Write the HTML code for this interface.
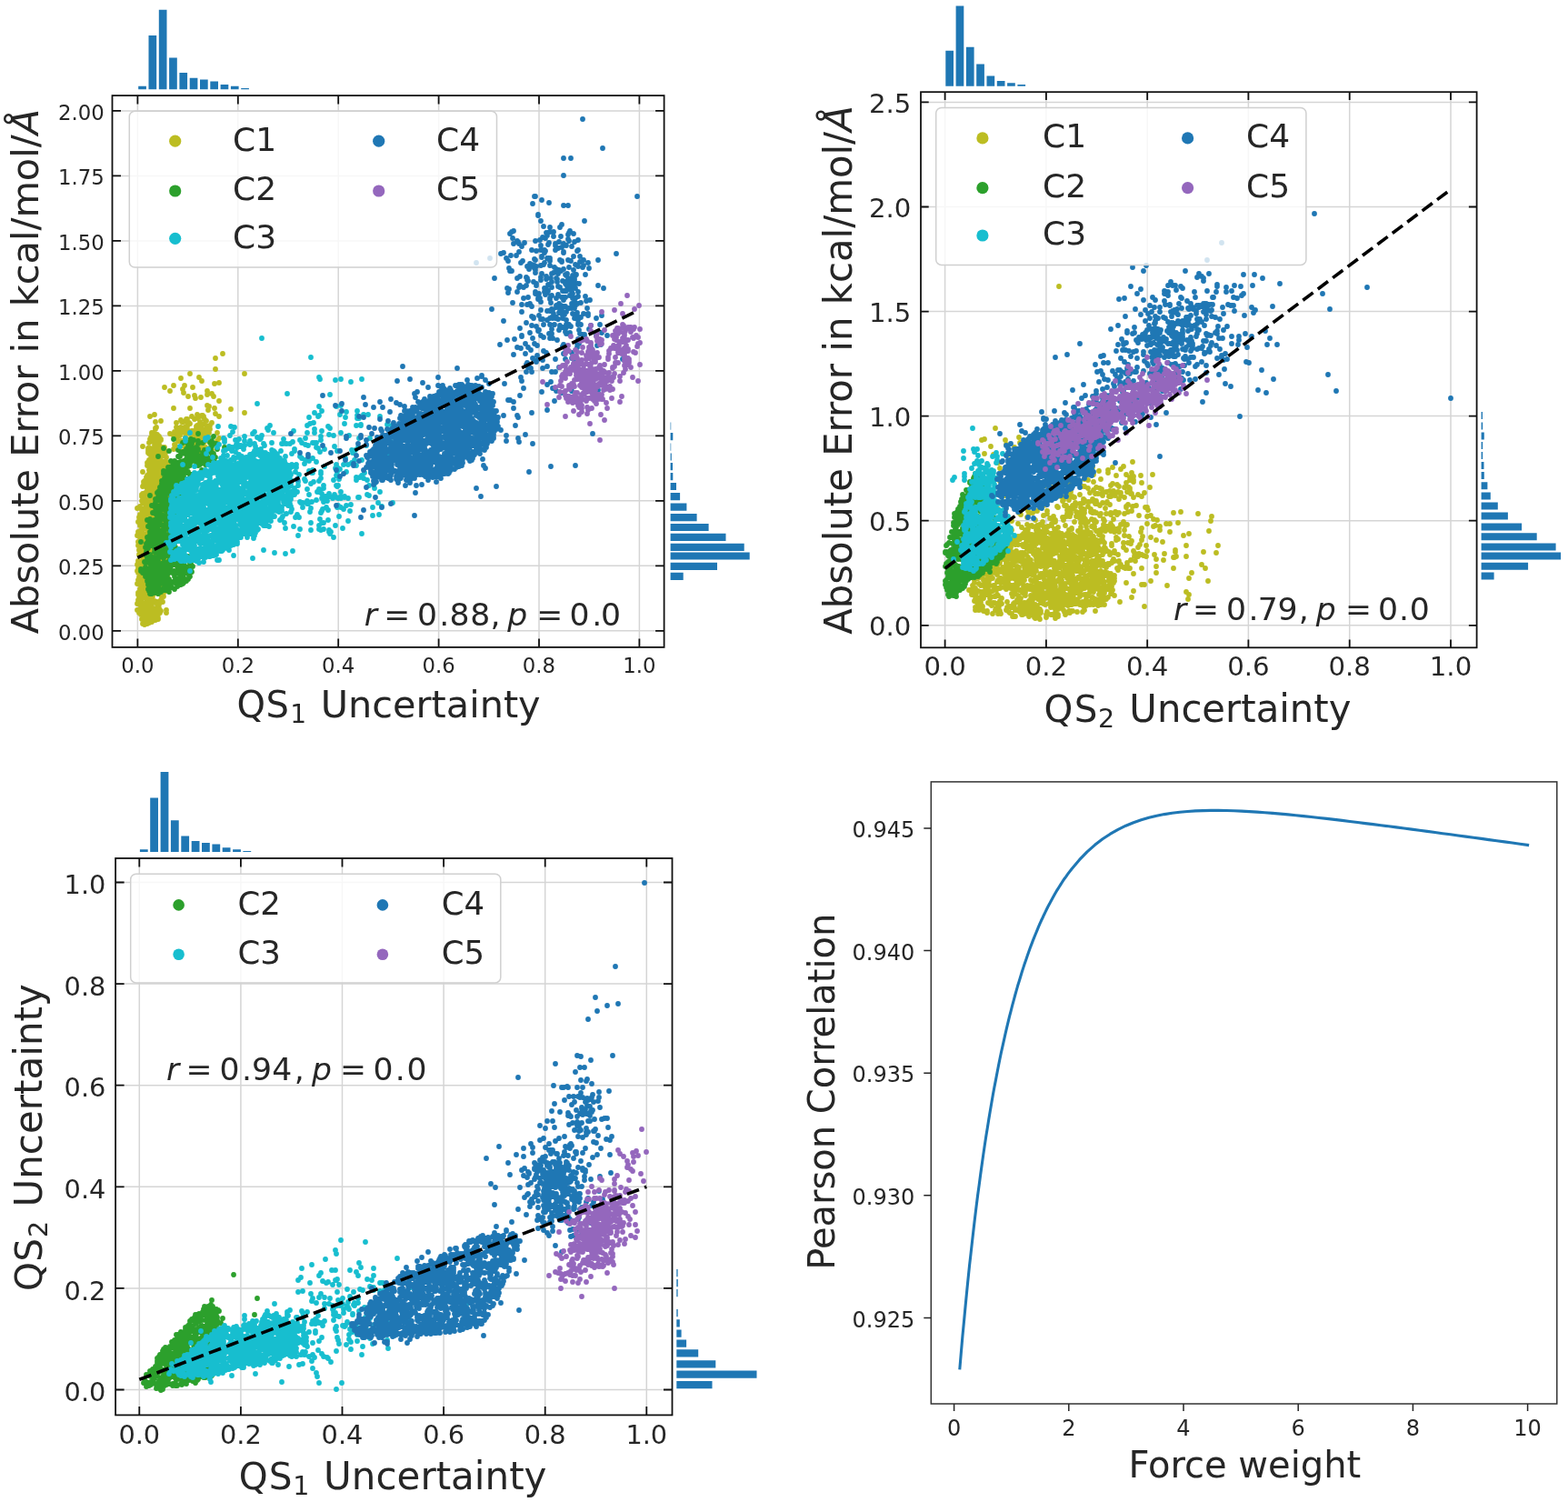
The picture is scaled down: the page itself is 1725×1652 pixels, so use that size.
<!DOCTYPE html>
<html><head><meta charset="utf-8"><title>figure</title><style>html,body{margin:0;padding:0;background:#fff;}svg{display:block;}</style></head><body>
<svg width="1725" height="1652" viewBox="0 0 1725 1652" font-family="'DejaVu Sans', 'Liberation Sans', sans-serif">
<rect width="1725" height="1652" fill="#fff"/>
<path d="M151.4 105.1V711.9M261.8 105.1V711.9M372.2 105.1V711.9M482.6 105.1V711.9M593 105.1V711.9M703.4 105.1V711.9M123.5 693.8H730.6M123.5 622.3H730.6M123.5 550.8H730.6M123.5 479.3H730.6M123.5 407.8H730.6M123.5 336.4H730.6M123.5 264.9H730.6M123.5 193.4H730.6M123.5 121.9H730.6" stroke="#d5d5d5" stroke-width="1.5" fill="none"/>
<path d="M156 545h0M171 630h0M176 542h0M152 618h0M189 552h0M154 557h0M156 580h0M176 622h0M166 663h0M172 647h0M162 575h0M157 543h0M183 594h0M172 629h0M184 559h0M174 676h0M159 559h0M174 575h0M171 651h0M165 635h0M175 507h0M161 535h0M184 630h0M187 560h0M170 674h0M162 654h0M188 589h0M169 673h0M159 663h0M160 619h0M152 619h0M159 587h0M165 596h0M170 510h0M188 591h0M180 616h0M165 574h0M152 617h0M158 568h0M170 627h0M153 638h0M175 493h0M164 538h0M164 583h0M152 638h0M185 549h0M170 661h0M181 620h0M159 546h0M154 655h0M176 610h0M184 634h0M159 545h0M155 631h0M152 654h0M163 493h0M171 635h0M160 667h0M164 563h0M162 652h0M169 584h0M164 650h0M182 518h0M153 569h0M168 534h0M161 556h0M186 601h0M173 507h0M178 620h0M179 558h0M183 555h0M189 523h0M157 570h0M177 594h0M157 553h0M169 579h0M183 608h0M182 591h0M166 680h0M157 669h0M161 525h0M166 500h0M187 542h0M177 545h0M158 656h0M171 531h0M176 514h0M160 678h0M156 546h0M174 639h0M164 580h0M177 648h0M165 525h0M156 544h0M164 595h0M167 519h0M188 527h0M174 653h0M180 544h0M154 627h0M179 591h0M157 628h0M170 519h0M153 640h0M180 557h0M184 519h0M162 606h0M183 607h0M157 582h0M167 675h0M171 472h0M163 497h0M176 563h0M161 552h0M177 660h0M166 481h0M181 511h0M163 675h0M168 524h0M174 554h0M172 530h0M162 600h0M155 602h0M164 611h0M174 603h0M157 612h0M184 596h0M183 515h0M177 560h0M188 519h0M163 528h0M177 502h0M165 644h0M182 636h0M167 656h0M157 617h0M187 559h0M179 572h0M182 590h0M174 599h0M169 525h0M174 637h0M174 508h0M180 522h0M184 580h0M171 670h0M187 612h0M155 575h0M166 684h0M155 676h0M176 506h0M170 497h0M169 530h0M157 636h0M176 652h0M168 497h0M173 482h0M171 538h0M156 619h0M172 638h0M186 569h0M158 609h0M151 671h0M154 662h0M170 492h0M153 639h0M173 559h0M168 572h0M160 549h0M180 554h0M173 645h0M163 611h0M161 618h0M182 498h0M169 479h0M168 554h0M154 642h0M158 605h0M166 641h0M154 625h0M153 658h0M160 683h0M167 631h0M181 647h0M176 484h0M153 672h0M187 534h0M166 608h0M168 533h0M182 632h0M166 669h0M157 620h0M175 561h0M155 605h0M178 657h0M184 625h0M189 522h0M156 662h0M188 605h0M175 597h0M179 531h0M166 664h0M163 498h0M181 535h0M164 541h0M172 613h0M169 493h0M191 554h0M171 623h0M158 657h0M171 577h0M165 521h0M158 530h0M175 633h0M167 684h0M152 587h0M167 535h0M175 480h0M172 600h0M171 599h0M172 512h0M167 636h0M167 530h0M153 620h0M184 610h0M161 594h0M170 652h0M180 545h0M169 638h0M166 572h0M178 566h0M158 625h0M175 636h0M173 565h0M168 622h0M160 581h0M154 559h0M156 622h0M166 522h0M165 680h0M174 634h0M187 611h0M166 531h0M159 646h0M175 671h0M151 642h0M167 669h0M164 487h0M153 659h0M174 572h0M177 484h0M182 587h0M169 652h0M160 607h0M182 616h0M190 569h0M189 530h0M156 579h0M152 596h0M159 533h0M168 494h0M179 542h0M169 507h0M172 674h0M182 515h0M179 587h0M161 576h0M181 589h0M168 677h0M163 586h0M162 685h0M161 628h0M152 574h0M184 523h0M156 551h0M164 521h0M175 559h0M167 619h0M167 476h0M152 652h0M163 588h0M162 683h0M179 508h0M163 495h0M166 504h0M180 612h0M183 503h0M176 597h0M158 617h0M182 642h0M180 560h0M168 484h0M156 604h0M188 523h0M180 556h0M175 669h0M179 543h0M167 477h0M165 498h0M175 590h0M171 639h0M180 635h0M189 571h0M186 519h0M167 495h0M166 516h0M167 668h0M184 557h0M169 608h0M172 568h0M157 677h0M176 525h0M177 652h0M157 567h0M185 616h0M174 612h0M159 564h0M173 499h0M164 645h0M177 564h0M176 565h0M172 635h0M164 619h0M166 553h0M188 608h0M170 485h0M170 491h0M162 523h0M161 528h0M190 566h0M164 517h0M191 551h0M158 667h0M183 638h0M174 670h0M180 630h0M181 534h0M169 680h0M160 666h0M179 541h0M170 572h0M188 555h0M162 658h0M188 518h0M191 564h0M158 632h0M166 554h0M157 656h0M152 671h0M189 531h0M166 661h0M177 506h0M170 625h0M181 522h0M184 565h0M167 602h0M173 544h0M163 597h0M160 643h0M175 523h0M165 483h0M164 512h0M151 628h0M186 610h0M177 532h0M181 517h0M190 574h0M160 563h0M189 566h0M172 592h0M171 597h0M163 522h0M188 535h0M183 604h0M169 586h0M158 669h0M173 478h0M179 527h0M172 649h0M184 624h0M169 531h0M187 570h0M164 649h0M177 515h0M180 656h0M176 569h0M174 666h0M190 571h0M164 571h0M155 675h0M169 670h0M171 593h0M170 641h0M176 530h0M187 601h0M155 570h0M165 604h0M158 666h0M162 512h0M165 577h0M186 605h0M161 533h0M181 651h0M174 633h0M157 613h0M186 599h0M167 612h0M164 499h0M172 567h0M152 630h0M162 581h0M175 627h0M182 621h0M177 615h0M181 549h0M175 488h0M154 573h0M154 654h0M182 644h0M183 511h0M170 621h0M174 483h0M169 486h0M154 621h0M162 603h0M164 647h0M165 510h0M180 576h0M158 645h0M169 551h0M176 555h0M156 644h0M154 566h0M159 550h0M160 612h0M154 659h0M160 542h0M160 602h0M171 552h0M178 653h0M166 643h0M158 614h0M155 650h0M162 580h0M158 593h0M171 502h0M180 530h0M159 591h0M169 603h0M166 607h0M179 592h0M161 612h0M179 613h0M174 598h0M172 550h0M156 590h0M174 545h0M191 567h0M175 489h0M156 650h0M176 594h0M164 676h0M166 540h0M186 561h0M182 614h0M168 586h0M158 608h0M176 602h0M185 567h0M183 580h0M162 565h0M173 528h0M156 645h0M173 496h0M173 510h0M165 649h0M165 493h0M180 533h0M171 669h0M168 558h0M156 648h0M163 636h0M187 538h0M187 556h0M160 674h0M164 610h0M181 607h0M180 649h0M160 554h0M164 495h0M170 648h0M162 556h0M186 555h0M162 555h0M186 583h0M152 585h0M158 643h0M169 581h0M165 545h0M167 681h0M186 623h0M175 502h0M167 595h0M184 542h0M172 519h0M188 520h0M169 543h0M162 686h0M188 598h0M182 509h0M184 549h0M160 562h0M169 485h0M161 579h0M173 563h0M160 620h0M166 618h0M181 566h0M173 664h0M184 548h0M174 484h0M156 681h0M182 556h0M165 624h0M167 626h0M156 631h0M153 626h0M158 670h0M161 619h0M177 644h0M175 644h0M185 571h0M155 591h0M167 637h0M154 607h0M168 482h0M155 648h0M167 515h0M182 537h0M163 650h0M181 495h0M163 523h0M170 477h0M154 632h0M169 537h0M175 557h0M185 540h0M174 496h0M175 530h0M153 627h0M187 544h0M162 579h0M173 540h0M173 591h0M188 537h0M176 568h0M178 579h0M175 648h0M177 645h0M174 583h0M165 610h0M177 616h0M154 629h0M170 543h0M160 566h0M174 640h0M178 514h0M163 666h0M175 665h0M154 670h0M169 634h0M170 530h0M160 664h0M176 636h0M165 593h0M164 685h0M176 644h0M179 653h0M162 662h0M164 659h0M176 560h0M168 510h0M172 671h0M177 627h0M166 581h0M155 667h0M179 501h0M169 570h0M167 567h0M174 531h0M173 619h0M163 558h0M183 563h0M181 584h0M168 588h0M151 664h0M168 656h0M156 582h0M177 629h0M169 558h0M164 532h0M162 541h0M172 527h0M161 567h0M167 599h0M171 505h0M161 566h0M172 585h0M179 605h0M182 566h0M179 646h0M169 653h0M157 592h0M177 561h0M164 509h0M187 532h0M160 649h0M190 544h0M192 562h0M164 507h0M191 559h0M157 604h0M161 658h0M190 575h0M169 513h0M187 610h0M162 538h0M164 573h0M153 635h0M158 533h0M174 504h0M173 676h0M158 589h0M182 530h0M162 540h0M175 603h0M184 568h0M182 647h0M179 593h0M173 543h0M165 643h0M168 663h0M178 639h0M166 596h0M155 645h0M168 616h0M158 672h0M174 521h0M183 564h0M162 616h0M180 567h0M156 561h0M166 501h0M170 481h0M168 599h0M174 543h0M179 662h0M179 492h0M191 555h0M170 482h0M174 643h0M152 663h0M159 529h0M161 648h0M172 517h0M159 681h0M174 541h0M185 624h0M154 586h0M161 544h0M171 600h0M157 578h0M175 577h0M167 607h0M174 662h0M182 645h0M165 660h0M166 550h0M176 611h0M161 679h0M156 574h0M179 523h0M167 652h0M179 496h0M166 638h0M163 585h0M173 609h0M176 497h0M157 643h0M175 641h0M158 654h0M191 556h0M173 524h0M159 589h0M153 622h0M160 636h0M164 566h0M175 602h0M178 610h0M180 598h0M169 626h0M177 535h0M174 518h0M163 530h0M167 682h0M179 537h0M177 596h0M152 662h0M178 605h0M179 559h0M161 573h0M176 674h0M177 483h0M174 530h0M160 682h0M170 489h0M162 509h0M151 621h0M179 600h0M177 565h0M184 561h0M167 632h0M189 576h0M152 626h0M155 596h0M161 664h0M164 663h0M171 471h0M155 623h0M166 568h0M183 613h0M170 647h0M165 535h0M171 682h0M169 587h0M177 576h0M179 589h0M182 588h0M173 628h0M152 660h0M183 605h0M181 595h0M169 519h0M181 523h0M175 542h0M180 583h0M154 648h0M191 545h0M152 600h0M158 563h0M172 566h0M158 610h0M164 578h0M169 681h0M174 680h0M181 605h0M161 577h0M166 682h0M183 550h0M160 553h0M164 506h0M173 518h0M162 614h0M162 668h0M176 535h0M182 507h0M159 606h0M165 533h0M162 537h0M179 638h0M153 674h0M176 496h0M177 575h0M173 641h0M153 660h0M172 479h0M171 637h0M152 624h0M164 626h0M180 593h0M159 598h0M159 687h0M168 503h0M180 595h0M164 554h0M178 598h0M179 544h0M159 618h0M154 584h0M170 552h0M183 547h0M159 651h0M164 575h0M154 591h0M170 600h0M173 579h0M174 491h0M163 644h0M158 634h0M159 593h0M163 655h0M168 611h0M178 523h0M166 564h0M172 503h0M181 576h0M174 615h0M151 589h0M175 495h0M168 646h0M169 675h0M161 670h0M167 605h0M156 599h0M174 553h0M169 502h0M153 600h0M160 663h0M173 590h0M155 608h0M176 671h0M165 548h0M157 535h0M173 506h0M157 546h0M158 649h0M180 494h0M177 516h0M174 681h0M168 590h0M180 497h0M170 576h0M157 638h0M185 587h0M154 663h0M188 529h0M172 470h0M158 550h0M157 686h0M166 530h0M191 553h0M165 671h0M187 586h0M173 557h0M182 603h0M175 520h0M179 614h0M174 502h0M157 681h0M167 481h0M185 527h0M167 664h0M159 569h0M166 561h0M164 640h0M187 551h0M175 591h0M169 632h0M183 639h0M169 540h0M176 642h0M171 663h0M164 670h0M166 483h0M171 587h0M168 636h0M162 553h0M159 666h0M170 527h0M153 605h0M171 649h0M153 610h0M170 511h0M177 549h0M167 606h0M154 628h0M175 620h0M182 596h0M160 611h0M175 581h0M180 629h0M156 618h0M177 511h0M163 570h0M166 623h0M191 546h0M178 550h0M169 669h0M157 491h0M160 591h0M179 557h0M179 604h0M151 559h0M181 582h0M160 555h0M164 529h0M170 535h0M169 629h0M167 547h0M182 638h0M178 650h0M184 534h0M172 555h0M172 518h0M165 670h0M173 620h0M175 486h0M182 615h0M160 651h0M168 681h0M188 528h0M165 632h0M172 663h0M192 582h0M173 663h0M163 590h0M175 549h0M185 509h0M161 527h0M172 534h0M180 615h0M173 612h0M154 578h0M177 672h0M177 608h0M180 622h0M156 641h0M163 603h0M180 538h0M167 638h0M179 561h0M168 545h0M165 526h0M187 524h0M157 552h0M179 516h0M180 531h0M170 555h0M175 630h0M166 666h0M167 524h0M183 674h0M178 559h0M171 566h0M166 520h0M167 661h0M170 534h0M183 671h0M165 651h0M165 634h0M157 519h0M167 627h0M160 606h0M164 536h0M191 479h0M215 474h0M216 471h0M209 477h0M206 461h0M193 477h0M211 477h0M203 473h0M217 456h0M223 457h0M205 485h0M217 468h0M214 492h0M220 471h0M230 482h0M220 464h0M221 472h0M222 476h0M207 484h0M212 495h0M216 488h0M227 463h0M227 478h0M239 476h0M199 472h0M212 484h0M191 494h0M206 473h0M192 489h0M226 492h0M221 467h0M199 496h0M216 495h0M221 481h0M233 495h0M222 481h0M214 490h0M211 485h0M220 469h0M216 481h0M206 476h0M197 473h0M225 466h0M203 470h0M209 466h0M222 489h0M211 458h0M226 479h0M221 466h0M196 485h0M194 470h0M200 490h0M213 476h0M204 481h0M196 477h0M226 485h0M201 487h0M211 474h0M215 478h0M206 496h0M216 472h0M219 496h0M224 472h0M205 461h0M199 470h0M214 461h0M200 472h0M217 485h0M206 472h0M219 468h0M218 471h0M177 463h0M208 465h0M214 497h0M218 480h0M206 469h0M198 485h0M214 493h0M220 472h0M187 477h0M194 465h0M205 462h0M181 492h0M205 512h0M222 471h0M199 462h0M201 489h0M217 483h0M220 493h0M228 475h0M213 481h0M225 486h0M217 475h0M206 483h0M230 476h0M205 483h0M214 480h0M241 458h0M222 479h0M202 464h0M216 469h0M210 486h0M194 475h0M193 490h0M216 485h0M216 476h0M222 457h0M239 485h0M192 475h0M198 474h0M200 485h0M205 472h0M223 477h0M208 487h0M205 484h0M198 472h0M204 493h0M207 489h0M211 497h0M195 477h0M211 480h0M219 489h0M216 482h0M197 479h0M222 477h0M222 475h0M197 472h0M194 482h0M212 475h0M200 464h0M196 479h0M223 495h0M223 492h0M220 458h0M228 470h0M223 486h0M198 479h0M213 477h0M217 479h0M231 468h0M217 490h0M209 449h0M246 517h0M236 449h0M212 426h0M212 474h0M199 416h0M201 497h0M207 475h0M241 482h0M203 476h0M225 461h0M222 419h0M221 437h0M206 464h0M228 446h0M216 460h0M214 435h0M202 432h0M165 458h0M228 469h0M229 451h0M201 428h0M209 411h0M219 499h0M191 424h0M228 430h0M228 434h0M231 472h0M233 433h0M171 464h0M224 458h0M203 424h0M237 455h0M236 422h0M230 447h0M245 389h0M237 394h0M237 406h0M219 415h0M241 421h0M269 411h0M181 426h0M187 430h0M207 436h0M215 438h0M235 436h0M241 441h0M191 449h0M170 456h0M254 450h0M269 454h0M233 465h0" stroke="#bcbd22" stroke-width="5.8" stroke-linecap="round" fill="none"/>
<path d="M197 614h0M197 568h0M173 626h0M188 570h0M186 647h0M174 577h0M181 557h0M187 596h0M199 538h0M188 562h0M202 510h0M196 554h0M165 610h0M187 600h0M191 545h0M197 605h0M194 642h0M170 638h0M162 633h0M182 620h0M180 580h0M201 642h0M202 518h0M184 560h0M175 607h0M214 532h0M196 526h0M166 597h0M163 642h0M194 606h0M186 599h0M200 516h0M173 595h0M191 587h0M184 610h0M210 538h0M194 514h0M185 526h0M172 630h0M176 591h0M204 518h0M190 555h0M195 616h0M192 634h0M168 591h0M183 646h0M166 633h0M191 631h0M177 587h0M168 638h0M181 579h0M170 582h0M160 619h0M193 527h0M200 537h0M170 576h0M184 620h0M167 578h0M205 639h0M166 618h0M190 589h0M170 557h0M186 601h0M207 519h0M207 544h0M186 651h0M185 551h0M202 641h0M199 513h0M177 542h0M172 613h0M181 540h0M181 592h0M186 519h0M178 590h0M184 579h0M173 557h0M176 612h0M180 625h0M171 549h0M186 596h0M182 532h0M188 596h0M185 610h0M195 576h0M188 581h0M164 645h0M195 511h0M211 532h0M200 633h0M178 585h0M171 580h0M180 521h0M175 550h0M201 609h0M167 577h0M187 533h0M186 559h0M196 565h0M175 595h0M173 603h0M164 650h0M186 561h0M194 518h0M181 634h0M212 531h0M201 553h0M189 526h0M181 611h0M195 637h0M197 536h0M181 607h0M176 587h0M173 574h0M174 620h0M180 536h0M200 535h0M173 563h0M199 632h0M186 648h0M204 533h0M173 548h0M163 593h0M186 629h0M180 581h0M171 607h0M200 550h0M178 592h0M192 556h0M201 526h0M174 582h0M208 634h0M170 593h0M203 516h0M183 560h0M191 516h0M189 543h0M171 555h0M193 609h0M199 638h0M184 557h0M173 624h0M188 533h0M209 522h0M179 584h0M190 614h0M178 561h0M195 536h0M177 648h0M186 607h0M179 551h0M193 628h0M167 594h0M208 537h0M174 543h0M186 641h0M198 533h0M185 631h0M203 507h0M185 603h0M180 519h0M169 600h0M197 538h0M200 627h0M197 623h0M191 524h0M180 605h0M175 557h0M169 618h0M178 594h0M184 647h0M174 550h0M183 637h0M202 509h0M164 600h0M191 559h0M191 616h0M190 596h0M187 539h0M193 596h0M173 564h0M173 605h0M202 542h0M205 530h0M209 525h0M190 565h0M174 596h0M183 592h0M198 563h0M182 537h0M170 597h0M176 556h0M170 607h0M193 620h0M185 524h0M195 593h0M195 545h0M197 522h0M184 565h0M175 540h0M181 526h0M170 642h0M188 590h0M180 567h0M170 631h0M201 619h0M176 572h0M178 543h0M171 646h0M162 627h0M201 637h0M184 518h0M190 564h0M191 538h0M189 530h0M185 639h0M173 598h0M186 590h0M167 653h0M180 579h0M171 619h0M183 534h0M191 518h0M196 558h0M184 523h0M201 624h0M197 621h0M169 595h0M193 612h0M186 594h0M196 541h0M161 598h0M198 609h0M170 652h0M206 545h0M171 623h0M207 542h0M165 575h0M175 633h0M170 650h0M188 569h0M163 633h0M184 577h0M190 549h0M175 599h0M195 622h0M163 595h0M163 643h0M173 616h0M207 637h0M190 518h0M198 545h0M172 607h0M190 628h0M165 630h0M199 545h0M209 620h0M188 536h0M200 511h0M163 630h0M183 569h0M205 630h0M212 534h0M190 620h0M172 551h0M182 639h0M198 571h0M180 614h0M174 629h0M171 586h0M206 533h0M160 634h0M195 645h0M175 566h0M175 572h0M190 529h0M171 633h0M211 629h0M178 549h0M186 637h0M175 624h0M194 557h0M177 561h0M190 580h0M163 579h0M196 569h0M180 553h0M199 536h0M184 576h0M194 534h0M186 518h0M165 599h0M190 604h0M173 635h0M201 544h0M177 631h0M195 579h0M180 590h0M195 532h0M188 595h0M168 587h0M180 560h0M201 545h0M180 534h0M178 605h0M182 530h0M197 571h0M171 630h0M180 537h0M164 646h0M201 539h0M197 620h0M192 648h0M192 507h0M179 585h0M202 549h0M208 635h0M176 595h0M197 582h0M181 640h0M165 652h0M159 618h0M191 593h0M169 616h0M173 568h0M163 626h0M198 613h0M196 613h0M165 571h0M173 590h0M186 520h0M194 616h0M200 617h0M187 543h0M167 622h0M195 581h0M176 609h0M177 640h0M196 564h0M189 594h0M167 599h0M197 584h0M191 514h0M195 528h0M176 610h0M205 528h0M169 599h0M201 536h0M184 601h0M170 602h0M177 638h0M167 644h0M195 539h0M188 586h0M210 626h0M199 508h0M189 539h0M180 518h0M179 549h0M206 542h0M212 522h0M183 619h0M190 553h0M178 550h0M185 565h0M162 591h0M168 580h0M186 557h0M187 556h0M199 611h0M200 552h0M180 609h0M184 580h0M174 541h0M167 617h0M181 585h0M191 600h0M210 525h0M168 579h0M176 621h0M173 592h0M204 551h0M186 534h0M191 552h0M172 566h0M181 558h0M166 584h0M190 629h0M172 605h0M198 633h0M187 616h0M166 627h0M169 638h0M169 613h0M175 643h0M182 545h0M172 576h0M191 599h0M187 566h0M185 528h0M190 579h0M180 619h0M190 608h0M170 647h0M180 649h0M163 591h0M194 613h0M166 573h0M193 550h0M167 633h0M165 629h0M189 595h0M165 625h0M179 534h0M182 603h0M202 627h0M191 565h0M179 569h0M174 635h0M176 648h0M185 628h0M165 585h0M180 638h0M185 622h0M177 629h0M162 603h0M160 633h0M179 552h0M182 649h0M168 617h0M176 543h0M170 572h0M183 648h0M180 626h0M202 530h0M179 641h0M171 559h0M195 513h0M168 581h0M172 640h0M205 510h0M182 631h0M191 520h0M201 533h0M185 596h0M173 567h0M180 542h0M174 575h0M173 580h0M194 513h0M200 632h0M210 620h0M208 530h0M180 611h0M197 558h0M187 582h0M190 516h0M193 522h0M179 642h0M193 611h0M189 513h0M189 524h0M184 555h0M203 617h0M187 555h0M165 572h0M171 584h0M202 514h0M174 606h0M183 644h0M196 512h0M200 623h0M193 521h0M167 573h0M201 523h0M199 642h0M195 623h0M197 521h0M178 636h0M208 533h0M166 587h0M193 531h0M161 611h0M177 584h0M165 588h0M193 590h0M185 518h0M206 520h0M191 509h0M193 636h0M174 613h0M197 532h0M183 611h0M176 573h0M172 563h0M168 633h0M181 598h0M188 623h0M164 596h0M191 617h0M184 644h0M172 603h0M192 633h0M206 544h0M196 580h0M202 556h0M168 627h0M207 509h0M183 539h0M186 540h0M190 630h0M167 638h0M178 532h0M192 532h0M206 508h0M194 521h0M199 543h0M198 544h0M206 510h0M190 640h0M176 536h0M186 538h0M162 615h0M187 586h0M192 513h0M187 644h0M186 535h0M168 618h0M206 527h0M193 584h0M183 567h0M195 571h0M180 547h0M166 590h0M192 584h0M172 595h0M176 546h0M177 651h0M199 510h0M174 653h0M183 631h0M187 573h0M209 629h0M202 623h0M175 585h0M196 557h0M204 629h0M168 597h0M203 622h0M202 525h0M181 605h0M173 613h0M185 517h0M175 642h0M179 535h0M179 587h0M207 533h0M199 617h0M193 575h0M209 634h0M196 630h0M205 540h0M184 543h0M174 616h0M176 629h0M206 624h0M198 559h0M183 557h0M161 602h0M182 526h0M189 587h0M186 609h0M184 627h0M177 577h0M191 586h0M168 564h0M169 648h0M176 599h0M181 645h0M197 622h0M168 616h0M186 525h0M187 540h0M167 647h0M196 570h0M184 636h0M192 596h0M184 619h0M191 539h0M182 561h0M175 628h0M188 643h0M166 621h0M189 546h0M184 643h0M193 577h0M182 577h0M184 602h0M202 533h0M202 524h0M164 643h0M171 582h0M173 550h0M183 604h0M196 644h0M195 644h0M187 560h0M201 632h0M181 561h0M205 615h0M202 552h0M205 531h0M191 621h0M171 620h0M198 534h0M198 626h0M173 600h0M207 520h0M165 620h0M207 513h0M193 528h0M192 597h0M192 509h0M193 602h0M173 586h0M166 600h0M201 534h0M202 507h0M179 567h0M161 607h0M162 631h0M188 583h0M176 607h0M197 619h0M183 596h0M177 536h0M200 615h0M170 603h0M202 635h0M186 617h0M169 642h0M174 628h0M185 569h0M207 541h0M186 558h0M188 602h0M184 525h0M189 617h0M165 653h0M189 604h0M187 585h0M193 508h0M174 643h0M191 556h0M203 615h0M190 509h0M204 531h0M182 602h0M163 648h0M172 598h0M188 591h0M200 549h0M173 625h0M183 628h0M181 529h0M182 632h0M196 643h0M199 515h0M205 548h0M181 519h0M172 585h0M164 637h0M171 595h0M160 602h0M200 513h0M189 516h0M191 553h0M181 570h0M192 580h0M200 614h0M186 593h0M183 577h0M183 622h0M172 559h0M204 535h0M181 610h0M200 538h0M187 524h0M175 603h0M160 624h0M176 641h0M208 539h0M194 540h0M162 639h0M166 595h0M165 614h0M210 529h0M182 573h0M172 601h0M186 582h0M162 617h0M187 528h0M176 575h0M183 540h0M192 520h0M175 549h0M177 546h0M200 541h0M198 640h0M163 638h0M161 632h0M171 553h0M185 514h0M180 540h0M189 646h0M196 577h0M177 595h0M188 645h0M198 612h0M163 603h0M167 556h0M201 531h0M192 640h0M180 612h0M173 561h0M184 632h0M186 522h0M187 615h0M197 518h0M212 623h0M187 606h0M170 598h0M215 534h0M208 528h0M187 643h0M210 537h0M185 540h0M188 578h0M162 572h0M166 650h0M181 559h0M166 625h0M176 568h0M178 623h0M176 565h0M199 539h0M157 630h0M174 557h0M170 592h0M184 592h0M155 628h0M188 564h0M199 546h0M160 627h0M176 590h0M173 542h0M155 626h0M176 620h0M155 596h0M199 643h0M209 545h0M182 608h0M185 589h0M203 629h0M183 633h0M182 589h0M186 555h0M206 535h0M174 649h0M184 598h0M178 529h0M203 570h0M184 549h0M165 545h0M192 639h0M207 612h0M190 641h0M164 591h0M181 609h0M203 530h0M198 516h0M184 567h0M178 610h0M187 607h0M199 551h0M197 527h0M166 632h0M187 590h0M203 548h0M202 550h0M181 571h0M223 501h0M224 518h0M209 504h0M216 509h0M205 505h0M210 506h0M226 511h0M209 499h0M226 507h0M213 496h0M217 497h0M212 506h0M232 495h0M218 477h0M205 498h0M218 512h0M233 491h0M220 506h0M201 497h0M206 487h0M202 497h0M235 480h0M219 511h0M228 497h0M227 504h0M211 500h0M231 487h0M214 497h0M220 511h0M188 507h0M210 494h0M205 499h0M218 488h0M198 502h0M212 485h0M180 493h0M212 507h0M205 500h0M239 494h0M218 501h0M223 498h0M174 502h0M209 510h0M199 499h0M233 485h0M228 504h0M217 493h0M217 510h0M214 500h0M224 504h0M223 487h0M213 484h0M205 497h0M237 503h0M209 512h0M205 494h0M247 492h0M216 492h0M213 493h0M196 502h0M201 487h0M234 507h0M211 488h0M231 520h0M200 499h0M227 501h0M218 485h0M210 503h0M191 483h0M235 507h0M218 494h0M216 502h0M202 508h0M236 512h0M228 510h0M224 507h0M225 495h0M207 490h0M214 507h0M223 503h0M209 495h0M235 499h0M228 508h0M236 508h0M196 495h0M238 488h0M210 483h0M206 496h0M212 497h0M236 488h0M223 509h0M222 517h0M231 493h0M232 507h0M233 499h0M230 505h0M221 502h0M224 499h0M198 508h0M214 506h0M186 496h0M215 504h0M218 495h0M206 500h0M209 505h0M231 504h0M211 486h0" stroke="#2ca02c" stroke-width="5.8" stroke-linecap="round" fill="none"/>
<path d="M283 548h0M245 566h0M278 527h0M282 498h0M229 568h0M258 547h0M270 559h0M230 529h0M307 532h0M309 525h0M221 547h0M224 548h0M203 584h0M280 582h0M273 532h0M293 528h0M195 555h0M194 606h0M276 526h0M230 540h0M305 531h0M211 594h0M230 603h0M302 568h0M272 590h0M319 527h0M281 507h0M216 617h0M235 584h0M302 524h0M229 596h0M283 541h0M300 517h0M277 565h0M203 589h0M213 609h0M296 539h0M289 548h0M200 579h0M240 553h0M287 528h0M278 572h0M291 563h0M288 567h0M272 509h0M226 586h0M276 540h0M243 573h0M234 547h0M195 579h0M312 527h0M284 511h0M223 566h0M267 543h0M242 547h0M285 521h0M261 559h0M205 593h0M262 527h0M239 588h0M188 616h0M222 565h0M261 592h0M207 531h0M317 541h0M302 525h0M313 535h0M197 583h0M278 548h0M222 592h0M235 607h0M205 534h0M240 524h0M248 596h0M206 597h0M284 541h0M310 532h0M319 535h0M213 541h0M249 578h0M316 539h0M207 541h0M197 555h0M247 602h0M232 534h0M287 517h0M254 538h0M309 536h0M307 513h0M235 611h0M192 563h0M289 501h0M275 549h0M193 559h0M265 559h0M274 556h0M232 530h0M246 590h0M268 537h0M308 561h0M278 538h0M279 586h0M300 526h0M238 515h0M304 540h0M290 562h0M268 563h0M265 591h0M300 557h0M246 565h0M210 602h0M201 589h0M289 520h0M276 514h0M209 583h0M274 525h0M232 546h0M247 532h0M248 547h0M244 587h0M215 593h0M234 572h0M290 563h0M289 511h0M308 504h0M281 499h0M308 536h0M310 562h0M312 530h0M254 587h0M298 539h0M275 573h0M242 595h0M230 570h0M248 515h0M290 535h0M226 613h0M213 573h0M237 586h0M238 551h0M304 529h0M192 544h0M235 535h0M224 573h0M263 570h0M203 594h0M195 538h0M252 582h0M267 539h0M275 569h0M191 541h0M294 559h0M289 525h0M218 585h0M216 562h0M255 596h0M245 521h0M284 497h0M304 514h0M242 603h0M207 615h0M216 530h0M219 554h0M253 555h0M216 535h0M296 535h0M221 583h0M228 564h0M246 584h0M231 597h0M222 559h0M269 562h0M247 595h0M235 602h0M308 539h0M210 605h0M205 583h0M314 510h0M230 573h0M239 531h0M286 575h0M286 498h0M306 555h0M214 576h0M296 510h0M192 595h0M237 532h0M251 548h0M306 539h0M229 609h0M188 591h0M299 501h0M265 562h0M236 590h0M287 540h0M255 586h0M279 501h0M299 526h0M214 587h0M245 507h0M290 507h0M320 549h0M203 606h0M223 539h0M270 506h0M195 595h0M197 595h0M284 535h0M286 543h0M227 589h0M280 587h0M306 544h0M203 587h0M201 596h0M285 543h0M292 516h0M191 608h0M243 578h0M240 516h0M231 612h0M226 540h0M258 528h0M233 520h0M229 538h0M207 566h0M189 545h0M187 596h0M231 546h0M251 558h0M318 531h0M208 537h0M279 551h0M188 596h0M268 566h0M279 512h0M272 507h0M188 601h0M246 574h0M257 528h0M260 521h0M277 525h0M225 541h0M280 583h0M194 610h0M196 607h0M238 538h0M226 531h0M227 584h0M297 506h0M270 535h0M220 597h0M219 582h0M243 575h0M252 524h0M202 545h0M236 562h0M255 520h0M248 590h0M271 559h0M235 603h0M247 519h0M297 570h0M261 520h0M289 550h0M252 580h0M282 511h0M249 508h0M255 552h0M282 549h0M317 525h0M267 557h0M191 592h0M245 557h0M218 529h0M283 558h0M297 543h0M261 569h0M197 611h0M233 514h0M321 541h0M192 614h0M248 538h0M254 597h0M201 613h0M201 538h0M221 595h0M297 508h0M208 602h0M280 528h0M293 531h0M215 528h0M270 550h0M294 537h0M317 520h0M230 612h0M258 524h0M320 543h0M281 543h0M217 572h0M214 608h0M252 561h0M239 600h0M303 530h0M267 563h0M260 566h0M223 521h0M256 506h0M247 551h0M236 559h0M251 592h0M210 527h0M196 561h0M246 556h0M312 511h0M242 606h0M217 534h0M239 514h0M307 522h0M255 535h0M221 604h0M270 579h0M211 563h0M263 547h0M235 516h0M222 520h0M261 555h0M286 558h0M288 515h0M231 526h0M218 564h0M281 585h0M276 538h0M283 542h0M212 593h0M245 560h0M241 581h0M288 519h0M264 530h0M253 522h0M283 536h0M206 599h0M243 509h0M294 506h0M239 603h0M187 607h0M214 573h0M260 518h0M201 572h0M296 523h0M224 568h0M192 589h0M260 514h0M217 573h0M248 585h0M315 536h0M203 564h0M247 579h0M189 568h0M202 600h0M235 536h0M214 522h0M237 529h0M192 597h0M294 561h0M192 580h0M229 591h0M222 577h0M278 532h0M195 614h0M200 534h0M204 541h0M290 559h0M199 534h0M257 592h0M302 547h0M270 585h0M312 547h0M188 584h0M296 528h0M311 539h0M317 543h0M191 584h0M210 613h0M245 554h0M214 559h0M221 576h0M282 566h0M292 566h0M197 566h0M227 518h0M248 519h0M307 556h0M281 555h0M196 586h0M232 520h0M226 594h0M254 537h0M258 597h0M223 590h0M265 503h0M204 611h0M284 543h0M224 546h0M208 600h0M278 517h0M251 595h0M241 530h0M190 571h0M199 566h0M279 525h0M235 571h0M218 554h0M291 511h0M232 600h0M231 575h0M211 564h0M232 543h0M252 553h0M250 513h0M207 604h0M207 593h0M267 529h0M207 580h0M305 503h0M300 550h0M259 585h0M212 601h0M256 544h0M245 602h0M223 545h0M266 502h0M304 517h0M223 560h0M189 562h0M220 590h0M227 552h0M249 563h0M308 562h0M236 510h0M220 520h0M286 538h0M218 528h0M233 597h0M271 503h0M242 521h0M297 547h0M271 565h0M216 589h0M281 542h0M276 561h0M217 612h0M236 563h0M281 582h0M259 515h0M188 564h0M297 549h0M316 515h0M280 561h0M226 612h0M246 522h0M233 566h0M212 582h0M258 555h0M264 577h0M252 530h0M199 595h0M205 537h0M197 605h0M287 497h0M242 583h0M231 599h0M262 540h0M254 600h0M197 585h0M202 610h0M275 571h0M232 568h0M241 599h0M296 503h0M260 515h0M222 550h0M285 532h0M262 583h0M195 573h0M313 548h0M209 576h0M241 554h0M286 569h0M271 506h0M232 541h0M250 590h0M279 576h0M276 518h0M245 579h0M191 614h0M218 547h0M211 608h0M268 515h0M316 516h0M270 504h0M269 522h0M231 529h0M201 599h0M209 554h0M241 590h0M291 559h0M301 525h0M294 531h0M276 541h0M288 503h0M192 543h0M215 534h0M258 553h0M247 600h0M257 503h0M201 605h0M242 591h0M228 608h0M274 509h0M222 595h0M293 538h0M206 536h0M295 570h0M249 560h0M243 602h0M208 593h0M240 594h0M288 541h0M200 612h0M276 549h0M265 558h0M293 574h0M221 541h0M190 615h0M279 533h0M212 614h0M231 554h0M310 561h0M259 563h0M214 600h0M190 612h0M234 573h0M297 509h0M202 541h0M222 582h0M298 549h0M245 534h0M294 548h0M284 562h0M304 519h0M272 589h0M250 597h0M275 586h0M314 546h0M200 617h0M260 557h0M226 601h0M267 544h0M236 513h0M292 578h0M298 569h0M286 564h0M276 579h0M199 568h0M250 570h0M280 576h0M240 529h0M302 536h0M251 515h0M206 535h0M194 543h0M274 573h0M208 552h0M247 581h0M244 530h0M238 529h0M244 512h0M267 537h0M304 535h0M255 584h0M313 553h0M192 590h0M190 547h0M256 572h0M317 512h0M227 553h0M213 585h0M199 591h0M212 604h0M217 594h0M248 589h0M280 537h0M288 528h0M222 589h0M302 543h0M228 542h0M260 510h0M208 599h0M309 560h0M268 587h0M202 590h0M203 600h0M190 582h0M194 538h0M293 509h0M222 551h0M243 524h0M256 531h0M232 532h0M255 538h0M272 591h0M225 549h0M258 582h0M203 586h0M276 501h0M236 556h0M216 555h0M215 545h0M228 520h0M223 533h0M275 582h0M236 553h0M271 521h0M221 544h0M248 537h0M197 604h0M232 606h0M281 526h0M212 596h0M316 522h0M214 523h0M264 538h0M278 500h0M189 599h0M243 574h0M294 527h0M301 559h0M199 537h0M226 570h0M212 574h0M266 528h0M209 563h0M298 550h0M272 560h0M290 525h0M204 590h0M216 534h0M254 527h0M228 584h0M220 592h0M282 541h0M299 510h0M289 536h0M198 563h0M203 557h0M286 553h0M212 540h0M190 553h0M286 520h0M304 543h0M202 535h0M282 561h0M254 567h0M245 571h0M281 544h0M289 530h0M258 572h0M228 606h0M308 505h0M205 577h0M299 531h0M288 543h0M238 575h0M237 582h0M235 519h0M306 523h0M244 581h0M255 524h0M271 542h0M206 544h0M189 596h0M285 559h0M240 560h0M294 534h0M300 568h0M199 580h0M221 550h0M233 559h0M307 548h0M222 522h0M271 587h0M234 568h0M317 531h0M292 498h0M285 524h0M194 569h0M273 518h0M237 549h0M216 556h0M307 563h0M240 509h0M256 598h0M273 580h0M207 556h0M265 525h0M281 559h0M261 571h0M194 583h0M258 512h0M222 524h0M214 560h0M214 586h0M216 568h0M316 523h0M207 581h0M317 517h0M218 521h0M216 609h0M231 603h0M304 521h0M298 518h0M272 571h0M318 535h0M276 569h0M250 589h0M251 541h0M299 529h0M227 531h0M248 545h0M232 610h0M279 499h0M211 582h0M212 581h0M212 578h0M298 558h0M204 536h0M247 603h0M207 559h0M231 523h0M201 552h0M216 552h0M296 511h0M235 583h0M230 579h0M239 585h0M223 576h0M217 559h0M188 578h0M286 523h0M207 601h0M276 550h0M268 538h0M312 534h0M233 518h0M257 575h0M311 540h0M269 505h0M284 534h0M207 586h0M309 530h0M245 589h0M276 531h0M291 561h0M232 555h0M249 601h0M249 565h0M257 513h0M262 548h0M242 563h0M302 537h0M191 559h0M277 580h0M255 569h0M267 571h0M267 505h0M267 564h0M253 581h0M248 567h0M277 510h0M204 599h0M238 554h0M206 551h0M263 523h0M258 538h0M243 551h0M205 543h0M201 541h0M217 533h0M235 572h0M232 512h0M251 508h0M203 571h0M270 520h0M232 542h0M219 547h0M250 548h0M189 590h0M212 524h0M232 567h0M247 597h0M250 536h0M305 556h0M261 511h0M235 550h0M203 617h0M215 608h0M260 595h0M199 572h0M247 537h0M222 526h0M191 577h0M261 550h0M244 541h0M302 522h0M240 599h0M241 563h0M249 521h0M198 537h0M217 589h0M212 602h0M216 522h0M294 519h0M228 577h0M302 502h0M245 513h0M197 614h0M277 547h0M227 534h0M187 569h0M228 562h0M269 573h0M256 524h0M293 548h0M274 514h0M291 510h0M289 506h0M242 588h0M277 518h0M314 532h0M205 576h0M225 608h0M202 605h0M200 563h0M245 510h0M313 551h0M274 506h0M208 616h0M226 603h0M206 596h0M225 566h0M213 545h0M318 519h0M194 573h0M219 553h0M192 593h0M308 516h0M302 550h0M247 530h0M288 513h0M273 507h0M211 543h0M283 523h0M246 521h0M253 509h0M231 556h0M248 521h0M220 598h0M241 542h0M277 585h0M286 533h0M281 512h0M206 527h0M316 513h0M227 536h0M320 530h0M306 526h0M281 553h0M198 559h0M203 615h0M229 574h0M282 544h0M249 582h0M197 548h0M240 567h0M259 578h0M301 547h0M281 515h0M211 554h0M215 533h0M260 548h0M249 507h0M258 580h0M204 572h0M252 589h0M219 559h0M308 514h0M307 533h0M296 506h0M200 538h0M221 575h0M226 588h0M224 613h0M213 616h0M251 539h0M275 538h0M281 579h0M211 551h0M282 562h0M232 570h0M240 601h0M257 559h0M240 545h0M301 520h0M198 581h0M204 545h0M304 534h0M314 524h0M227 539h0M266 578h0M209 534h0M305 562h0M266 555h0M212 546h0M268 549h0M246 552h0M188 602h0M266 519h0M206 603h0M270 515h0M299 534h0M292 549h0M273 533h0M232 605h0M219 575h0M306 552h0M276 556h0M206 604h0M273 570h0M256 558h0M249 586h0M309 535h0M237 530h0M252 519h0M200 561h0M277 538h0M196 614h0M246 592h0M216 606h0M316 528h0M262 542h0M245 580h0M261 558h0M191 560h0M221 590h0M280 529h0M215 604h0M242 528h0M255 561h0M194 612h0M251 577h0M274 510h0M250 511h0M209 597h0M317 527h0M227 598h0M290 546h0M223 564h0M202 561h0M260 534h0M198 616h0M221 591h0M200 615h0M278 522h0M224 538h0M265 570h0M318 547h0M273 516h0M275 547h0M305 520h0M194 613h0M276 587h0M200 613h0M308 521h0M288 523h0M189 556h0M296 527h0M264 583h0M272 504h0M262 526h0M250 596h0M262 589h0M187 564h0M320 533h0M274 544h0M277 556h0M209 605h0M318 551h0M188 559h0M278 525h0M223 535h0M258 515h0M218 566h0M298 565h0M254 510h0M211 532h0M200 548h0M223 551h0M209 617h0M202 599h0M299 506h0M251 549h0M290 578h0M213 522h0M289 555h0M298 531h0M201 560h0M200 532h0M295 531h0M269 550h0M276 583h0M304 506h0M225 579h0M232 563h0M220 570h0M253 508h0M292 553h0M257 590h0M235 594h0M207 564h0M210 526h0M244 606h0M266 506h0M198 571h0M234 576h0M218 527h0M197 551h0M246 506h0M219 526h0M227 542h0M297 525h0M238 520h0M245 522h0M226 567h0M295 537h0M255 536h0M231 579h0M288 524h0M278 509h0M295 539h0M270 531h0M216 539h0M314 547h0M255 522h0M305 529h0M293 517h0M265 516h0M273 511h0M266 504h0M195 607h0M213 607h0M300 515h0M217 556h0M234 520h0M312 516h0M275 548h0M220 545h0M225 586h0M280 548h0M216 616h0M219 583h0M229 595h0M297 560h0M216 585h0M213 582h0M209 592h0M253 536h0M247 578h0M318 521h0M188 575h0M244 557h0M237 535h0M284 516h0M254 506h0M199 617h0M247 542h0M252 575h0M286 570h0M255 531h0M277 540h0M242 572h0M286 501h0M251 531h0M293 578h0M255 546h0M231 558h0M245 605h0M251 516h0M265 586h0M292 500h0M270 543h0M247 511h0M289 540h0M213 580h0M309 545h0M211 541h0M219 556h0M197 594h0M230 537h0M214 565h0M236 583h0M294 565h0M191 544h0M284 574h0M197 589h0M252 565h0M256 523h0M188 567h0M275 500h0M267 574h0M270 554h0M267 520h0M298 527h0M301 501h0M227 577h0M246 562h0M268 569h0M226 579h0M239 562h0M206 602h0M217 607h0M232 571h0M313 507h0M321 529h0M191 561h0M286 508h0M293 499h0M281 518h0M242 539h0M241 560h0M224 557h0M193 595h0M254 554h0M238 542h0M224 591h0M252 600h0M317 521h0M296 571h0M236 511h0M287 526h0M273 562h0M258 576h0M189 567h0M272 572h0M298 513h0M290 573h0M291 566h0M256 551h0M211 615h0M265 514h0M231 566h0M236 533h0M231 512h0M249 552h0M214 553h0M191 578h0M223 604h0M215 537h0M216 604h0M211 589h0M278 581h0M241 522h0M237 561h0M191 591h0M318 530h0M250 533h0M299 521h0M274 576h0M263 591h0M223 594h0M267 578h0M209 536h0M273 575h0M276 504h0M273 572h0M257 553h0M283 567h0M273 534h0M313 515h0M250 543h0M248 522h0M231 595h0M303 504h0M271 574h0M223 597h0M283 575h0M258 525h0M208 554h0M252 514h0M213 564h0M219 565h0M267 584h0M286 562h0M260 587h0M229 545h0M228 553h0M222 538h0M269 552h0M304 554h0M293 545h0M281 577h0M188 549h0M240 569h0M219 596h0M307 516h0M312 552h0M284 582h0M310 542h0M242 523h0M211 605h0M263 510h0M194 578h0M211 592h0M196 558h0M309 507h0M201 542h0M251 570h0M237 591h0M207 614h0M187 600h0M274 543h0M302 514h0M211 574h0M201 584h0M257 581h0M202 591h0M217 595h0M293 547h0M254 551h0M255 512h0M320 546h0M273 524h0M292 509h0M281 584h0M194 585h0M283 569h0M191 552h0M266 568h0M262 562h0M192 557h0M189 549h0M270 565h0M261 590h0M307 510h0M224 551h0M226 546h0M298 519h0M263 539h0M231 578h0M235 588h0M255 511h0M230 543h0M238 605h0M273 560h0M255 516h0M190 597h0M262 515h0M240 591h0M280 559h0M310 507h0M198 575h0M210 557h0M214 582h0M229 606h0M279 527h0M208 544h0M274 587h0M310 509h0M263 550h0M261 534h0M239 564h0M281 581h0M253 516h0M311 531h0M271 517h0M295 529h0M285 534h0M233 541h0M238 569h0M239 545h0M290 543h0M203 569h0M238 595h0M292 563h0M234 577h0M212 570h0M308 542h0M274 539h0M194 594h0M189 563h0M220 571h0M279 516h0M291 569h0M236 592h0M305 547h0M202 539h0M291 529h0M282 557h0M233 537h0M234 541h0M221 603h0M260 544h0M234 600h0M232 589h0M265 543h0M290 498h0M304 557h0M202 551h0M265 573h0M316 521h0M205 584h0M202 584h0M214 570h0M191 586h0M279 564h0M257 519h0M222 612h0M282 568h0M255 560h0M215 568h0M269 527h0M288 522h0M247 575h0M208 560h0M193 562h0M244 509h0M245 547h0M212 549h0M288 576h0M275 531h0M280 565h0M291 556h0M250 510h0M206 577h0M230 551h0M259 536h0M302 553h0M259 589h0M197 565h0M218 569h0M238 586h0M279 511h0M191 599h0M216 595h0M257 599h0M276 528h0M217 586h0M200 565h0M292 505h0M230 555h0M205 575h0M303 526h0M250 576h0M212 560h0M293 514h0M252 536h0M224 542h0M265 565h0M237 574h0M304 536h0M239 515h0M255 550h0M218 532h0M267 555h0M295 534h0M299 548h0M267 506h0M294 549h0M240 551h0M280 547h0M231 551h0M285 563h0M304 555h0M252 510h0M233 545h0M235 574h0M301 506h0M281 538h0M275 572h0M251 578h0M295 553h0M313 554h0M280 570h0M269 534h0M203 570h0M215 610h0M228 575h0M254 519h0M238 610h0M213 595h0M294 528h0M219 608h0M249 509h0M240 584h0M267 554h0M274 568h0M223 523h0M318 544h0M279 546h0M210 571h0M203 531h0M239 510h0M211 538h0M251 509h0M268 560h0M255 559h0M265 546h0M259 579h0M258 598h0M270 511h0M265 576h0M266 559h0M242 586h0M235 564h0M257 555h0M274 566h0M192 550h0M302 521h0M231 611h0M301 513h0M281 521h0M236 549h0M267 582h0M214 550h0M282 578h0M296 542h0M246 603h0M263 546h0M250 583h0M290 551h0M255 526h0M293 511h0M314 553h0M200 587h0M264 529h0M226 517h0M277 546h0M198 557h0M225 570h0M227 601h0M239 543h0M191 610h0M211 558h0M285 556h0M296 544h0M246 524h0M274 549h0M206 595h0M249 579h0M304 533h0M210 531h0M285 508h0M319 550h0M231 572h0M272 554h0M286 514h0M198 561h0M273 547h0M258 539h0M265 587h0M193 558h0M243 598h0M223 556h0M250 574h0M253 597h0M243 587h0M313 539h0M310 558h0M245 529h0M234 552h0M281 586h0M299 544h0M207 547h0M233 600h0M299 524h0M247 582h0M232 582h0M276 523h0M281 539h0M215 557h0M210 536h0M202 608h0M200 569h0M254 545h0M198 551h0M226 548h0M230 577h0M250 515h0M268 534h0M303 517h0M294 552h0M192 581h0M204 563h0M243 518h0M277 557h0M314 545h0M312 514h0M293 568h0M261 562h0M202 598h0M195 587h0M273 564h0M288 546h0M258 579h0M291 516h0M218 615h0M275 555h0M315 513h0M285 523h0M297 568h0M233 517h0M215 607h0M254 530h0M311 520h0M316 544h0M252 563h0M199 541h0M200 578h0M236 580h0M231 549h0M205 580h0M257 567h0M196 542h0M280 541h0M317 556h0M290 533h0M244 583h0M297 545h0M217 545h0M279 522h0M209 574h0M306 524h0M279 592h0M214 569h0M264 573h0M197 584h0M240 576h0M238 533h0M244 532h0M222 580h0M198 539h0M275 539h0M276 533h0M254 592h0M257 518h0M306 528h0M278 574h0M250 529h0M278 586h0M223 549h0M284 542h0M311 533h0M278 513h0M271 584h0M303 550h0M194 575h0M261 513h0M269 551h0M212 530h0M229 611h0M229 519h0M256 527h0M263 503h0M227 608h0M224 562h0M189 552h0M225 547h0M299 505h0M257 611h0M206 541h0M226 604h0M215 532h0M295 550h0M230 563h0M240 558h0M204 540h0M261 598h0M238 563h0M260 561h0M247 543h0M237 518h0M193 582h0M237 602h0M193 577h0M257 583h0M290 577h0M191 568h0M229 573h0M262 524h0M202 581h0M272 564h0M267 518h0M199 586h0M252 591h0M211 560h0M291 523h0M214 513h0M272 581h0M285 572h0M246 578h0M205 612h0M238 591h0M241 595h0M217 548h0M270 555h0M200 570h0M259 547h0M205 573h0M300 508h0M305 515h0M261 518h0M246 561h0M219 561h0M245 511h0M265 508h0M234 561h0M319 554h0M225 594h0M234 503h0M238 543h0M259 533h0M224 604h0M277 548h0M183 597h0M204 591h0M204 617h0M299 513h0M277 569h0M297 529h0M212 616h0M281 575h0M239 616h0M252 605h0M233 544h0M191 576h0M246 596h0M219 619h0M205 585h0M266 539h0M299 536h0M286 556h0M245 592h0M280 589h0M280 509h0M194 576h0M283 544h0M252 569h0M217 566h0M224 618h0M213 588h0M270 542h0M256 569h0M199 594h0M263 552h0M294 518h0M232 517h0M222 546h0M209 593h0M228 523h0M315 539h0M224 609h0M261 596h0M217 562h0M247 568h0M282 563h0M216 574h0M208 530h0M244 590h0M220 575h0M282 524h0M241 616h0M218 604h0M216 537h0M233 574h0M272 516h0M271 585h0M283 496h0M239 573h0M272 510h0M209 628h0M189 581h0M249 573h0M298 552h0M235 509h0M231 536h0M233 611h0M243 581h0M224 523h0M280 496h0M269 579h0M203 545h0M239 595h0M214 578h0M279 553h0M306 543h0M219 546h0M247 553h0M204 550h0M290 509h0M203 592h0M288 555h0M265 505h0M267 517h0M327 541h0M232 577h0M296 579h0M240 595h0M259 548h0M275 557h0M192 615h0M254 516h0M269 576h0M231 598h0M266 516h0M202 532h0M202 553h0M229 511h0M216 586h0M263 500h0M239 538h0M319 520h0M251 536h0M198 610h0M222 608h0M284 556h0M188 551h0M196 550h0M257 574h0M298 554h0M245 553h0M320 522h0M245 545h0M214 605h0M226 589h0M292 518h0M351 538h0M278 515h0M237 538h0M254 532h0M264 511h0M275 485h0M256 573h0M318 533h0M311 509h0M268 552h0M340 518h0M258 536h0M281 556h0M253 479h0M351 578h0M279 563h0M340 507h0M304 499h0M280 475h0M314 517h0M285 519h0M280 531h0M247 540h0M335 527h0M380 459h0M246 496h0M306 558h0M369 515h0M383 548h0M353 484h0M294 525h0M344 487h0M322 606h0M248 495h0M305 501h0M320 541h0M366 548h0M263 483h0M260 517h0M297 468h0M330 552h0M370 534h0M313 525h0M273 509h0M301 533h0M411 499h0M228 561h0M291 506h0M375 548h0M299 504h0M262 529h0M276 534h0M338 551h0M263 543h0M323 579h0M311 568h0M322 513h0M339 554h0M324 496h0M301 496h0M342 575h0M302 552h0M279 591h0M296 533h0M319 515h0M332 504h0M385 562h0M292 557h0M250 501h0M255 519h0M303 510h0M214 520h0M254 579h0M308 528h0M316 550h0M242 556h0M312 483h0M299 518h0M321 499h0M348 550h0M298 547h0M297 518h0M329 569h0M278 614h0M314 502h0M227 499h0M345 530h0M325 542h0M261 492h0M291 500h0M319 548h0M351 529h0M281 500h0M304 505h0M339 490h0M297 536h0M353 583h0M283 583h0M298 561h0M324 494h0M356 552h0M249 527h0M292 514h0M360 551h0M314 525h0M276 564h0M320 547h0M277 523h0M353 526h0M275 559h0M297 500h0M310 570h0M296 519h0M261 522h0M325 512h0M301 562h0M260 552h0M432 553h0M311 488h0M278 528h0M336 529h0M263 537h0M336 482h0M348 492h0M326 511h0M335 510h0M344 517h0M380 504h0M431 468h0M201 511h0M341 563h0M313 575h0M374 516h0M321 560h0M333 553h0M297 562h0M344 504h0M307 519h0M363 471h0M375 476h0M328 534h0M301 534h0M284 553h0M392 512h0M324 537h0M268 512h0M269 521h0M290 605h0M367 528h0M298 573h0M234 538h0M264 547h0M259 587h0M287 555h0M368 544h0M249 512h0M367 479h0M278 499h0M259 484h0M348 487h0M232 533h0M314 581h0M280 516h0M328 530h0M319 524h0M295 532h0M279 505h0M308 548h0M289 571h0M306 541h0M299 495h0M375 541h0M309 496h0M255 496h0M328 589h0M379 546h0M314 521h0M276 530h0M258 519h0M325 513h0M265 527h0M243 504h0M308 572h0M261 516h0M308 559h0M305 500h0M371 519h0M350 493h0M348 508h0M401 520h0M386 555h0M353 521h0M340 459h0M406 534h0M381 519h0M408 519h0M383 511h0M445 479h0M361 469h0M338 538h0M360 546h0M393 452h0M417 488h0M370 447h0M381 453h0M418 541h0M413 503h0M352 571h0M345 465h0M446 508h0M395 547h0M379 547h0M363 587h0M392 528h0M302 544h0M356 534h0M362 543h0M342 532h0M353 519h0M426 501h0M438 529h0M336 506h0M395 482h0M406 545h0M326 514h0M425 496h0M373 527h0M391 495h0M346 487h0M404 544h0M371 558h0M336 489h0M297 522h0M303 546h0M416 553h0M357 546h0M412 537h0M321 511h0M444 513h0M320 563h0M353 480h0M457 511h0M330 502h0M412 532h0M404 528h0M430 486h0M370 511h0M407 482h0M390 506h0M330 484h0M418 458h0M370 547h0M393 457h0M346 472h0M384 479h0M398 587h0M393 460h0M388 498h0M357 494h0M354 548h0M368 491h0M353 564h0M407 510h0M410 558h0M392 525h0M344 520h0M397 468h0M394 492h0M398 506h0M417 498h0M350 541h0M343 520h0M358 548h0M325 519h0M434 496h0M372 548h0M398 523h0M375 546h0M369 578h0M327 566h0M361 572h0M370 523h0M356 575h0M417 566h0M258 505h0M362 583h0M356 582h0M394 547h0M328 529h0M362 585h0M320 557h0M283 528h0M305 539h0M410 567h0M287 545h0M367 591h0M285 539h0M383 573h0M377 581h0M355 560h0M325 569h0M349 541h0M364 585h0M333 558h0M256 542h0M381 556h0M351 582h0M343 552h0M329 522h0M194 534h0M342 583h0M331 553h0M371 535h0M361 561h0M315 565h0M373 568h0M340 544h0M359 558h0M342 559h0M375 558h0M378 560h0M371 556h0M420 557h0M400 526h0M372 534h0M330 582h0M338 554h0M354 543h0M354 575h0M314 609h0M302 608h0M372 556h0M354 562h0M356 537h0M273 576h0M274 580h0M363 546h0M396 525h0M342 393h0M379 466h0M319 488h0M405 456h0M369 418h0M350 458h0M371 496h0M341 466h0M398 417h0M363 434h0M392 468h0M426 467h0M362 478h0M375 446h0M288 372h0M395 460h0M387 509h0M387 495h0M351 415h0M351 447h0M283 444h0M372 515h0M346 476h0M375 417h0M378 511h0M332 487h0M397 467h0M386 420h0M352 417h0M324 544h0M351 457h0M316 433h0M374 456h0M352 539h0M428 516h0M403 490h0M346 454h0M352 497h0M357 513h0M338 468h0M400 456h0M354 474h0M286 483h0M354 452h0M204 482h0M322 486h0M290 488h0M246 482h0M278 477h0M295 473h0M302 497h0M256 492h0M262 502h0M284 495h0M198 491h0M323 474h0M261 488h0M269 490h0M247 486h0M247 484h0M275 489h0M269 485h0M247 483h0M299 487h0M252 491h0M281 491h0M239 492h0M289 499h0M287 494h0M288 500h0M246 501h0M269 480h0M280 488h0M310 488h0M265 490h0M283 481h0M269 510h0M240 469h0M226 482h0M229 494h0M294 471h0M204 485h0M260 489h0M229 481h0M268 494h0M258 470h0M301 476h0M276 505h0M241 489h0M291 490h0M254 469h0M287 482h0M252 493h0M209 476h0M288 479h0M259 497h0M338 476h0M274 488h0M226 484h0M256 475h0M315 488h0M264 491h0" stroke="#17becf" stroke-width="5.8" stroke-linecap="round" fill="none"/>
<path d="M507 456h0M434 477h0M499 495h0M454 460h0M433 488h0M464 449h0M521 484h0M422 497h0M506 445h0M415 521h0M540 451h0M546 452h0M483 502h0M422 486h0M441 524h0M431 472h0M541 436h0M494 518h0M483 511h0M481 482h0M526 427h0M509 505h0M436 470h0M428 486h0M486 473h0M517 507h0M493 451h0M514 432h0M458 494h0M495 436h0M441 499h0M422 506h0M500 466h0M421 479h0M524 452h0M488 502h0M453 517h0M499 498h0M418 525h0M524 457h0M414 497h0M537 438h0M456 477h0M423 482h0M464 516h0M493 471h0M534 439h0M449 500h0M499 438h0M513 452h0M482 470h0M492 490h0M468 448h0M438 470h0M501 484h0M514 500h0M475 524h0M462 517h0M415 495h0M500 491h0M427 524h0M454 524h0M403 501h0M537 445h0M541 459h0M508 478h0M494 437h0M518 454h0M490 516h0M468 468h0M477 487h0M464 462h0M477 472h0M439 498h0M501 485h0M534 443h0M518 434h0M429 503h0M480 507h0M414 513h0M415 510h0M524 465h0M479 498h0M495 434h0M521 501h0M488 488h0M453 511h0M525 430h0M527 437h0M438 527h0M472 476h0M493 453h0M536 435h0M501 492h0M485 457h0M489 521h0M451 453h0M437 521h0M533 446h0M481 511h0M501 459h0M461 463h0M408 501h0M475 476h0M430 512h0M472 481h0M491 505h0M533 442h0M487 433h0M500 440h0M507 503h0M411 494h0M453 522h0M480 492h0M453 459h0M490 493h0M504 487h0M449 503h0M446 471h0M538 448h0M480 516h0M496 514h0M408 517h0M536 488h0M536 442h0M444 511h0M501 466h0M445 497h0M410 499h0M503 446h0M467 443h0M432 472h0M418 517h0M479 502h0M442 508h0M470 519h0M514 469h0M470 444h0M529 434h0M496 445h0M526 450h0M521 463h0M452 505h0M505 461h0M492 449h0M494 451h0M533 483h0M540 443h0M534 432h0M506 464h0M467 439h0M438 492h0M526 466h0M510 458h0M458 519h0M469 474h0M501 468h0M448 505h0M479 519h0M477 517h0M501 491h0M439 466h0M459 465h0M479 452h0M492 481h0M428 514h0M474 440h0M473 439h0M533 468h0M518 445h0M482 492h0M505 423h0M482 480h0M481 485h0M499 458h0M483 450h0M443 498h0M452 511h0M466 499h0M476 505h0M487 507h0M463 455h0M460 465h0M456 502h0M527 459h0M535 492h0M463 501h0M449 464h0M519 442h0M526 468h0M528 441h0M515 498h0M474 499h0M452 462h0M493 470h0M442 476h0M483 466h0M493 480h0M468 498h0M434 475h0M475 450h0M519 506h0M446 523h0M479 524h0M506 484h0M469 462h0M509 488h0M428 510h0M515 423h0M445 512h0M477 479h0M509 424h0M517 444h0M416 509h0M457 460h0M514 491h0M459 464h0M498 450h0M446 457h0M503 512h0M465 504h0M488 437h0M519 470h0M505 442h0M518 488h0M447 485h0M455 520h0M475 461h0M441 513h0M497 467h0M446 505h0M493 479h0M521 441h0M483 435h0M454 448h0M498 481h0M496 438h0M496 429h0M511 433h0M469 457h0M447 468h0M441 511h0M485 455h0M530 426h0M477 483h0M490 481h0M477 469h0M491 470h0M492 472h0M513 500h0M469 505h0M443 521h0M511 488h0M507 446h0M527 471h0M423 500h0M465 522h0M480 454h0M476 441h0M502 489h0M515 504h0M527 425h0M510 443h0M504 482h0M455 475h0M461 466h0M520 490h0M424 480h0M528 449h0M513 457h0M451 452h0M409 519h0M438 485h0M445 465h0M476 451h0M460 477h0M458 483h0M484 515h0M427 526h0M500 432h0M490 466h0M519 460h0M504 470h0M496 465h0M460 480h0M516 488h0M437 478h0M463 514h0M487 488h0M465 517h0M479 495h0M481 497h0M434 502h0M441 492h0M469 465h0M468 495h0M434 495h0M541 462h0M510 496h0M521 446h0M437 510h0M502 486h0M505 435h0M437 507h0M540 438h0M442 469h0M475 460h0M454 472h0M516 434h0M441 476h0M520 482h0M517 473h0M524 485h0M517 425h0M524 489h0M536 482h0M478 450h0M521 487h0M494 445h0M499 439h0M457 451h0M437 472h0M506 512h0M453 473h0M436 486h0M466 516h0M532 457h0M458 516h0M465 476h0M523 424h0M501 477h0M421 525h0M505 479h0M498 444h0M527 476h0M514 497h0M418 499h0M436 469h0M535 446h0M440 506h0M515 453h0M436 474h0M416 523h0M470 445h0M543 473h0M418 514h0M427 481h0M480 475h0M491 440h0M494 499h0M504 486h0M447 514h0M534 473h0M422 505h0M441 508h0M471 476h0M495 478h0M452 493h0M505 449h0M415 487h0M478 494h0M486 481h0M482 469h0M409 498h0M508 468h0M523 447h0M472 497h0M442 494h0M480 515h0M501 433h0M440 483h0M481 477h0M465 468h0M478 449h0M515 459h0M475 500h0M414 506h0M412 502h0M470 503h0M544 474h0M440 489h0M476 452h0M538 482h0M448 482h0M516 462h0M518 475h0M450 506h0M489 461h0M504 473h0M441 497h0M431 487h0M445 522h0M478 478h0M499 467h0M420 507h0M473 470h0M442 518h0M546 461h0M534 451h0M505 508h0M507 478h0M481 480h0M452 482h0M469 518h0M430 528h0M444 516h0M510 429h0M519 469h0M424 506h0M535 481h0M442 504h0M505 495h0M485 485h0M416 502h0M463 502h0M547 461h0M439 487h0M447 521h0M460 511h0M528 499h0M468 465h0M460 494h0M436 527h0M520 483h0M450 501h0M496 501h0M473 450h0M499 442h0M462 494h0M504 441h0M477 440h0M540 442h0M473 508h0M418 500h0M541 466h0M474 495h0M544 452h0M492 513h0M514 468h0M514 484h0M482 520h0M491 460h0M492 442h0M441 485h0M502 514h0M482 483h0M530 446h0M536 484h0M428 485h0M501 439h0M502 481h0M447 464h0M537 485h0M474 520h0M420 497h0M426 487h0M461 519h0M446 502h0M438 480h0M462 445h0M524 435h0M495 472h0M406 502h0M524 447h0M458 464h0M498 453h0M473 460h0M428 482h0M433 487h0M517 471h0M471 480h0M415 492h0M488 453h0M462 515h0M496 471h0M512 470h0M489 488h0M458 513h0M482 507h0M524 438h0M535 461h0M520 499h0M534 433h0M491 484h0M469 501h0M499 465h0M529 473h0M454 496h0M504 456h0M505 467h0M421 492h0M407 497h0M543 442h0M410 510h0M441 519h0M428 524h0M465 485h0M476 525h0M487 465h0M530 450h0M445 483h0M520 427h0M450 470h0M481 447h0M483 519h0M513 479h0M529 475h0M446 460h0M453 478h0M421 514h0M407 501h0M477 486h0M532 446h0M522 443h0M478 486h0M540 464h0M506 492h0M532 456h0M426 479h0M459 449h0M521 476h0M446 516h0M528 476h0M504 505h0M451 518h0M460 476h0M497 462h0M492 463h0M512 446h0M525 484h0M418 482h0M527 474h0M526 488h0M454 493h0M512 473h0M487 506h0M409 521h0M447 495h0M426 513h0M488 489h0M494 505h0M465 520h0M465 518h0M505 462h0M503 460h0M500 498h0M490 429h0M434 518h0M475 497h0M528 448h0M480 460h0M422 511h0M414 498h0M453 523h0M426 482h0M475 456h0M471 515h0M423 490h0M485 493h0M466 515h0M507 498h0M436 502h0M488 442h0M468 441h0M430 494h0M533 462h0M527 490h0M478 501h0M455 483h0M501 456h0M433 471h0M431 517h0M481 502h0M424 519h0M411 522h0M448 503h0M437 483h0M497 441h0M510 489h0M491 436h0M508 483h0M492 498h0M472 443h0M408 512h0M501 474h0M497 456h0M527 427h0M504 445h0M419 518h0M479 497h0M505 513h0M493 450h0M494 457h0M454 506h0M510 439h0M431 518h0M536 485h0M438 474h0M498 498h0M496 466h0M492 476h0M533 439h0M430 523h0M469 484h0M472 522h0M523 445h0M443 507h0M430 509h0M507 465h0M460 498h0M527 493h0M445 459h0M473 449h0M428 518h0M453 513h0M484 444h0M505 440h0M456 489h0M479 491h0M487 520h0M488 438h0M522 500h0M460 471h0M417 499h0M433 491h0M538 455h0M495 440h0M462 476h0M413 490h0M548 469h0M482 503h0M410 522h0M511 501h0M484 471h0M497 459h0M451 512h0M484 432h0M494 476h0M448 520h0M487 432h0M477 508h0M460 512h0M535 484h0M499 435h0M490 491h0M536 433h0M493 478h0M470 521h0M421 528h0M427 486h0M464 458h0M490 507h0M460 461h0M494 459h0M452 507h0M474 486h0M495 488h0M539 466h0M452 523h0M456 505h0M484 479h0M474 480h0M486 464h0M412 510h0M535 470h0M456 524h0M420 499h0M487 441h0M478 437h0M500 485h0M446 466h0M493 432h0M514 437h0M477 491h0M491 431h0M454 452h0M465 442h0M431 511h0M509 504h0M532 454h0M423 481h0M452 515h0M523 472h0M442 474h0M470 506h0M423 479h0M466 459h0M526 467h0M425 525h0M543 467h0M424 511h0M512 461h0M426 495h0M461 509h0M458 522h0M518 447h0M477 475h0M509 509h0M424 489h0M464 512h0M476 473h0M516 451h0M508 509h0M541 468h0M442 479h0M409 509h0M531 439h0M486 472h0M454 456h0M535 455h0M463 482h0M535 471h0M474 469h0M481 481h0M458 512h0M462 491h0M523 452h0M498 499h0M535 435h0M438 520h0M436 524h0M436 507h0M421 527h0M499 432h0M442 514h0M445 484h0M495 518h0M489 446h0M460 492h0M482 475h0M445 518h0M476 465h0M453 474h0M451 524h0M428 478h0M508 431h0M476 439h0M448 492h0M474 465h0M518 439h0M471 461h0M503 490h0M420 480h0M530 494h0M486 458h0M496 446h0M465 447h0M480 442h0M498 506h0M516 481h0M524 472h0M484 443h0M534 478h0M437 511h0M483 472h0M420 523h0M524 426h0M516 480h0M470 502h0M415 500h0M464 520h0M439 512h0M514 447h0M536 439h0M447 494h0M455 470h0M425 503h0M485 503h0M431 520h0M462 519h0M479 501h0M530 454h0M540 437h0M478 443h0M446 494h0M504 466h0M526 475h0M405 510h0M468 512h0M468 524h0M487 445h0M544 457h0M532 465h0M519 499h0M508 456h0M497 484h0M435 472h0M490 440h0M446 520h0M429 478h0M509 469h0M522 470h0M503 453h0M463 484h0M526 426h0M452 516h0M441 526h0M485 441h0M499 505h0M414 487h0M451 496h0M534 431h0M515 441h0M513 478h0M447 482h0M548 459h0M480 439h0M419 520h0M467 442h0M407 514h0M484 492h0M434 494h0M455 505h0M474 450h0M512 442h0M423 514h0M501 509h0M515 486h0M483 524h0M476 464h0M445 464h0M518 485h0M511 456h0M478 485h0M531 471h0M515 485h0M448 468h0M534 450h0M511 463h0M518 435h0M515 461h0M472 441h0M508 459h0M523 470h0M469 451h0M509 446h0M527 482h0M532 480h0M449 477h0M505 426h0M412 509h0M469 509h0M428 508h0M460 488h0M465 471h0M461 520h0M517 443h0M515 477h0M451 513h0M493 477h0M452 484h0M474 476h0M503 430h0M406 508h0M415 496h0M501 424h0M499 493h0M461 472h0M414 501h0M450 454h0M539 468h0M416 501h0M531 441h0M433 498h0M411 506h0M425 497h0M522 471h0M495 452h0M515 435h0M480 508h0M453 508h0M486 514h0M449 501h0M433 503h0M485 520h0M500 452h0M493 441h0M507 468h0M415 489h0M521 467h0M477 520h0M519 436h0M427 506h0M502 494h0M449 515h0M526 483h0M513 489h0M476 500h0M539 474h0M505 492h0M476 508h0M442 500h0M496 448h0M514 498h0M540 446h0M413 514h0M424 494h0M470 524h0M483 447h0M511 429h0M410 524h0M454 466h0M461 457h0M498 510h0M514 477h0M467 522h0M455 498h0M455 485h0M506 446h0M424 525h0M440 519h0M473 500h0M505 490h0M426 512h0M440 515h0M508 429h0M467 441h0M519 424h0M516 429h0M539 458h0M434 480h0M491 483h0M452 504h0M509 453h0M495 503h0M507 467h0M486 471h0M491 430h0M527 428h0M545 469h0M531 488h0M544 465h0M461 505h0M509 477h0M467 486h0M508 423h0M500 516h0M539 463h0M421 511h0M538 432h0M475 447h0M476 466h0M477 436h0M529 466h0M520 448h0M466 490h0M462 522h0M522 486h0M414 496h0M526 431h0M546 472h0M515 450h0M488 445h0M524 480h0M437 477h0M437 526h0M448 465h0M467 491h0M500 450h0M461 456h0M436 483h0M481 521h0M541 453h0M417 509h0M448 466h0M426 497h0M478 483h0M466 469h0M444 466h0M459 479h0M500 492h0M450 522h0M478 448h0M509 484h0M473 453h0M508 476h0M512 500h0M467 495h0M468 467h0M501 499h0M461 491h0M459 522h0M445 491h0M477 442h0M476 474h0M453 516h0M512 467h0M514 425h0M419 489h0M476 517h0M478 465h0M520 487h0M474 443h0M494 472h0M415 498h0M530 487h0M538 478h0M417 484h0M417 504h0M533 495h0M513 428h0M457 522h0M457 448h0M531 480h0M494 475h0M438 526h0M465 521h0M430 497h0M459 477h0M538 436h0M484 472h0M442 502h0M492 451h0M499 448h0M500 476h0M440 505h0M490 432h0M495 459h0M451 461h0M435 501h0M422 518h0M452 519h0M539 459h0M440 477h0M408 509h0M493 506h0M412 523h0M477 506h0M442 490h0M440 485h0M460 460h0M513 467h0M474 515h0M420 513h0M461 482h0M477 473h0M435 469h0M518 503h0M531 477h0M460 458h0M438 488h0M460 509h0M409 496h0M485 449h0M504 513h0M420 481h0M420 517h0M544 453h0M545 459h0M461 470h0M420 486h0M496 494h0M448 459h0M484 519h0M533 435h0M471 473h0M427 516h0M525 479h0M412 511h0M515 443h0M439 493h0M427 478h0M456 482h0M534 492h0M462 508h0M466 466h0M455 480h0M481 459h0M431 478h0M485 448h0M527 498h0M476 489h0M413 503h0M503 504h0M494 506h0M540 484h0M483 523h0M418 523h0M508 443h0M482 512h0M506 456h0M502 479h0M482 439h0M468 472h0M467 446h0M428 481h0M432 471h0M510 493h0M451 490h0M471 514h0M451 504h0M495 460h0M526 486h0M523 497h0M475 481h0M491 472h0M431 515h0M483 470h0M441 486h0M527 487h0M534 467h0M461 508h0M466 497h0M428 517h0M519 501h0M464 464h0M467 514h0M487 512h0M440 467h0M503 485h0M543 478h0M475 446h0M427 495h0M456 518h0M452 472h0M475 482h0M498 457h0M468 447h0M459 482h0M448 469h0M511 443h0M495 427h0M430 476h0M456 484h0M514 451h0M467 490h0M489 458h0M469 523h0M436 519h0M516 457h0M491 457h0M488 436h0M476 453h0M515 431h0M542 468h0M476 457h0M459 515h0M518 487h0M466 465h0M473 436h0M500 506h0M418 484h0M414 491h0M490 489h0M542 446h0M521 486h0M533 451h0M452 478h0M466 478h0M468 477h0M483 455h0M496 459h0M496 477h0M533 448h0M472 516h0M504 502h0M519 450h0M445 466h0M505 482h0M449 483h0M542 472h0M505 474h0M503 463h0M415 481h0M462 458h0M411 529h0M453 477h0M486 515h0M466 522h0M469 498h0M418 494h0M498 452h0M466 494h0M438 521h0M514 418h0M414 522h0M460 502h0M486 490h0M472 446h0M496 487h0M493 464h0M464 517h0M529 435h0M518 502h0M448 491h0M496 510h0M485 462h0M487 446h0M416 493h0M496 440h0M493 474h0M482 434h0M488 459h0M522 437h0M464 533h0M459 453h0M518 443h0M416 513h0M459 505h0M487 474h0M458 493h0M487 424h0M478 484h0M498 473h0M476 450h0M485 454h0M427 509h0M426 494h0M534 460h0M447 510h0M481 462h0M414 530h0M431 499h0M441 483h0M471 479h0M471 528h0M516 448h0M490 455h0M414 509h0M441 457h0M499 478h0M514 487h0M498 477h0M458 534h0M486 427h0M464 493h0M463 490h0M435 496h0M496 441h0M406 510h0M446 534h0M541 442h0M464 465h0M529 481h0M448 493h0M523 469h0M481 524h0M517 467h0M439 510h0M490 503h0M505 493h0M519 444h0M482 424h0M464 508h0M432 507h0M503 509h0M445 501h0M535 437h0M494 520h0M484 462h0M430 490h0M494 477h0M450 512h0M431 519h0M504 480h0M503 492h0M466 449h0M521 432h0M537 482h0M483 506h0M502 488h0M424 496h0M466 470h0M527 456h0M458 465h0M512 437h0M466 520h0M508 425h0M530 461h0M454 516h0M500 507h0M418 507h0M504 465h0M437 479h0M448 509h0M419 472h0M452 475h0M502 506h0M519 454h0M413 519h0M542 482h0M459 521h0M472 445h0M487 521h0M489 453h0M477 458h0M447 465h0M440 526h0M515 463h0M481 456h0M544 470h0M525 468h0M455 513h0M411 498h0M512 477h0M543 482h0M503 431h0M551 473h0M504 446h0M430 478h0M480 503h0M493 521h0M534 453h0M483 431h0M449 485h0M507 431h0M485 494h0M404 503h0M459 493h0M492 493h0M433 481h0M452 471h0M420 503h0M493 494h0M502 431h0M452 455h0M514 438h0M517 472h0M444 499h0M480 443h0M455 494h0M488 471h0M516 445h0M510 426h0M520 451h0M520 447h0M411 533h0M475 442h0M443 509h0M495 511h0M482 415h0M442 501h0M395 507h0M472 468h0M541 485h0M454 490h0M428 494h0M411 499h0M439 526h0M471 467h0M508 504h0M485 526h0M480 530h0M437 488h0M411 510h0M468 501h0M539 470h0M453 519h0M534 444h0M502 477h0M456 526h0M425 518h0M497 475h0M508 436h0M507 464h0M504 430h0M453 462h0M480 476h0M479 487h0M542 433h0M547 464h0M461 516h0M445 508h0M473 484h0M508 512h0M505 468h0M485 444h0M456 509h0M414 520h0M502 483h0M438 503h0M472 505h0M459 494h0M491 465h0M424 524h0M512 454h0M491 434h0M517 490h0M435 474h0M488 427h0M519 427h0M533 470h0M494 512h0M452 527h0M414 514h0M457 485h0M462 446h0M409 477h0M465 464h0M529 461h0M364 498h0M456 567h0M413 547h0M428 483h0M497 485h0M497 498h0M469 488h0M339 502h0M546 535h0M425 512h0M515 497h0M565 449h0M534 515h0M530 442h0M531 505h0M389 512h0M444 476h0M400 459h0M445 498h0M467 492h0M426 472h0M493 509h0M433 466h0M535 467h0M530 413h0M610 441h0M409 497h0M411 448h0M493 481h0M421 448h0M515 427h0M473 487h0M433 465h0M456 496h0M561 440h0M327 527h0M460 483h0M503 496h0M578 478h0M476 447h0M479 469h0M489 428h0M445 507h0M532 512h0M455 504h0M506 509h0M565 442h0M411 500h0M418 442h0M435 518h0M602 423h0M517 492h0M501 475h0M557 485h0M471 426h0M381 480h0M448 473h0M458 480h0M490 512h0M440 445h0M454 485h0M339 500h0M448 497h0M411 501h0M495 489h0M474 512h0M495 479h0M505 476h0M527 473h0M438 531h0M444 459h0M498 484h0M529 546h0M403 484h0M430 439h0M585 454h0M397 569h0M320 477h0M408 520h0M496 493h0M511 435h0M453 461h0M418 461h0M355 490h0M480 489h0M539 453h0M524 493h0M497 477h0M451 531h0M532 450h0M420 528h0M411 508h0M512 493h0M389 510h0M520 504h0M456 433h0M431 476h0M535 453h0M413 528h0M455 482h0M473 524h0M420 474h0M515 448h0M403 536h0M403 489h0M459 431h0M394 488h0M524 537h0M525 416h0M381 482h0M496 491h0M412 471h0M457 542h0M447 452h0M492 487h0M460 468h0M473 455h0M500 442h0M447 528h0M449 490h0M436 443h0M492 497h0M534 418h0M543 459h0M628 359h0M586 488h0M446 464h0M397 481h0M400 561h0M420 558h0M475 501h0M484 490h0M397 479h0M457 489h0M567 468h0M355 435h0M481 472h0M369 446h0M400 437h0M519 439h0M557 479h0M538 457h0M374 524h0M506 449h0M330 498h0M477 478h0M510 482h0M460 442h0M520 433h0M453 494h0M499 470h0M489 469h0M378 521h0M538 434h0M440 460h0M571 486h0M439 518h0M464 472h0M491 467h0M498 493h0M374 496h0M512 489h0M444 470h0M555 422h0M506 447h0M395 458h0M535 452h0M559 440h0M546 469h0M453 484h0M370 517h0M498 468h0M508 454h0M465 475h0M417 496h0M481 461h0M430 554h0M569 457h0M447 479h0M403 514h0M512 502h0M451 456h0M482 448h0M450 492h0M515 447h0M460 508h0M429 453h0M512 496h0M570 482h0M380 506h0M572 435h0M453 493h0M582 519h0M467 455h0M376 444h0M508 438h0M478 471h0M475 462h0M486 432h0M531 451h0M520 469h0M402 445h0M489 499h0M370 556h0M465 421h0M606 513h0M514 475h0M510 478h0M461 488h0M406 470h0M437 419h0M532 435h0M520 497h0M570 459h0M498 463h0M503 405h0M490 478h0M480 435h0M508 451h0M438 523h0M530 480h0M427 463h0M451 417h0M392 501h0M443 464h0M494 485h0M554 457h0M468 518h0M491 452h0M482 436h0M400 517h0M457 437h0M445 447h0M477 484h0M543 481h0M457 474h0M445 452h0M376 452h0M443 403h0M618 432h0M538 422h0M565 268h0M596 283h0M583 334h0M629 388h0M569 321h0M633 317h0M595 270h0M607 342h0M605 255h0M580 335h0M613 337h0M599 317h0M590 293h0M616 286h0M605 372h0M647 347h0M605 328h0M623 352h0M609 300h0M624 315h0M618 288h0M580 293h0M623 303h0M616 360h0M628 287h0M596 301h0M637 312h0M638 367h0M596 282h0M612 430h0M629 308h0M622 302h0M607 325h0M642 292h0M624 301h0M620 277h0M622 395h0M590 276h0M597 351h0M554 353h0M607 310h0M619 347h0M572 361h0M621 346h0M601 256h0M593 363h0M579 355h0M592 329h0M647 289h0M633 303h0M586 224h0M636 356h0M643 243h0M566 373h0M644 326h0M588 378h0M618 272h0M618 287h0M603 313h0M625 226h0M603 269h0M615 337h0M615 404h0M554 278h0M619 350h0M605 292h0M581 327h0M621 345h0M590 312h0M627 314h0M644 302h0M634 312h0M633 328h0M615 344h0M648 295h0M615 298h0M544 306h0M588 285h0M620 327h0M636 357h0M622 365h0M623 270h0M633 291h0M560 318h0M605 329h0M607 367h0M579 314h0M568 281h0M637 363h0M619 360h0M623 320h0M595 308h0M620 268h0M580 308h0M597 261h0M558 317h0M623 313h0M615 334h0M616 358h0M605 284h0M614 315h0M627 325h0M627 368h0M625 286h0M611 350h0M598 357h0M590 314h0M635 378h0M559 287h0M633 336h0M612 306h0M576 328h0M617 336h0M634 399h0M627 254h0M657 380h0M597 275h0M561 257h0M632 331h0M630 313h0M636 352h0M579 305h0M639 333h0M609 255h0M588 295h0M611 270h0M626 256h0M571 316h0M685 395h0M641 294h0M662 347h0M634 302h0M604 367h0M629 271h0M598 371h0M664 317h0M611 268h0M614 273h0M585 358h0M630 328h0M626 265h0M589 265h0M595 292h0M571 277h0M599 321h0M607 409h0M612 336h0M605 286h0M635 334h0M636 293h0M605 287h0M585 337h0M620 226h0M642 286h0M629 430h0M620 278h0M594 328h0M646 339h0M631 282h0M589 297h0M620 389h0M589 323h0M610 294h0M643 369h0M622 362h0M616 316h0M626 357h0M601 317h0M606 306h0M633 349h0M614 299h0M576 316h0M612 349h0M627 366h0M605 250h0M592 328h0M593 347h0M602 342h0M592 237h0M621 337h0M598 291h0M590 359h0M620 379h0M627 309h0M607 349h0M638 288h0M647 345h0M595 351h0M622 312h0M606 326h0M585 275h0M607 301h0M589 216h0M574 343h0M629 315h0M604 223h0M602 284h0M612 296h0M636 373h0M613 310h0M606 333h0M622 327h0M569 265h0M636 321h0M613 374h0M630 345h0M594 264h0M600 276h0M626 339h0M632 399h0M636 264h0M619 320h0M592 395h0M649 330h0M614 351h0M635 276h0M636 275h0M592 236h0M610 357h0M587 349h0M631 401h0M571 268h0M656 369h0M629 321h0M629 339h0M604 267h0M618 341h0M608 341h0M565 390h0M609 345h0M607 340h0M630 303h0M598 386h0M629 394h0M632 350h0M617 260h0M589 286h0M599 289h0M602 403h0M601 307h0M624 358h0M605 342h0M614 324h0M632 339h0M635 382h0M629 334h0M625 263h0M607 316h0M639 349h0M623 360h0M631 257h0M623 343h0M648 362h0M620 330h0M582 296h0M603 320h0M617 298h0M618 327h0M620 296h0M633 512h0M599 278h0M573 289h0M632 307h0M636 326h0M625 258h0M563 255h0M600 324h0M595 275h0M616 342h0M587 310h0M660 357h0M631 310h0M612 328h0M608 350h0M583 366h0M631 297h0M622 337h0M619 309h0M639 357h0M589 300h0M557 284h0M668 369h0M588 216h0M637 378h0M581 309h0M625 306h0M656 350h0M615 266h0M587 350h0M605 357h0M565 254h0M598 249h0M632 308h0M627 318h0M601 304h0M615 297h0M614 325h0M622 310h0M623 367h0M621 320h0M630 323h0M592 363h0M651 384h0M586 372h0M569 306h0M616 250h0M611 395h0M588 292h0M609 260h0M551 279h0M577 267h0M613 307h0M632 266h0M635 347h0M601 388h0M605 350h0M658 286h0M539 284h0M560 295h0M595 332h0M564 262h0M623 357h0M614 301h0M572 314h0M658 314h0M606 420h0M607 362h0M652 477h0M580 306h0M574 369h0M701 216h0M541 340h0M615 363h0M602 259h0M574 271h0M572 304h0M585 291h0M658 429h0M564 333h0M600 262h0M592 364h0M662 366h0M608 372h0M583 293h0M642 345h0M641 368h0M643 368h0M595 305h0M581 382h0M574 335h0M602 322h0M563 298h0M638 282h0M678 279h0M596 220h0M559 322h0M618 247h0M589 321h0M602 352h0M608 427h0M645 331h0M626 294h0M562 281h0M575 287h0M674 415h0M570 266h0M585 348h0M573 383h0M573 415h0M611 409h0M561 298h0M661 379h0M612 338h0M650 358h0M583 290h0M576 427h0M611 275h0M595 341h0M599 275h0M619 381h0M524 289h0M593 323h0M635 344h0M595 243h0M530 414h0M585 409h0M574 370h0M578 389h0M581 404h0M578 378h0M579 401h0M569 382h0M597 405h0M590 398h0M591 391h0M591 380h0M579 409h0M558 374h0M580 399h0M595 369h0M586 394h0M596 431h0M589 397h0M602 451h0M574 419h0M584 405h0M597 396h0M584 385h0M550 379h0M641 131h0M663 163h0M620 174h0M628 174h0M620 193h0" stroke="#1f77b4" stroke-width="5.8" stroke-linecap="round" fill="none"/>
<path d="M655 411h0M650 358h0M628 404h0M626 410h0M662 374h0M663 439h0M641 382h0M682 419h0M625 380h0M657 367h0M658 425h0M634 410h0M655 393h0M649 411h0M652 385h0M635 432h0M637 456h0M665 401h0M631 452h0M651 412h0M656 444h0M629 423h0M644 429h0M633 402h0M671 425h0M676 411h0M651 411h0M642 406h0M622 409h0M674 404h0M640 434h0M630 394h0M650 380h0M639 413h0M661 406h0M660 373h0M651 449h0M675 380h0M632 425h0M637 448h0M646 415h0M649 418h0M669 395h0M638 407h0M628 370h0M660 484h0M622 435h0M668 419h0M621 431h0M682 414h0M659 393h0M646 408h0M670 410h0M651 432h0M655 406h0M657 375h0M658 439h0M657 416h0M686 410h0M663 424h0M660 379h0M640 424h0M634 413h0M626 386h0M658 374h0M615 437h0M657 412h0M632 393h0M680 399h0M622 416h0M635 387h0M627 428h0M657 388h0M645 441h0M662 343h0M629 406h0M647 429h0M635 401h0M663 421h0M635 405h0M641 426h0M634 391h0M626 425h0M646 410h0M639 441h0M665 363h0M654 436h0M647 422h0M665 420h0M636 404h0M662 439h0M639 375h0M646 438h0M626 436h0M659 413h0M642 432h0M660 423h0M623 406h0M648 385h0M650 400h0M636 446h0M668 449h0M618 425h0M649 425h0M622 430h0M634 437h0M651 389h0M648 382h0M611 426h0M643 433h0M690 401h0M675 415h0M656 437h0M649 466h0M647 451h0M643 401h0M633 439h0M628 439h0M619 412h0M639 424h0M654 397h0M629 422h0M672 383h0M645 400h0M640 453h0M617 419h0M633 385h0M673 383h0M622 458h0M655 426h0M666 416h0M636 442h0M651 399h0M647 387h0M645 412h0M680 387h0M642 402h0M673 438h0M688 406h0M647 426h0M638 410h0M638 424h0M652 388h0M659 422h0M637 374h0M618 414h0M674 405h0M669 412h0M655 417h0M656 394h0M645 373h0M646 419h0M645 440h0M645 417h0M645 391h0M642 426h0M631 423h0M640 436h0M635 403h0M662 421h0M670 389h0M650 412h0M682 442h0M650 414h0M648 438h0M635 394h0M652 423h0M631 425h0M651 437h0M640 396h0M683 388h0M640 426h0M622 402h0M652 439h0M669 393h0M662 418h0M659 434h0M663 413h0M636 413h0M645 409h0M623 438h0M648 394h0M645 422h0M670 415h0M654 410h0M650 390h0M677 393h0M649 424h0M684 436h0M650 364h0M616 424h0M636 407h0M646 418h0M661 456h0M659 405h0M632 418h0M648 392h0M640 417h0M674 428h0M650 424h0M654 427h0M650 404h0M632 407h0M694 404h0M650 377h0M640 388h0M662 378h0M666 424h0M656 370h0M673 428h0M654 389h0M644 411h0M642 434h0M630 443h0M702 419h0M640 449h0M651 431h0M627 411h0M616 404h0M624 398h0M641 423h0M638 416h0M654 409h0M655 429h0M636 417h0M626 427h0M628 407h0M641 439h0M640 446h0M646 431h0M654 423h0M673 419h0M647 420h0M646 375h0M671 429h0M651 384h0M640 421h0M646 448h0M650 430h0M670 386h0M641 374h0M649 407h0M640 414h0M676 403h0M653 419h0M622 411h0M638 400h0M665 462h0M674 415h0M660 405h0M653 432h0M640 412h0M664 429h0M649 408h0M622 389h0M619 402h0M632 401h0M650 379h0M655 398h0M649 403h0M662 434h0M636 438h0M669 416h0M677 381h0M634 407h0M633 432h0M673 416h0M696 415h0M641 419h0M645 428h0M630 392h0M657 372h0M660 402h0M676 383h0M685 376h0M643 407h0M655 409h0M634 404h0M642 412h0M665 425h0M645 395h0M637 412h0M659 404h0M616 431h0M654 441h0M635 443h0M667 417h0M635 399h0M622 413h0M631 436h0M647 409h0M666 428h0M602 445h0M664 408h0M685 389h0M631 400h0M626 424h0M647 392h0M669 417h0M646 455h0M656 415h0M654 417h0M657 414h0M653 394h0M625 442h0M656 434h0M667 443h0M646 413h0M648 427h0M624 383h0M622 384h0M597 420h0M634 417h0M660 411h0M632 406h0M677 364h0M676 373h0M687 394h0M677 399h0M680 388h0M687 367h0M697 387h0M688 376h0M697 362h0M685 372h0M693 360h0M694 360h0M691 360h0M691 386h0M692 397h0M685 357h0M692 399h0M680 361h0M681 380h0M691 374h0M691 394h0M680 367h0M681 376h0M686 384h0M686 358h0M685 345h0M687 369h0M702 371h0M678 370h0M687 366h0M702 378h0M694 365h0M699 388h0M689 383h0M679 384h0M677 383h0M687 402h0M692 395h0M676 341h0M691 384h0M689 380h0M682 364h0M687 383h0M678 374h0M683 385h0M665 409h0M689 362h0M674 369h0M698 360h0M701 381h0M682 388h0M679 361h0M687 390h0M696 371h0M683 334h0M704 401h0M684 389h0M682 365h0M685 360h0M690 386h0M697 372h0M700 369h0M688 364h0M704 362h0M687 372h0M686 366h0M678 371h0M704 377h0M687 397h0M690 399h0M703 336h0M698 340h0M690 325h0" stroke="#9467bd" stroke-width="5.8" stroke-linecap="round" fill="none"/>
<path d="M151.4 613.4L701.7 341.5" stroke="#000" stroke-width="3.6" stroke-dasharray="14 6.5" fill="none"/>
<rect x="142.3" y="122.3" width="404.2" height="171.7" rx="6" ry="6" fill="#fff" fill-opacity="0.8" stroke="#d0d0d0" stroke-width="1.5"/>
<circle cx="192.7" cy="155.2" r="6.6" fill="#bcbd22"/>
<text x="256" y="165.6" font-size="36" text-anchor="start" fill="#262626">C1</text>
<circle cx="192.7" cy="210" r="6.6" fill="#2ca02c"/>
<text x="256" y="220.4" font-size="36" text-anchor="start" fill="#262626">C2</text>
<circle cx="192.7" cy="262.3" r="6.6" fill="#17becf"/>
<text x="256" y="272.7" font-size="36" text-anchor="start" fill="#262626">C3</text>
<circle cx="416.7" cy="155.2" r="6.6" fill="#1f77b4"/>
<text x="480" y="165.6" font-size="36" text-anchor="start" fill="#262626">C4</text>
<circle cx="416.7" cy="210" r="6.6" fill="#9467bd"/>
<text x="480" y="220.4" font-size="36" text-anchor="start" fill="#262626">C5</text>
<path d="M151.4 711.9v-9.5M151.4 105.1v9.5M261.8 711.9v-9.5M261.8 105.1v9.5M372.2 711.9v-9.5M372.2 105.1v9.5M482.6 711.9v-9.5M482.6 105.1v9.5M593 711.9v-9.5M593 105.1v9.5M703.4 711.9v-9.5M703.4 105.1v9.5M123.5 693.8h9.5M730.6 693.8h-9.5M123.5 622.3h9.5M730.6 622.3h-9.5M123.5 550.8h9.5M730.6 550.8h-9.5M123.5 479.3h9.5M730.6 479.3h-9.5M123.5 407.8h9.5M730.6 407.8h-9.5M123.5 336.4h9.5M730.6 336.4h-9.5M123.5 264.9h9.5M730.6 264.9h-9.5M123.5 193.4h9.5M730.6 193.4h-9.5M123.5 121.9h9.5M730.6 121.9h-9.5" stroke="#111" stroke-width="1.8" fill="none"/>
<rect x="123.5" y="105.1" width="607.1" height="606.8" fill="none" stroke="#111" stroke-width="1.8"/>
<g font-size="22.8" fill="#262626"><text x="151.4" y="739.6" text-anchor="middle">0.0</text><text x="261.8" y="739.6" text-anchor="middle">0.2</text><text x="372.2" y="739.6" text-anchor="middle">0.4</text><text x="482.6" y="739.6" text-anchor="middle">0.6</text><text x="593.0" y="739.6" text-anchor="middle">0.8</text><text x="703.4" y="739.6" text-anchor="middle">1.0</text><text x="114.8" y="703.8" text-anchor="end">0.00</text><text x="114.8" y="632.3" text-anchor="end">0.25</text><text x="114.8" y="560.8" text-anchor="end">0.50</text><text x="114.8" y="489.3" text-anchor="end">0.75</text><text x="114.8" y="417.8" text-anchor="end">1.00</text><text x="114.8" y="346.4" text-anchor="end">1.25</text><text x="114.8" y="274.9" text-anchor="end">1.50</text><text x="114.8" y="203.4" text-anchor="end">1.75</text><text x="114.8" y="131.9" text-anchor="end">2.00</text></g>
<g fill="#262626"><text x="260.4" y="789.4" font-size="40">Q</text><text x="292.5" y="789.4" font-size="40">S</text><text x="319.2" y="794.6" font-size="28">1</text><text x="352.8" y="789.4" font-size="41.4">Uncertainty</text></g>
<text transform="translate(41.8 697.3) rotate(-90)" font-size="41.5" fill="#262626">Absolute Error in kcal/mol/<tspan font-style="italic">Å</tspan></text>
<g font-size="34.6" fill="#262626"><text x="400.7" y="688.1" font-style="italic">r</text><text x="422.2" y="688.1">=</text><text x="459.1" y="688.1">0</text><text x="483.3" y="688.1">.</text><text x="494.6" y="688.1">8</text><text x="517.3" y="688.1">8</text><text x="539.6" y="688.1">,</text><text x="558.2" y="688.1" font-style="italic">p</text><text x="590.2" y="688.1">=</text><text x="626.5" y="688.1">0</text><text x="651.3" y="688.1">.</text><text x="661.1" y="688.1">0</text></g>
<path d="M152.2 94.8h8.7v3.5h-8.7zM163.5 39.1h8.7v59.2h-8.7zM174.8 10.8h8.7v87.5h-8.7zM186.1 63.5h8.7v34.8h-8.7zM197.4 80h8.7v18.3h-8.7zM208.7 85.7h8.7v12.6h-8.7zM220 87.5h8.7v10.8h-8.7zM231.3 89.6h8.7v8.7h-8.7zM242.6 93h8.7v5.3h-8.7zM253.9 94.8h8.7v3.5h-8.7zM265.2 96.9h8.7v1.4h-8.7z" fill="#1f77b4"/>
<path d="M737.6 629.8h14.1v8.2h-14.1zM737.6 618.7h51.4v8.2h-51.4zM737.6 607.4h87.1v8.2h-87.1zM737.6 597.7h81.1v8.2h-81.1zM737.6 586.8h60.9v8.2h-60.9zM737.6 575.9h42v8.2h-42zM737.6 565h29v8.2h-29zM737.6 553.5h17.8v8.2h-17.8zM737.6 542h10.5v8.2h-10.5zM737.6 530.9h6.4v8.2h-6.4zM737.6 520h2.7v8.2h-2.7zM737.6 509.1h2.4v8.2h-2.4zM737.6 498.4h1.2v8.2h-1.2zM737.6 487.5h0.6v8.2h-0.6zM737.6 476h2.7v8.2h-2.7zM737.6 464.5h0.6v8.2h-0.6z" fill="#1f77b4"/>
<path d="M1039.6 101.2V712.3M1150.9 101.2V712.3M1262.2 101.2V712.3M1373.4 101.2V712.3M1484.7 101.2V712.3M1596 101.2V712.3M1013 687.8H1624.6M1013 572.7H1624.6M1013 457.6H1624.6M1013 342.6H1624.6M1013 227.5H1624.6M1013 112.4H1624.6" stroke="#d5d5d5" stroke-width="1.5" fill="none"/>
<path d="M1181 611h0M1222 643h0M1145 597h0M1221 610h0M1220 621h0M1097 631h0M1094 623h0M1188 603h0M1133 604h0M1186 628h0M1197 598h0M1092 630h0M1133 648h0M1181 593h0M1207 632h0M1201 629h0M1201 610h0M1170 621h0M1128 663h0M1139 589h0M1081 667h0M1121 660h0M1160 666h0M1196 654h0M1225 615h0M1205 624h0M1157 641h0M1129 596h0M1137 665h0M1226 636h0M1159 659h0M1115 593h0M1182 602h0M1085 627h0M1201 631h0M1122 667h0M1160 632h0M1111 625h0M1141 611h0M1162 608h0M1123 608h0M1197 639h0M1157 663h0M1208 630h0M1160 653h0M1195 598h0M1090 626h0M1077 669h0M1107 626h0M1100 627h0M1140 595h0M1180 628h0M1194 634h0M1198 604h0M1124 618h0M1172 654h0M1158 664h0M1143 610h0M1149 638h0M1135 588h0M1196 599h0M1097 670h0M1130 630h0M1084 624h0M1205 633h0M1155 629h0M1148 595h0M1122 629h0M1173 610h0M1171 624h0M1147 633h0M1073 656h0M1193 671h0M1145 620h0M1154 593h0M1139 588h0M1074 635h0M1079 662h0M1085 650h0M1147 602h0M1155 649h0M1138 668h0M1084 622h0M1139 649h0M1114 644h0M1173 660h0M1118 671h0M1196 624h0M1167 646h0M1136 597h0M1141 609h0M1153 598h0M1118 642h0M1128 589h0M1135 632h0M1165 587h0M1156 618h0M1127 670h0M1212 656h0M1166 618h0M1138 673h0M1158 653h0M1157 676h0M1197 626h0M1149 602h0M1117 671h0M1107 671h0M1207 611h0M1148 619h0M1108 611h0M1118 627h0M1105 631h0M1172 606h0M1134 655h0M1161 657h0M1159 637h0M1133 606h0M1203 617h0M1184 628h0M1092 675h0M1171 602h0M1121 662h0M1089 621h0M1171 600h0M1100 628h0M1181 654h0M1098 620h0M1141 674h0M1115 678h0M1166 601h0M1212 663h0M1114 656h0M1177 672h0M1221 641h0M1101 646h0M1095 671h0M1086 673h0M1168 607h0M1170 652h0M1119 660h0M1083 639h0M1191 627h0M1167 654h0M1221 647h0M1199 665h0M1092 650h0M1206 623h0M1110 673h0M1154 608h0M1208 640h0M1200 611h0M1187 591h0M1111 633h0M1144 586h0M1184 648h0M1213 641h0M1201 663h0M1138 608h0M1148 622h0M1184 644h0M1136 649h0M1225 641h0M1153 600h0M1146 614h0M1122 640h0M1159 609h0M1168 638h0M1157 593h0M1167 641h0M1223 645h0M1192 667h0M1151 600h0M1209 614h0M1110 614h0M1118 611h0M1188 624h0M1189 663h0M1167 666h0M1139 671h0M1178 663h0M1177 611h0M1108 668h0M1133 674h0M1186 635h0M1106 633h0M1134 616h0M1112 624h0M1180 648h0M1078 668h0M1183 664h0M1150 644h0M1172 615h0M1131 622h0M1177 595h0M1177 606h0M1187 624h0M1205 664h0M1131 624h0M1163 666h0M1180 640h0M1089 617h0M1087 642h0M1137 622h0M1160 608h0M1139 665h0M1172 642h0M1085 624h0M1134 664h0M1175 598h0M1215 651h0M1176 640h0M1139 656h0M1110 601h0M1076 636h0M1166 662h0M1173 607h0M1127 675h0M1198 598h0M1184 613h0M1155 645h0M1098 666h0M1166 616h0M1189 649h0M1080 654h0M1174 597h0M1095 648h0M1164 670h0M1216 603h0M1190 663h0M1147 598h0M1081 670h0M1133 668h0M1218 606h0M1087 627h0M1221 634h0M1102 658h0M1168 663h0M1184 595h0M1121 657h0M1155 614h0M1150 606h0M1183 637h0M1205 659h0M1193 628h0M1136 660h0M1138 633h0M1219 657h0M1154 598h0M1206 606h0M1148 643h0M1165 586h0M1205 597h0M1179 653h0M1146 648h0M1124 676h0M1168 669h0M1173 611h0M1158 650h0M1083 643h0M1150 618h0M1224 639h0M1187 604h0M1180 672h0M1073 668h0M1158 663h0M1079 644h0M1134 638h0M1195 659h0M1086 672h0M1136 599h0M1200 651h0M1146 657h0M1109 640h0M1130 669h0M1100 661h0M1164 619h0M1136 655h0M1128 655h0M1130 601h0M1101 636h0M1109 628h0M1152 592h0M1092 623h0M1202 610h0M1097 647h0M1144 633h0M1125 676h0M1122 590h0M1170 611h0M1098 675h0M1141 622h0M1204 637h0M1110 620h0M1221 644h0M1186 625h0M1130 604h0M1093 617h0M1130 628h0M1203 651h0M1157 645h0M1140 609h0M1126 621h0M1110 630h0M1086 637h0M1138 651h0M1142 605h0M1195 664h0M1142 652h0M1074 652h0M1164 605h0M1170 671h0M1139 621h0M1164 656h0M1103 624h0M1169 629h0M1153 639h0M1109 601h0M1194 620h0M1207 636h0M1141 675h0M1152 656h0M1140 638h0M1178 647h0M1204 628h0M1078 628h0M1105 630h0M1146 586h0M1171 611h0M1084 646h0M1139 680h0M1197 638h0M1178 659h0M1120 599h0M1126 652h0M1169 610h0M1213 637h0M1168 601h0M1132 630h0M1207 603h0M1161 620h0M1157 657h0M1076 650h0M1116 614h0M1177 674h0M1178 614h0M1120 624h0M1158 605h0M1161 647h0M1166 612h0M1154 604h0M1161 670h0M1139 611h0M1158 602h0M1092 617h0M1123 658h0M1217 659h0M1179 659h0M1222 653h0M1127 645h0M1107 648h0M1119 662h0M1118 616h0M1189 590h0M1073 636h0M1213 617h0M1201 599h0M1185 673h0M1097 640h0M1130 625h0M1122 639h0M1116 664h0M1172 676h0M1167 649h0M1167 643h0M1087 649h0M1086 674h0M1212 632h0M1139 678h0M1115 636h0M1093 644h0M1086 645h0M1121 611h0M1177 639h0M1186 636h0M1191 593h0M1146 651h0M1146 655h0M1150 616h0M1208 616h0M1118 606h0M1222 631h0M1163 602h0M1226 633h0M1125 614h0M1124 590h0M1192 639h0M1157 610h0M1152 673h0M1160 625h0M1140 636h0M1169 608h0M1206 608h0M1202 595h0M1175 590h0M1139 657h0M1224 617h0M1081 630h0M1154 664h0M1217 646h0M1186 593h0M1116 594h0M1159 604h0M1085 641h0M1170 658h0M1220 648h0M1195 601h0M1132 670h0M1131 613h0M1133 630h0M1170 660h0M1197 625h0M1165 588h0M1115 664h0M1175 666h0M1179 606h0M1190 597h0M1094 663h0M1073 659h0M1102 664h0M1195 662h0M1210 605h0M1103 640h0M1159 648h0M1175 659h0M1137 598h0M1199 611h0M1171 665h0M1115 596h0M1195 666h0M1175 623h0M1220 637h0M1186 623h0M1201 644h0M1185 652h0M1108 633h0M1072 638h0M1121 637h0M1216 633h0M1140 650h0M1119 623h0M1171 599h0M1201 602h0M1159 598h0M1082 672h0M1214 655h0M1205 606h0M1217 622h0M1119 647h0M1163 654h0M1186 643h0M1171 610h0M1179 645h0M1127 617h0M1175 630h0M1128 652h0M1205 620h0M1156 621h0M1094 644h0M1101 641h0M1135 663h0M1103 629h0M1159 633h0M1130 633h0M1191 644h0M1077 658h0M1122 617h0M1162 674h0M1135 596h0M1172 632h0M1074 653h0M1126 601h0M1138 625h0M1189 603h0M1218 630h0M1124 634h0M1193 621h0M1130 600h0M1151 676h0M1079 670h0M1111 626h0M1115 644h0M1188 656h0M1091 663h0M1212 617h0M1152 595h0M1177 658h0M1099 629h0M1088 653h0M1220 644h0M1176 620h0M1198 632h0M1074 657h0M1108 637h0M1177 649h0M1104 615h0M1117 607h0M1134 660h0M1213 631h0M1161 645h0M1198 601h0M1115 649h0M1110 607h0M1189 624h0M1210 659h0M1082 643h0M1185 648h0M1111 613h0M1087 654h0M1195 616h0M1188 665h0M1149 633h0M1128 617h0M1165 662h0M1134 670h0M1166 624h0M1107 636h0M1155 659h0M1193 594h0M1133 621h0M1117 628h0M1123 617h0M1124 611h0M1193 654h0M1111 674h0M1075 636h0M1132 661h0M1158 600h0M1166 661h0M1152 655h0M1075 663h0M1120 643h0M1125 639h0M1073 671h0M1089 644h0M1100 672h0M1190 639h0M1070 644h0M1157 587h0M1082 658h0M1129 593h0M1167 631h0M1080 635h0M1086 643h0M1081 626h0M1195 642h0M1084 649h0M1204 605h0M1116 653h0M1129 610h0M1125 663h0M1170 655h0M1198 644h0M1208 618h0M1160 622h0M1162 631h0M1151 639h0M1160 675h0M1159 645h0M1124 649h0M1219 648h0M1145 672h0M1128 672h0M1142 645h0M1181 642h0M1084 650h0M1155 636h0M1153 619h0M1176 658h0M1115 633h0M1125 631h0M1191 662h0M1174 636h0M1140 643h0M1200 639h0M1189 630h0M1221 638h0M1123 616h0M1179 650h0M1097 665h0M1213 657h0M1181 615h0M1113 668h0M1107 638h0M1147 591h0M1125 599h0M1179 665h0M1156 653h0M1148 585h0M1126 587h0M1211 628h0M1199 618h0M1216 621h0M1193 640h0M1198 605h0M1115 594h0M1138 676h0M1144 607h0M1181 638h0M1176 628h0M1120 655h0M1178 601h0M1206 662h0M1211 618h0M1186 648h0M1163 651h0M1129 648h0M1109 642h0M1213 635h0M1170 633h0M1209 612h0M1191 673h0M1191 640h0M1183 605h0M1197 662h0M1122 673h0M1089 637h0M1156 668h0M1100 609h0M1155 641h0M1089 664h0M1190 628h0M1132 624h0M1097 622h0M1139 627h0M1081 632h0M1157 644h0M1166 623h0M1085 654h0M1112 647h0M1096 628h0M1152 623h0M1215 652h0M1191 607h0M1223 652h0M1132 678h0M1114 629h0M1145 674h0M1173 647h0M1148 659h0M1218 645h0M1176 624h0M1140 589h0M1066 649h0M1101 675h0M1120 612h0M1173 605h0M1181 649h0M1171 589h0M1071 648h0M1099 667h0M1087 663h0M1118 662h0M1090 657h0M1158 656h0M1113 675h0M1188 614h0M1171 647h0M1107 620h0M1135 665h0M1100 614h0M1126 608h0M1155 607h0M1175 658h0M1077 671h0M1145 623h0M1188 653h0M1211 647h0M1091 666h0M1177 633h0M1202 657h0M1148 660h0M1202 620h0M1090 634h0M1094 626h0M1132 628h0M1198 624h0M1170 596h0M1165 637h0M1120 628h0M1108 609h0M1201 636h0M1138 640h0M1107 634h0M1183 597h0M1072 661h0M1113 653h0M1143 590h0M1210 640h0M1131 621h0M1088 639h0M1166 649h0M1140 621h0M1139 674h0M1133 594h0M1085 632h0M1193 602h0M1069 654h0M1071 650h0M1114 678h0M1183 659h0M1211 661h0M1198 596h0M1141 666h0M1187 628h0M1072 641h0M1108 622h0M1094 646h0M1140 652h0M1167 617h0M1184 664h0M1080 651h0M1138 679h0M1069 652h0M1100 619h0M1208 632h0M1119 593h0M1148 631h0M1175 655h0M1176 672h0M1179 632h0M1171 644h0M1201 605h0M1168 590h0M1109 626h0M1135 602h0M1187 617h0M1186 661h0M1082 657h0M1111 667h0M1156 587h0M1167 657h0M1205 645h0M1199 651h0M1177 663h0M1132 677h0M1163 656h0M1100 662h0M1096 649h0M1130 644h0M1151 599h0M1166 633h0M1106 632h0M1127 638h0M1117 595h0M1112 606h0M1226 639h0M1125 641h0M1153 611h0M1168 605h0M1171 628h0M1158 649h0M1151 679h0M1165 602h0M1184 638h0M1203 665h0M1067 649h0M1132 676h0M1153 647h0M1221 608h0M1185 591h0M1200 630h0M1156 676h0M1194 619h0M1167 593h0M1160 593h0M1209 654h0M1180 624h0M1143 679h0M1180 600h0M1150 598h0M1140 628h0M1092 636h0M1154 634h0M1180 629h0M1148 584h0M1159 629h0M1202 607h0M1169 647h0M1127 647h0M1106 644h0M1194 637h0M1150 607h0M1116 668h0M1215 640h0M1181 594h0M1198 626h0M1137 655h0M1143 646h0M1219 620h0M1139 635h0M1160 659h0M1143 648h0M1087 644h0M1094 656h0M1164 676h0M1178 625h0M1149 588h0M1116 597h0M1195 635h0M1208 643h0M1096 669h0M1138 623h0M1170 595h0M1110 643h0M1110 597h0M1117 599h0M1156 664h0M1089 633h0M1129 665h0M1208 663h0M1185 602h0M1080 666h0M1082 638h0M1150 610h0M1142 596h0M1199 632h0M1188 599h0M1179 662h0M1204 640h0M1189 629h0M1104 627h0M1166 659h0M1123 668h0M1181 608h0M1214 643h0M1211 639h0M1210 651h0M1157 592h0M1128 666h0M1200 641h0M1203 606h0M1085 646h0M1168 604h0M1162 650h0M1144 670h0M1162 622h0M1182 614h0M1201 657h0M1168 640h0M1180 593h0M1156 609h0M1215 607h0M1144 585h0M1196 613h0M1204 598h0M1209 639h0M1125 652h0M1159 592h0M1192 630h0M1164 639h0M1215 659h0M1117 678h0M1173 615h0M1073 653h0M1148 664h0M1142 659h0M1077 642h0M1118 594h0M1226 617h0M1112 636h0M1187 606h0M1097 613h0M1159 658h0M1178 641h0M1171 673h0M1131 673h0M1121 624h0M1096 615h0M1187 592h0M1135 676h0M1114 593h0M1143 622h0M1201 617h0M1158 676h0M1143 584h0M1150 665h0M1199 648h0M1202 634h0M1192 629h0M1145 663h0M1126 638h0M1177 653h0M1073 633h0M1150 658h0M1098 655h0M1212 653h0M1147 615h0M1152 630h0M1087 648h0M1160 676h0M1101 637h0M1097 654h0M1215 665h0M1130 664h0M1180 633h0M1105 624h0M1117 650h0M1156 599h0M1208 639h0M1112 602h0M1230 627h0M1189 610h0M1137 609h0M1178 623h0M1126 645h0M1161 641h0M1106 610h0M1146 617h0M1186 645h0M1157 602h0M1133 660h0M1176 625h0M1188 627h0M1213 610h0M1112 621h0M1206 618h0M1148 610h0M1151 643h0M1220 607h0M1182 664h0M1209 616h0M1119 594h0M1134 594h0M1156 667h0M1146 590h0M1173 622h0M1099 591h0M1140 624h0M1164 678h0M1198 662h0M1150 597h0M1127 665h0M1148 652h0M1208 666h0M1085 629h0M1108 613h0M1126 633h0M1137 606h0M1134 644h0M1150 629h0M1177 654h0M1104 637h0M1168 659h0M1196 645h0M1086 611h0M1144 681h0M1123 610h0M1142 657h0M1211 665h0M1226 655h0M1159 602h0M1136 628h0M1208 648h0M1184 601h0M1212 639h0M1124 671h0M1100 647h0M1211 594h0M1105 646h0M1216 648h0M1161 595h0M1159 651h0M1124 631h0M1107 619h0M1194 643h0M1150 627h0M1131 619h0M1130 594h0M1094 620h0M1093 620h0M1125 611h0M1187 625h0M1097 624h0M1073 647h0M1177 665h0M1202 635h0M1144 591h0M1116 663h0M1144 642h0M1113 609h0M1095 656h0M1161 680h0M1134 620h0M1214 622h0M1124 589h0M1132 668h0M1097 664h0M1177 635h0M1090 656h0M1166 599h0M1177 614h0M1197 655h0M1144 635h0M1108 604h0M1128 583h0M1152 652h0M1121 649h0M1180 650h0M1180 660h0M1140 613h0M1159 589h0M1115 621h0M1161 629h0M1216 629h0M1133 600h0M1161 663h0M1131 586h0M1148 646h0M1118 638h0M1207 661h0M1117 596h0M1196 583h0M1178 588h0M1131 582h0M1237 536h0M1142 618h0M1173 556h0M1193 550h0M1209 617h0M1191 606h0M1287 576h0M1142 590h0M1183 607h0M1143 595h0M1214 577h0M1127 628h0M1200 586h0M1202 549h0M1195 634h0M1176 594h0M1206 641h0M1248 608h0M1170 572h0M1159 572h0M1150 541h0M1276 583h0M1254 599h0M1203 602h0M1148 567h0M1200 560h0M1159 587h0M1270 610h0M1112 598h0M1170 601h0M1132 589h0M1222 534h0M1182 574h0M1089 606h0M1169 569h0M1230 593h0M1219 646h0M1178 563h0M1180 597h0M1185 594h0M1181 559h0M1130 577h0M1194 646h0M1245 595h0M1141 578h0M1169 601h0M1164 595h0M1179 559h0M1174 565h0M1185 618h0M1116 591h0M1170 598h0M1258 611h0M1210 583h0M1187 603h0M1135 578h0M1157 576h0M1197 618h0M1092 593h0M1207 630h0M1154 601h0M1138 601h0M1237 589h0M1185 620h0M1140 583h0M1138 590h0M1177 619h0M1125 600h0M1193 616h0M1262 606h0M1183 614h0M1167 594h0M1129 598h0M1152 565h0M1172 578h0M1183 590h0M1284 644h0M1179 582h0M1164 589h0M1189 575h0M1228 594h0M1201 598h0M1119 625h0M1239 605h0M1215 602h0M1147 574h0M1164 587h0M1204 574h0M1213 542h0M1188 602h0M1148 579h0M1179 652h0M1223 600h0M1160 582h0M1097 632h0M1174 598h0M1151 581h0M1185 619h0M1140 597h0M1187 622h0M1167 546h0M1238 625h0M1175 616h0M1167 633h0M1206 595h0M1157 578h0M1198 603h0M1059 599h0M1182 627h0M1142 612h0M1237 583h0M1194 575h0M1127 624h0M1136 622h0M1287 585h0M1212 648h0M1227 582h0M1194 590h0M1113 583h0M1153 579h0M1199 593h0M1193 588h0M1179 619h0M1201 579h0M1260 558h0M1151 611h0M1169 551h0M1101 567h0M1161 583h0M1228 591h0M1227 564h0M1101 582h0M1120 576h0M1171 556h0M1173 568h0M1134 590h0M1213 581h0M1170 608h0M1222 584h0M1256 581h0M1109 583h0M1216 584h0M1162 606h0M1132 603h0M1227 545h0M1122 593h0M1140 598h0M1192 640h0M1205 626h0M1248 612h0M1256 594h0M1215 573h0M1188 565h0M1157 638h0M1220 638h0M1071 634h0M1105 552h0M1193 593h0M1199 586h0M1220 582h0M1120 633h0M1244 598h0M1156 604h0M1181 547h0M1197 574h0M1146 597h0M1202 592h0M1120 590h0M1189 580h0M1224 579h0M1231 581h0M1196 609h0M1108 662h0M1283 576h0M1217 624h0M1231 564h0M1124 580h0M1194 576h0M1256 625h0M1160 649h0M1263 561h0M1152 585h0M1241 563h0M1224 649h0M1233 516h0M1203 591h0M1171 598h0M1195 622h0M1240 577h0M1137 599h0M1144 671h0M1179 581h0M1118 617h0M1205 619h0M1272 594h0M1206 584h0M1189 558h0M1230 610h0M1240 621h0M1242 536h0M1231 618h0M1156 597h0M1125 591h0M1151 608h0M1188 570h0M1202 598h0M1170 642h0M1199 597h0M1131 552h0M1137 597h0M1259 667h0M1089 658h0M1170 550h0M1157 658h0M1142 581h0M1207 646h0M1192 553h0M1231 617h0M1169 659h0M1208 601h0M1106 561h0M1217 631h0M1233 545h0M1217 565h0M1167 619h0M1205 617h0M1155 603h0M1144 533h0M1183 613h0M1213 590h0M1261 612h0M1163 557h0M1180 546h0M1191 585h0M1139 572h0M1143 611h0M1262 558h0M1246 557h0M1236 624h0M1203 620h0M1229 566h0M1156 611h0M1210 637h0M1160 620h0M1220 546h0M1191 610h0M1174 561h0M1165 545h0M1144 577h0M1204 579h0M1174 587h0M1210 567h0M1158 594h0M1177 544h0M1198 587h0M1130 569h0M1178 642h0M1143 617h0M1241 625h0M1168 618h0M1271 578h0M1189 636h0M1184 568h0M1241 555h0M1112 620h0M1164 597h0M1180 601h0M1130 587h0M1222 637h0M1210 604h0M1138 598h0M1176 609h0M1162 594h0M1231 585h0M1204 572h0M1219 579h0M1203 550h0M1190 585h0M1132 565h0M1223 598h0M1153 605h0M1203 649h0M1143 672h0M1145 631h0M1190 630h0M1182 547h0M1137 646h0M1231 624h0M1211 622h0M1138 595h0M1261 600h0M1186 652h0M1177 591h0M1206 640h0M1194 609h0M1188 544h0M1244 616h0M1233 621h0M1113 573h0M1193 627h0M1181 610h0M1138 621h0M1206 564h0M1223 619h0M1091 630h0M1214 571h0M1162 592h0M1180 616h0M1233 577h0M1174 623h0M1192 551h0M1178 630h0M1204 581h0M1238 578h0M1143 620h0M1199 587h0M1134 603h0M1184 603h0M1136 564h0M1186 607h0M1137 608h0M1178 615h0M1223 650h0M1262 568h0M1119 640h0M1256 610h0M1197 593h0M1101 581h0M1199 605h0M1218 552h0M1136 648h0M1170 622h0M1256 643h0M1215 597h0M1213 594h0M1114 616h0M1232 662h0M1222 546h0M1164 591h0M1236 574h0M1247 631h0M1176 550h0M1197 537h0M1198 641h0M1183 622h0M1155 611h0M1168 587h0M1205 672h0M1141 562h0M1163 630h0M1197 640h0M1241 597h0M1155 570h0M1140 616h0M1176 583h0M1180 596h0M1207 614h0M1158 630h0M1136 579h0M1088 618h0M1236 597h0M1226 608h0M1226 585h0M1243 625h0M1161 619h0M1209 588h0M1108 592h0M1249 617h0M1226 606h0M1164 625h0M1152 510h0M1236 602h0M1253 609h0M1202 624h0M1206 594h0M1160 617h0M1117 627h0M1189 586h0M1180 588h0M1157 616h0M1217 579h0M1276 579h0M1177 566h0M1210 537h0M1206 628h0M1164 558h0M1196 625h0M1127 620h0M1149 534h0M1168 612h0M1237 565h0M1193 647h0M1172 556h0M1093 591h0M1195 579h0M1132 621h0M1203 590h0M1243 539h0M1210 596h0M1230 541h0M1200 563h0M1198 552h0M1222 566h0M1212 538h0M1243 528h0M1250 556h0M1233 542h0M1205 543h0M1179 593h0M1247 528h0M1175 544h0M1108 601h0M1256 546h0M1190 571h0M1255 523h0M1202 564h0M1197 552h0M1239 522h0M1199 542h0M1158 599h0M1231 549h0M1146 577h0M1164 580h0M1228 523h0M1176 617h0M1197 557h0M1239 558h0M1161 572h0M1186 584h0M1211 527h0M1196 574h0M1221 540h0M1225 540h0M1177 559h0M1211 565h0M1193 564h0M1219 517h0M1259 542h0M1148 556h0M1203 530h0M1222 576h0M1240 541h0M1245 543h0M1189 614h0M1217 553h0M1213 545h0M1197 528h0M1237 547h0M1265 536h0M1201 571h0M1207 554h0M1193 527h0M1236 513h0M1245 562h0M1192 560h0M1194 571h0M1216 559h0M1108 586h0M1229 533h0M1183 553h0M1243 537h0M1211 585h0M1203 539h0M1202 514h0M1224 532h0M1176 565h0M1225 571h0M1177 568h0M1210 556h0M1206 574h0M1221 555h0M1223 545h0M1239 531h0M1217 541h0M1098 638h0M1208 543h0M1247 524h0M1247 547h0M1227 563h0M1247 530h0M1175 542h0M1178 541h0M1244 543h0M1219 520h0M1202 550h0M1203 522h0M1157 594h0M1205 554h0M1213 553h0M1183 557h0M1252 544h0M1268 522h0M1161 573h0M1188 586h0M1206 536h0M1188 554h0M1256 531h0M1224 514h0M1191 568h0M1245 520h0M1246 508h0M1192 568h0M1202 551h0M1204 563h0M1243 525h0M1178 565h0M1206 551h0M1239 557h0M1222 564h0M1174 589h0M1161 574h0M1231 535h0M1209 518h0M1279 596h0M1269 579h0M1247 606h0M1302 589h0M1305 600h0M1299 563h0M1262 576h0M1242 590h0M1330 584h0M1293 605h0M1252 602h0M1280 616h0M1322 621h0M1240 619h0M1245 657h0M1266 591h0M1229 625h0M1252 612h0M1239 641h0M1308 636h0M1281 609h0M1294 612h0M1291 564h0M1308 587h0M1311 630h0M1266 567h0M1253 567h0M1272 615h0M1291 625h0M1247 650h0M1291 613h0M1329 639h0M1332 573h0M1305 651h0M1292 613h0M1324 607h0M1272 623h0M1296 575h0M1266 639h0M1308 654h0M1333 568h0M1305 612h0M1326 625h0M1293 607h0M1226 584h0M1257 590h0M1338 608h0M1269 571h0M1273 572h0M1307 659h0M1259 643h0M1340 600h0M1272 630h0M1318 565h0M1255 585h0M1159 568h0M1131 538h0M1163 536h0M1184 563h0M1123 566h0M1131 562h0M1124 542h0M1179 532h0M1152 562h0M1180 556h0M1124 550h0M1121 564h0M1175 532h0M1172 546h0M1156 536h0M1193 535h0M1129 532h0M1140 546h0M1126 549h0M1141 540h0M1145 555h0M1168 532h0M1154 540h0M1192 549h0M1165 542h0M1190 535h0M1151 534h0M1193 561h0M1189 563h0M1080 484h0M1074 509h0M1121 481h0M1109 500h0M1106 484h0M1116 492h0M1090 491h0M1098 509h0M1107 489h0M1124 497h0M1093 500h0M1100 515h0M1095 471h0M1122 487h0M1083 499h0M1110 508h0M1100 529h0M1083 483h0M1165 315h0M1150 520h0M1105 545h0M1098 560h0" stroke="#bcbd22" stroke-width="5.8" stroke-linecap="round" fill="none"/>
<path d="M1043 654h0M1070 545h0M1040 643h0M1043 634h0M1076 568h0M1068 577h0M1056 645h0M1089 581h0M1064 570h0M1065 631h0M1078 623h0M1071 606h0M1096 602h0M1084 576h0M1077 603h0M1062 642h0M1046 633h0M1072 602h0M1052 574h0M1064 581h0M1065 615h0M1081 560h0M1088 568h0M1061 626h0M1075 580h0M1053 605h0M1081 571h0M1052 584h0M1052 590h0M1085 560h0M1073 618h0M1063 606h0M1101 606h0M1066 595h0M1079 606h0M1067 572h0M1062 608h0M1085 581h0M1087 620h0M1065 579h0M1078 629h0M1095 619h0M1053 577h0M1071 547h0M1058 611h0M1048 645h0M1065 611h0M1089 588h0M1072 525h0M1056 649h0M1088 599h0M1077 538h0M1079 544h0M1094 602h0M1052 596h0M1080 602h0M1091 591h0M1082 595h0M1076 542h0M1046 647h0M1055 588h0M1057 644h0M1081 601h0M1076 594h0M1058 584h0M1080 573h0M1058 573h0M1067 581h0M1078 592h0M1058 569h0M1085 607h0M1057 614h0M1049 640h0M1059 644h0M1075 529h0M1063 639h0M1086 595h0M1064 598h0M1066 592h0M1068 604h0M1088 619h0M1072 612h0M1085 572h0M1042 599h0M1062 567h0M1076 556h0M1066 555h0M1060 611h0M1070 606h0M1068 594h0M1091 608h0M1051 636h0M1070 633h0M1084 585h0M1091 582h0M1056 646h0M1044 656h0M1102 599h0M1060 565h0M1080 594h0M1078 562h0M1074 612h0M1077 631h0M1047 618h0M1060 597h0M1076 588h0M1089 624h0M1043 628h0M1042 608h0M1060 630h0M1054 560h0M1049 587h0M1086 626h0M1079 570h0M1082 541h0M1080 617h0M1049 586h0M1046 623h0M1073 567h0M1065 559h0M1070 567h0M1080 627h0M1069 548h0M1086 577h0M1061 571h0M1065 545h0M1060 563h0M1080 578h0M1045 633h0M1065 585h0M1077 529h0M1047 635h0M1050 645h0M1044 627h0M1048 598h0M1046 650h0M1070 549h0M1064 608h0M1082 586h0M1078 609h0M1078 542h0M1065 563h0M1073 521h0M1083 553h0M1080 552h0M1067 539h0M1070 534h0M1054 615h0M1069 618h0M1079 560h0M1047 591h0M1079 585h0M1058 615h0M1051 596h0M1081 585h0M1066 608h0M1072 604h0M1054 577h0M1059 575h0M1053 565h0M1081 615h0M1086 597h0M1062 615h0M1084 608h0M1076 585h0M1076 536h0M1053 596h0M1071 594h0M1063 588h0M1058 553h0M1084 573h0M1102 597h0M1102 600h0M1056 585h0M1060 558h0M1067 617h0M1050 591h0M1079 578h0M1065 564h0M1076 611h0M1055 637h0M1076 533h0M1094 617h0M1041 623h0M1055 607h0M1071 526h0M1068 552h0M1068 572h0M1046 628h0M1058 631h0M1087 591h0M1083 572h0M1069 577h0M1068 561h0M1082 581h0M1074 560h0M1076 631h0M1055 595h0M1070 632h0M1056 626h0M1074 616h0M1064 619h0M1064 599h0M1053 564h0M1050 594h0M1075 526h0M1097 591h0M1062 553h0M1049 578h0M1062 583h0M1044 635h0M1068 553h0M1061 564h0M1066 611h0M1049 655h0M1084 567h0M1080 571h0M1053 626h0M1075 621h0M1058 571h0M1055 572h0M1052 656h0M1071 623h0M1066 566h0M1057 608h0M1070 565h0M1080 586h0M1048 606h0M1079 571h0M1050 620h0M1088 591h0M1073 551h0M1072 557h0M1069 626h0M1049 621h0M1072 572h0M1057 615h0M1076 609h0M1044 609h0M1050 613h0M1089 615h0M1064 626h0M1071 631h0M1076 607h0M1078 525h0M1071 596h0M1068 622h0M1073 525h0M1058 603h0M1052 585h0M1061 623h0M1077 544h0M1091 615h0M1041 646h0M1081 624h0M1048 632h0M1075 626h0M1092 610h0M1051 585h0M1073 543h0M1077 531h0M1080 529h0M1052 622h0M1074 592h0M1085 596h0M1059 548h0M1070 615h0M1087 581h0M1066 551h0M1077 609h0M1052 594h0M1072 632h0M1075 584h0M1077 593h0M1059 555h0M1067 551h0M1074 535h0M1078 553h0M1067 628h0M1071 584h0M1095 604h0M1053 591h0M1092 619h0M1076 586h0M1084 561h0M1078 618h0M1041 620h0M1082 627h0M1063 620h0M1076 630h0M1080 534h0M1083 600h0M1074 618h0M1055 594h0M1077 532h0M1042 630h0M1054 633h0M1082 591h0M1043 618h0M1084 578h0M1043 625h0M1072 633h0M1074 547h0M1095 608h0M1059 597h0M1065 541h0M1065 552h0M1076 540h0M1072 524h0M1085 625h0M1075 531h0M1082 561h0M1068 596h0M1076 543h0M1081 630h0M1106 605h0M1068 613h0M1075 577h0M1061 608h0M1088 572h0M1062 576h0M1069 576h0M1053 649h0M1084 615h0M1056 600h0M1049 608h0M1059 593h0M1052 625h0M1063 567h0M1060 631h0M1099 605h0M1073 541h0M1069 533h0M1104 607h0M1078 604h0M1058 563h0M1073 600h0M1045 606h0M1081 544h0M1055 585h0M1056 557h0M1051 591h0M1051 601h0M1081 590h0M1051 608h0M1056 567h0M1049 575h0M1054 565h0M1082 614h0M1072 546h0M1080 585h0M1085 621h0M1080 609h0M1041 643h0M1072 551h0M1052 610h0M1060 555h0M1101 613h0M1040 623h0M1064 632h0M1074 546h0M1059 581h0M1078 549h0M1051 568h0M1058 598h0M1064 628h0M1048 629h0M1071 538h0M1071 610h0M1071 528h0M1062 601h0M1053 598h0M1071 575h0M1058 568h0M1073 527h0M1060 637h0M1075 583h0M1087 607h0M1061 638h0M1080 629h0M1055 628h0M1079 579h0M1069 627h0M1089 580h0M1089 575h0M1067 557h0M1072 635h0M1052 624h0M1080 549h0M1050 569h0M1079 609h0M1044 612h0M1077 569h0M1048 653h0M1094 606h0M1060 560h0M1085 591h0M1071 537h0M1068 570h0M1074 551h0M1059 624h0M1081 608h0M1061 640h0M1074 588h0M1068 581h0M1043 611h0M1065 581h0M1071 551h0M1077 600h0M1061 632h0M1052 652h0M1097 611h0M1064 561h0M1095 609h0M1069 535h0M1071 605h0M1068 538h0M1057 565h0M1101 596h0M1047 607h0M1052 572h0M1053 628h0M1083 595h0M1079 541h0M1076 598h0M1089 578h0M1064 554h0M1069 549h0M1071 601h0M1065 543h0M1058 551h0M1077 577h0M1059 560h0M1049 643h0M1068 632h0M1055 638h0M1063 627h0M1066 598h0M1048 637h0M1065 584h0M1080 536h0M1087 599h0M1081 552h0M1075 632h0M1085 587h0M1055 623h0M1076 627h0M1043 607h0M1054 641h0M1090 610h0M1079 562h0M1045 627h0M1101 595h0M1068 578h0M1057 594h0M1081 618h0M1074 539h0M1076 569h0M1063 605h0M1058 586h0M1047 650h0M1066 636h0M1056 607h0M1083 601h0M1071 634h0M1084 624h0M1078 544h0M1087 614h0M1093 613h0M1096 609h0M1048 615h0M1063 598h0M1089 606h0M1080 614h0M1044 642h0M1046 624h0M1057 556h0M1081 609h0M1070 529h0M1043 609h0M1040 607h0M1044 645h0M1054 610h0M1070 536h0M1059 647h0M1082 537h0M1085 600h0M1042 621h0M1087 610h0M1041 638h0M1048 604h0M1089 604h0M1052 641h0M1096 620h0M1044 597h0M1082 589h0M1078 572h0M1080 598h0M1076 526h0M1083 609h0M1080 553h0M1065 586h0M1083 614h0M1084 572h0M1094 588h0M1043 629h0M1066 630h0M1087 566h0M1046 621h0M1056 647h0M1069 561h0M1098 596h0M1054 629h0M1087 580h0M1086 589h0M1061 584h0M1085 582h0M1059 562h0M1104 608h0M1053 563h0M1070 535h0M1051 582h0M1062 580h0M1045 609h0M1072 532h0M1058 549h0M1067 570h0M1078 531h0M1082 549h0M1058 638h0M1079 534h0M1065 633h0M1074 601h0M1072 538h0M1106 601h0M1052 580h0M1065 595h0M1075 596h0M1082 619h0M1061 574h0M1061 645h0M1053 631h0M1073 534h0M1072 540h0M1075 631h0M1073 592h0M1044 643h0M1066 583h0M1062 578h0M1073 615h0M1069 547h0M1082 588h0M1065 568h0M1070 629h0M1066 633h0M1062 546h0M1077 582h0M1095 594h0M1074 629h0M1083 608h0M1049 638h0M1078 591h0M1078 528h0M1105 597h0M1065 626h0M1071 600h0M1084 558h0M1047 605h0M1098 605h0M1071 583h0M1090 609h0M1075 608h0M1088 601h0M1071 619h0M1085 610h0M1071 540h0M1071 587h0M1098 610h0M1045 620h0M1067 552h0M1046 608h0M1069 591h0M1079 601h0M1103 611h0M1060 589h0M1068 602h0M1079 615h0M1092 606h0M1069 570h0M1073 544h0M1050 597h0M1046 614h0M1086 571h0M1074 606h0M1058 585h0M1071 566h0M1079 530h0M1052 636h0M1070 600h0M1070 616h0M1097 618h0M1073 597h0M1069 635h0M1073 589h0M1047 651h0M1090 617h0M1104 606h0M1040 639h0M1050 650h0M1054 607h0M1093 606h0M1088 573h0M1077 580h0M1085 567h0M1051 622h0M1095 596h0M1099 614h0M1092 613h0M1067 554h0M1071 614h0M1078 590h0M1088 588h0M1078 630h0M1063 539h0M1053 567h0M1065 637h0M1058 566h0M1075 614h0M1063 631h0M1051 621h0M1079 551h0M1061 618h0M1057 630h0M1074 587h0M1043 632h0M1043 635h0M1073 605h0M1075 535h0M1062 589h0M1062 618h0M1054 567h0M1105 602h0M1057 552h0M1048 628h0M1046 605h0M1104 603h0M1074 613h0M1064 596h0M1080 603h0M1086 605h0M1040 608h0M1062 549h0M1072 628h0M1063 589h0M1098 612h0M1089 595h0M1062 625h0M1059 544h0M1084 580h0M1068 589h0M1072 547h0M1078 601h0M1085 573h0M1066 559h0M1054 644h0M1059 612h0M1054 645h0M1074 617h0M1077 625h0M1046 611h0M1045 625h0M1068 615h0M1074 533h0M1079 602h0M1063 573h0M1056 586h0M1053 627h0M1075 609h0M1067 530h0M1067 560h0M1076 634h0M1104 594h0M1073 524h0M1058 552h0M1051 629h0M1082 569h0M1094 570h0M1059 634h0M1079 536h0M1082 607h0M1047 639h0M1057 631h0M1045 647h0M1067 531h0M1053 625h0M1086 601h0M1089 629h0M1068 590h0M1079 593h0M1105 605h0M1082 571h0M1066 599h0M1051 634h0M1093 607h0M1041 600h0M1068 634h0M1084 547h0M1079 616h0M1045 591h0M1079 559h0M1078 632h0M1060 606h0M1095 617h0M1065 577h0M1066 539h0M1083 588h0M1045 655h0M1061 619h0M1065 635h0M1050 565h0M1042 649h0M1103 600h0M1047 585h0M1088 580h0M1077 623h0M1075 525h0M1078 581h0M1076 560h0M1068 595h0" stroke="#2ca02c" stroke-width="5.8" stroke-linecap="round" fill="none"/>
<path d="M1089 562h0M1109 595h0M1072 573h0M1086 573h0M1065 578h0M1075 583h0M1082 556h0M1087 540h0M1086 569h0M1078 572h0M1094 542h0M1085 549h0M1094 564h0M1068 604h0M1081 572h0M1070 583h0M1088 588h0M1088 583h0M1099 595h0M1071 608h0M1069 546h0M1099 587h0M1067 604h0M1061 581h0M1096 589h0M1075 535h0M1089 608h0M1092 581h0M1063 604h0M1081 591h0M1082 579h0M1088 534h0M1073 595h0M1095 603h0M1090 544h0M1075 600h0M1085 616h0M1091 550h0M1084 598h0M1069 577h0M1082 565h0M1077 574h0M1092 596h0M1089 585h0M1091 610h0M1079 604h0M1073 543h0M1093 540h0M1075 593h0M1078 571h0M1103 574h0M1070 536h0M1071 627h0M1069 542h0M1091 569h0M1067 595h0M1088 584h0M1074 569h0M1094 545h0M1073 620h0M1071 564h0M1090 523h0M1064 613h0M1083 585h0M1093 563h0M1073 531h0M1067 616h0M1087 526h0M1072 585h0M1092 529h0M1088 577h0M1082 572h0M1076 589h0M1085 516h0M1074 573h0M1109 581h0M1063 554h0M1062 574h0M1108 575h0M1085 590h0M1088 524h0M1079 547h0M1086 583h0M1086 564h0M1079 572h0M1068 547h0M1085 579h0M1089 551h0M1091 560h0M1100 581h0M1069 552h0M1074 594h0M1097 585h0M1079 582h0M1073 608h0M1109 578h0M1087 536h0M1095 592h0M1070 574h0M1066 550h0M1105 582h0M1100 564h0M1073 576h0M1073 564h0M1065 547h0M1076 605h0M1079 590h0M1084 552h0M1072 613h0M1078 569h0M1076 539h0M1068 564h0M1074 539h0M1062 608h0M1086 561h0M1092 582h0M1104 581h0M1083 571h0M1068 568h0M1102 583h0M1057 605h0M1058 606h0M1083 561h0M1078 603h0M1083 587h0M1086 605h0M1068 621h0M1066 594h0M1063 614h0M1097 604h0M1105 595h0M1092 585h0M1064 558h0M1086 533h0M1065 622h0M1090 604h0M1077 547h0M1094 543h0M1063 586h0M1079 588h0M1064 603h0M1104 600h0M1086 557h0M1091 526h0M1072 605h0M1106 574h0M1061 597h0M1087 583h0M1077 575h0M1067 547h0M1086 611h0M1084 519h0M1103 591h0M1072 599h0M1065 607h0M1069 614h0M1068 587h0M1082 558h0M1062 589h0M1067 565h0M1079 557h0M1068 538h0M1075 617h0M1060 618h0M1104 570h0M1081 620h0M1076 581h0M1063 557h0M1092 558h0M1098 586h0M1077 544h0M1067 573h0M1079 579h0M1080 544h0M1094 575h0M1063 581h0M1099 589h0M1072 614h0M1097 591h0M1068 603h0M1091 582h0M1082 554h0M1086 610h0M1086 563h0M1095 553h0M1098 570h0M1074 527h0M1089 597h0M1106 580h0M1081 540h0M1088 580h0M1108 598h0M1074 624h0M1059 605h0M1086 585h0M1104 594h0M1092 590h0M1063 612h0M1082 524h0M1070 591h0M1096 571h0M1089 521h0M1071 560h0M1066 556h0M1079 530h0M1082 561h0M1083 595h0M1065 576h0M1084 580h0M1075 587h0M1059 611h0M1089 592h0M1070 601h0M1095 551h0M1063 569h0M1092 552h0M1071 595h0M1063 565h0M1066 611h0M1082 587h0M1068 574h0M1071 616h0M1078 528h0M1088 537h0M1069 619h0M1072 571h0M1093 530h0M1089 579h0M1065 554h0M1095 557h0M1063 598h0M1082 619h0M1089 557h0M1098 571h0M1078 608h0M1079 521h0M1073 558h0M1091 567h0M1062 596h0M1091 598h0M1100 571h0M1072 616h0M1078 620h0M1101 583h0M1064 605h0M1095 578h0M1063 558h0M1072 598h0M1059 613h0M1074 625h0M1085 604h0M1070 573h0M1083 539h0M1064 597h0M1091 609h0M1090 529h0M1085 607h0M1090 525h0M1088 541h0M1087 561h0M1091 613h0M1101 567h0M1073 626h0M1061 563h0M1072 582h0M1080 524h0M1060 616h0M1090 577h0M1079 560h0M1082 555h0M1093 538h0M1076 531h0M1098 604h0M1074 568h0M1061 604h0M1069 575h0M1063 579h0M1067 613h0M1072 568h0M1064 600h0M1098 562h0M1065 619h0M1112 585h0M1101 594h0M1094 527h0M1070 579h0M1091 584h0M1085 583h0M1076 600h0M1067 544h0M1079 528h0M1065 621h0M1082 531h0M1074 615h0M1070 581h0M1080 576h0M1099 561h0M1061 583h0M1083 599h0M1095 591h0M1071 583h0M1086 594h0M1092 522h0M1068 575h0M1063 591h0M1066 573h0M1094 534h0M1070 595h0M1094 594h0M1092 609h0M1069 608h0M1085 552h0M1062 561h0M1105 568h0M1079 586h0M1074 595h0M1098 588h0M1082 560h0M1111 585h0M1076 573h0M1077 588h0M1084 576h0M1084 586h0M1066 551h0M1094 591h0M1082 566h0M1071 559h0M1093 609h0M1065 571h0M1101 582h0M1109 579h0M1067 576h0M1080 540h0M1080 532h0M1083 610h0M1094 528h0M1064 624h0M1088 582h0M1082 617h0M1093 525h0M1071 544h0M1074 530h0M1074 558h0M1099 600h0M1109 582h0M1074 567h0M1093 520h0M1095 608h0M1067 572h0M1091 517h0M1087 607h0M1066 606h0M1107 572h0M1073 562h0M1070 614h0M1062 606h0M1089 577h0M1078 555h0M1082 540h0M1074 622h0M1112 581h0M1082 602h0M1104 574h0M1078 574h0M1071 567h0M1096 588h0M1111 593h0M1070 620h0M1069 613h0M1088 593h0M1069 606h0M1067 626h0M1100 605h0M1073 563h0M1084 537h0M1093 584h0M1089 572h0M1080 580h0M1073 529h0M1081 566h0M1098 569h0M1110 589h0M1079 600h0M1063 611h0M1105 584h0M1078 531h0M1073 547h0M1069 569h0M1088 554h0M1105 597h0M1073 606h0M1083 579h0M1104 583h0M1084 517h0M1074 596h0M1084 584h0M1091 597h0M1067 622h0M1071 570h0M1068 609h0M1088 522h0M1068 539h0M1077 533h0M1089 552h0M1081 558h0M1093 561h0M1073 594h0M1086 539h0M1068 554h0M1093 518h0M1082 592h0M1095 552h0M1077 604h0M1082 577h0M1089 524h0M1085 518h0M1062 625h0M1095 584h0M1111 581h0M1089 582h0M1084 607h0M1072 586h0M1083 581h0M1076 547h0M1109 586h0M1070 578h0M1058 600h0M1089 606h0M1088 606h0M1076 601h0M1088 595h0M1090 605h0M1078 544h0M1103 575h0M1077 607h0M1069 537h0M1098 578h0M1074 582h0M1067 593h0M1062 578h0M1081 563h0M1101 595h0M1082 614h0M1090 598h0M1075 592h0M1078 605h0M1098 584h0M1069 578h0M1102 596h0M1075 568h0M1066 619h0M1102 602h0M1109 580h0M1068 565h0M1089 567h0M1068 594h0M1064 591h0M1075 602h0M1092 526h0M1073 534h0M1077 542h0M1078 611h0M1081 528h0M1086 553h0M1074 525h0M1094 563h0M1060 578h0M1088 566h0M1076 544h0M1083 596h0M1104 590h0M1062 601h0M1082 539h0M1085 577h0M1105 577h0M1086 576h0M1106 575h0M1066 574h0M1087 566h0M1082 591h0M1073 565h0M1089 518h0M1083 613h0M1098 599h0M1084 557h0M1080 561h0M1081 590h0M1106 583h0M1077 612h0M1069 538h0M1093 554h0M1087 597h0M1091 562h0M1103 569h0M1104 599h0M1060 593h0M1084 538h0M1083 590h0M1072 544h0M1062 593h0M1080 609h0M1091 518h0M1072 587h0M1092 545h0M1061 622h0M1092 530h0M1059 600h0M1067 591h0M1084 564h0M1104 597h0M1075 590h0M1108 590h0M1072 589h0M1090 588h0M1067 588h0M1088 559h0M1067 590h0M1077 545h0M1078 534h0M1103 573h0M1102 568h0M1085 540h0M1068 553h0M1111 586h0M1084 559h0M1081 556h0M1086 531h0M1109 568h0M1096 556h0M1075 588h0M1079 605h0M1106 587h0M1071 628h0M1110 590h0M1099 590h0M1083 609h0M1104 561h0M1079 598h0M1083 582h0M1088 571h0M1066 605h0M1076 518h0M1087 589h0M1074 540h0M1089 527h0M1061 524h0M1083 547h0M1070 563h0M1079 534h0M1085 600h0M1084 606h0M1063 625h0M1087 592h0M1074 559h0M1062 579h0M1084 585h0M1076 606h0M1090 564h0M1083 544h0M1079 540h0M1105 574h0M1105 588h0M1098 554h0M1069 560h0M1049 615h0M1081 573h0M1095 583h0M1106 597h0M1060 620h0M1116 589h0M1085 514h0M1073 541h0M1086 532h0M1078 592h0M1089 554h0M1109 606h0M1076 528h0M1087 545h0M1090 549h0M1059 624h0M1053 596h0M1100 602h0M1097 526h0M1067 538h0M1097 506h0M1082 526h0M1086 510h0M1061 528h0M1072 497h0M1060 496h0M1075 537h0M1077 511h0M1096 509h0M1103 499h0M1080 514h0M1090 519h0M1076 501h0M1087 512h0M1097 502h0M1071 494h0M1060 504h0M1050 525h0M1080 507h0M1072 510h0M1107 537h0M1069 530h0M1048 528h0M1075 521h0M1113 533h0M1061 521h0M1091 521h0M1075 507h0M1085 528h0M1069 515h0M1091 522h0M1073 521h0M1078 516h0M1075 494h0M1094 533h0M1070 471h0M1096 498h0M1092 502h0" stroke="#17becf" stroke-width="5.8" stroke-linecap="round" fill="none"/>
<path d="M1156 501h0M1217 473h0M1116 524h0M1196 508h0M1184 478h0M1210 497h0M1109 533h0M1140 506h0M1200 507h0M1216 452h0M1175 522h0M1116 519h0M1127 548h0M1198 476h0M1103 531h0M1130 494h0M1108 526h0M1126 557h0M1117 546h0M1165 496h0M1145 492h0M1220 464h0M1186 471h0M1187 521h0M1153 533h0M1177 538h0M1187 519h0M1195 502h0M1135 536h0M1196 518h0M1207 468h0M1198 474h0M1163 472h0M1223 457h0M1177 535h0M1183 471h0M1196 517h0M1171 475h0M1131 538h0M1150 496h0M1157 550h0M1191 502h0M1152 531h0M1146 491h0M1158 505h0M1190 496h0M1152 501h0M1206 501h0M1213 471h0M1201 462h0M1118 531h0M1106 554h0M1189 481h0M1143 481h0M1122 501h0M1164 468h0M1188 471h0M1174 466h0M1149 483h0M1192 485h0M1171 479h0M1176 524h0M1209 445h0M1127 505h0M1136 493h0M1170 464h0M1134 507h0M1196 472h0M1125 506h0M1181 474h0M1192 461h0M1179 514h0M1209 460h0M1116 553h0M1184 457h0M1194 505h0M1104 552h0M1193 463h0M1184 513h0M1173 530h0M1140 476h0M1125 514h0M1156 472h0M1191 509h0M1137 490h0M1175 524h0M1215 472h0M1126 528h0M1135 532h0M1150 519h0M1139 544h0M1193 526h0M1147 542h0M1154 510h0M1153 550h0M1170 466h0M1149 520h0M1111 542h0M1209 457h0M1192 513h0M1190 511h0M1172 493h0M1191 477h0M1210 485h0M1201 455h0M1118 503h0M1221 450h0M1189 472h0M1202 477h0M1212 443h0M1172 462h0M1215 469h0M1104 539h0M1134 527h0M1117 514h0M1177 494h0M1116 512h0M1132 523h0M1137 519h0M1214 444h0M1174 527h0M1119 510h0M1162 474h0M1190 495h0M1200 494h0M1200 500h0M1152 475h0M1148 481h0M1133 501h0M1208 458h0M1165 493h0M1155 473h0M1151 508h0M1142 483h0M1164 529h0M1128 539h0M1222 458h0M1148 472h0M1098 542h0M1144 519h0M1114 504h0M1182 485h0M1140 501h0M1168 524h0M1187 513h0M1199 454h0M1136 528h0M1152 517h0M1168 508h0M1206 479h0M1197 471h0M1154 507h0M1112 543h0M1144 493h0M1184 469h0M1132 558h0M1146 559h0M1190 518h0M1135 544h0M1180 517h0M1202 509h0M1162 531h0M1197 469h0M1159 476h0M1178 524h0M1172 502h0M1151 470h0M1118 539h0M1195 497h0M1135 525h0M1146 546h0M1215 442h0M1210 455h0M1144 490h0M1131 507h0M1128 531h0M1173 487h0M1163 492h0M1143 500h0M1135 487h0M1151 486h0M1137 501h0M1182 490h0M1188 499h0M1146 506h0M1176 464h0M1133 528h0M1152 526h0M1158 502h0M1143 509h0M1118 535h0M1130 497h0M1143 493h0M1151 514h0M1151 496h0M1161 513h0M1140 551h0M1196 481h0M1211 460h0M1196 510h0M1145 494h0M1208 487h0M1171 531h0M1100 539h0M1156 544h0M1113 543h0M1118 500h0M1196 458h0M1166 499h0M1186 510h0M1113 555h0M1156 513h0M1217 458h0M1191 497h0M1195 459h0M1148 535h0M1212 476h0M1142 548h0M1126 513h0M1121 555h0M1213 473h0M1155 531h0M1134 536h0M1187 511h0M1194 515h0M1141 527h0M1195 509h0M1190 466h0M1180 460h0M1169 484h0M1166 534h0M1108 555h0M1145 518h0M1199 519h0M1124 494h0M1155 506h0M1124 504h0M1155 494h0M1197 453h0M1188 478h0M1108 515h0M1142 546h0M1131 515h0M1112 535h0M1215 467h0M1120 499h0M1201 496h0M1157 522h0M1128 556h0M1142 478h0M1152 528h0M1167 469h0M1197 486h0M1130 518h0M1161 497h0M1192 488h0M1172 509h0M1132 533h0M1217 446h0M1154 513h0M1172 505h0M1126 545h0M1210 446h0M1199 510h0M1168 479h0M1116 528h0M1209 495h0M1128 548h0M1208 492h0M1213 442h0M1176 490h0M1191 505h0M1154 548h0M1177 505h0M1115 519h0M1215 454h0M1206 504h0M1131 556h0M1201 487h0M1168 511h0M1108 537h0M1183 526h0M1188 458h0M1200 510h0M1122 530h0M1149 484h0M1163 524h0M1116 498h0M1214 486h0M1151 532h0M1130 513h0M1135 537h0M1180 472h0M1102 547h0M1167 513h0M1149 505h0M1108 516h0M1214 459h0M1158 539h0M1187 490h0M1119 521h0M1144 558h0M1176 468h0M1102 539h0M1168 504h0M1139 549h0M1154 544h0M1174 479h0M1177 472h0M1101 545h0M1176 489h0M1193 487h0M1211 459h0M1125 491h0M1109 547h0M1189 496h0M1104 542h0M1125 538h0M1125 543h0M1111 512h0M1209 489h0M1147 474h0M1124 514h0M1126 503h0M1153 493h0M1126 537h0M1201 475h0M1191 507h0M1177 518h0M1154 541h0M1176 512h0M1207 446h0M1206 467h0M1108 538h0M1141 482h0M1145 538h0M1171 520h0M1123 489h0M1161 516h0M1121 503h0M1153 525h0M1170 517h0M1130 517h0M1128 557h0M1157 475h0M1142 511h0M1146 503h0M1125 513h0M1185 464h0M1186 479h0M1166 502h0M1178 528h0M1149 554h0M1131 512h0M1167 528h0M1144 486h0M1130 520h0M1171 488h0M1201 459h0M1123 515h0M1203 502h0M1131 545h0M1143 553h0M1177 513h0M1131 501h0M1113 526h0M1164 525h0M1130 553h0M1191 521h0M1131 518h0M1109 506h0M1127 516h0M1151 529h0M1147 473h0M1169 540h0M1125 522h0M1196 522h0M1185 466h0M1192 515h0M1140 553h0M1150 520h0M1157 483h0M1174 493h0M1167 537h0M1211 467h0M1195 498h0M1191 471h0M1121 553h0M1107 559h0M1136 530h0M1130 506h0M1210 475h0M1179 489h0M1196 464h0M1122 548h0M1190 482h0M1146 545h0M1203 499h0M1139 499h0M1201 521h0M1137 526h0M1208 486h0M1105 555h0M1162 500h0M1127 536h0M1188 520h0M1213 460h0M1155 511h0M1203 475h0M1210 448h0M1125 509h0M1151 516h0M1180 535h0M1131 542h0M1152 471h0M1131 552h0M1154 545h0M1168 464h0M1171 528h0M1179 515h0M1169 474h0M1120 518h0M1152 521h0M1142 513h0M1155 509h0M1168 497h0M1139 476h0M1203 485h0M1209 486h0M1176 495h0M1158 503h0M1140 485h0M1104 540h0M1211 453h0M1214 471h0M1196 469h0M1206 455h0M1199 483h0M1172 532h0M1113 511h0M1185 481h0M1184 491h0M1123 538h0M1207 477h0M1106 528h0M1157 529h0M1125 559h0M1115 557h0M1166 504h0M1119 518h0M1148 547h0M1125 528h0M1143 537h0M1201 482h0M1128 519h0M1123 527h0M1188 497h0M1184 529h0M1145 515h0M1114 536h0M1146 483h0M1212 480h0M1196 498h0M1182 513h0M1129 491h0M1202 507h0M1205 459h0M1184 532h0M1169 486h0M1190 505h0M1152 502h0M1147 543h0M1204 481h0M1205 476h0M1208 462h0M1203 493h0M1130 536h0M1175 506h0M1131 502h0M1116 510h0M1206 484h0M1148 509h0M1199 463h0M1147 535h0M1156 519h0M1133 519h0M1140 498h0M1157 502h0M1142 494h0M1138 478h0M1110 508h0M1169 471h0M1137 495h0M1183 519h0M1150 516h0M1138 491h0M1171 480h0M1196 512h0M1129 488h0M1121 525h0M1114 523h0M1200 469h0M1102 546h0M1154 490h0M1212 459h0M1213 480h0M1209 482h0M1205 483h0M1116 550h0M1153 516h0M1127 547h0M1142 556h0M1214 447h0M1169 541h0M1141 544h0M1191 481h0M1187 522h0M1109 512h0M1200 455h0M1118 537h0M1186 481h0M1193 513h0M1138 484h0M1197 509h0M1180 510h0M1218 467h0M1103 520h0M1116 529h0M1165 508h0M1109 519h0M1122 505h0M1173 513h0M1128 515h0M1110 552h0M1155 481h0M1127 488h0M1163 497h0M1132 498h0M1163 520h0M1110 530h0M1164 500h0M1111 529h0M1162 466h0M1100 545h0M1179 460h0M1212 479h0M1117 495h0M1105 518h0M1100 536h0M1108 517h0M1202 471h0M1161 475h0M1183 491h0M1116 513h0M1136 538h0M1183 518h0M1120 510h0M1166 465h0M1200 512h0M1144 549h0M1136 501h0M1125 544h0M1210 470h0M1183 515h0M1176 469h0M1105 540h0M1170 509h0M1188 531h0M1131 483h0M1116 521h0M1186 505h0M1222 452h0M1172 500h0M1115 545h0M1137 559h0M1199 503h0M1150 531h0M1147 482h0M1149 541h0M1160 481h0M1146 553h0M1189 475h0M1137 535h0M1160 531h0M1158 524h0M1144 538h0M1115 501h0M1163 540h0M1178 534h0M1110 534h0M1103 555h0M1183 531h0M1222 450h0M1128 516h0M1106 534h0M1161 502h0M1189 520h0M1180 484h0M1206 507h0M1183 466h0M1160 509h0M1155 490h0M1195 508h0M1127 538h0M1142 547h0M1220 454h0M1124 529h0M1130 545h0M1142 534h0M1131 555h0M1171 465h0M1140 481h0M1120 552h0M1167 500h0M1130 496h0M1172 477h0M1106 514h0M1171 466h0M1164 467h0M1212 487h0M1153 475h0M1180 513h0M1204 501h0M1174 465h0M1193 497h0M1119 553h0M1128 525h0M1194 486h0M1103 552h0M1119 555h0M1139 483h0M1157 484h0M1145 483h0M1098 552h0M1222 455h0M1136 552h0M1144 478h0M1194 453h0M1156 524h0M1136 504h0M1205 507h0M1140 517h0M1111 506h0M1171 472h0M1205 482h0M1168 472h0M1173 491h0M1175 505h0M1135 540h0M1144 537h0M1131 529h0M1162 468h0M1137 478h0M1198 470h0M1102 529h0M1131 528h0M1193 486h0M1209 473h0M1203 469h0M1192 464h0M1119 540h0M1174 539h0M1129 552h0M1118 520h0M1129 557h0M1120 520h0M1156 469h0M1163 546h0M1223 460h0M1162 547h0M1140 507h0M1175 537h0M1197 511h0M1144 541h0M1192 514h0M1174 490h0M1181 488h0M1128 520h0M1131 493h0M1209 475h0M1126 505h0M1131 498h0M1118 513h0M1204 500h0M1152 552h0M1213 452h0M1119 508h0M1144 512h0M1198 503h0M1144 533h0M1177 506h0M1136 526h0M1148 501h0M1174 508h0M1169 538h0M1118 506h0M1143 530h0M1173 541h0M1209 453h0M1124 519h0M1142 505h0M1102 553h0M1105 542h0M1128 538h0M1163 543h0M1200 492h0M1137 504h0M1174 517h0M1181 528h0M1125 551h0M1111 518h0M1181 499h0M1115 528h0M1222 463h0M1156 523h0M1194 462h0M1150 501h0M1162 540h0M1169 529h0M1196 468h0M1114 542h0M1153 499h0M1218 453h0M1197 459h0M1118 559h0M1187 528h0M1139 493h0M1119 531h0M1145 524h0M1129 540h0M1199 491h0M1193 502h0M1153 500h0M1101 524h0M1115 547h0M1147 480h0M1181 475h0M1215 452h0M1114 539h0M1171 498h0M1180 469h0M1204 461h0M1215 481h0M1213 443h0M1167 487h0M1111 531h0M1169 503h0M1210 461h0M1190 479h0M1178 521h0M1199 460h0M1154 515h0M1150 551h0M1200 454h0M1131 489h0M1109 551h0M1199 522h0M1167 492h0M1182 527h0M1161 533h0M1182 501h0M1170 510h0M1182 480h0M1122 498h0M1130 532h0M1207 491h0M1114 551h0M1132 493h0M1205 451h0M1156 494h0M1110 517h0M1106 535h0M1157 549h0M1140 508h0M1142 499h0M1171 485h0M1107 532h0M1156 542h0M1125 505h0M1130 527h0M1158 510h0M1161 481h0M1187 470h0M1159 500h0M1122 543h0M1152 482h0M1172 512h0M1111 525h0M1206 493h0M1160 544h0M1157 537h0M1185 484h0M1206 490h0M1157 538h0M1111 544h0M1141 483h0M1139 498h0M1182 500h0M1192 478h0M1217 453h0M1123 520h0M1209 466h0M1200 504h0M1142 491h0M1152 540h0M1165 471h0M1206 457h0M1155 516h0M1161 529h0M1167 466h0M1160 475h0M1167 522h0M1152 555h0M1212 475h0M1212 492h0M1159 527h0M1136 487h0M1159 529h0M1216 455h0M1165 536h0M1165 503h0M1154 532h0M1157 539h0M1213 464h0M1214 463h0M1170 534h0M1149 523h0M1141 490h0M1192 519h0M1203 498h0M1211 484h0M1213 483h0M1125 554h0M1130 538h0M1131 505h0M1199 472h0M1188 529h0M1124 526h0M1195 519h0M1116 507h0M1137 545h0M1166 505h0M1198 483h0M1167 526h0M1212 484h0M1182 530h0M1202 456h0M1168 469h0M1186 458h0M1176 486h0M1111 509h0M1215 448h0M1152 474h0M1157 541h0M1143 497h0M1179 473h0M1197 494h0M1201 481h0M1206 481h0M1142 530h0M1158 467h0M1124 511h0M1222 457h0M1143 550h0M1171 493h0M1146 554h0M1152 498h0M1187 514h0M1201 491h0M1161 528h0M1191 498h0M1162 471h0M1124 497h0M1170 474h0M1197 480h0M1184 472h0M1116 560h0M1185 504h0M1173 494h0M1163 521h0M1129 531h0M1130 555h0M1123 546h0M1154 528h0M1198 471h0M1177 468h0M1122 537h0M1194 455h0M1192 492h0M1120 494h0M1143 517h0M1149 471h0M1147 503h0M1161 483h0M1154 537h0M1202 512h0M1179 470h0M1165 492h0M1208 490h0M1147 494h0M1179 537h0M1188 493h0M1134 489h0M1152 486h0M1194 466h0M1215 453h0M1106 520h0M1172 470h0M1151 517h0M1170 506h0M1156 503h0M1132 552h0M1158 491h0M1171 495h0M1149 519h0M1165 540h0M1134 540h0M1137 487h0M1169 492h0M1120 558h0M1112 524h0M1137 548h0M1159 530h0M1224 459h0M1162 498h0M1123 518h0M1153 523h0M1177 490h0M1126 552h0M1159 542h0M1160 512h0M1211 493h0M1125 504h0M1190 475h0M1146 520h0M1147 475h0M1154 509h0M1143 549h0M1145 500h0M1194 476h0M1208 471h0M1104 555h0M1179 481h0M1175 499h0M1202 465h0M1161 525h0M1191 479h0M1205 478h0M1178 500h0M1166 486h0M1155 491h0M1098 544h0M1141 541h0M1103 542h0M1176 463h0M1101 533h0M1157 492h0M1155 505h0M1148 477h0M1146 494h0M1175 495h0M1207 480h0M1117 539h0M1163 495h0M1175 481h0M1137 527h0M1220 451h0M1128 514h0M1152 551h0M1146 557h0M1180 512h0M1219 447h0M1118 525h0M1184 499h0M1129 486h0M1206 480h0M1176 521h0M1182 486h0M1137 554h0M1202 484h0M1180 488h0M1143 551h0M1142 538h0M1123 532h0M1162 475h0M1181 483h0M1112 525h0M1200 483h0M1187 488h0M1220 456h0M1132 536h0M1114 538h0M1176 518h0M1171 502h0M1212 453h0M1107 534h0M1144 497h0M1102 536h0M1165 512h0M1189 499h0M1117 523h0M1208 449h0M1110 545h0M1158 509h0M1121 530h0M1167 467h0M1135 481h0M1175 466h0M1203 484h0M1164 545h0M1189 487h0M1180 497h0M1141 554h0M1202 500h0M1206 450h0M1168 520h0M1114 520h0M1106 530h0M1108 544h0M1156 537h0M1163 513h0M1187 509h0M1175 463h0M1153 482h0M1172 495h0M1127 529h0M1209 498h0M1153 544h0M1109 508h0M1124 540h0M1214 465h0M1223 454h0M1136 494h0M1129 490h0M1154 489h0M1182 482h0M1146 502h0M1207 483h0M1216 443h0M1098 536h0M1127 497h0M1124 550h0M1112 536h0M1180 493h0M1153 491h0M1195 460h0M1127 557h0M1180 475h0M1099 521h0M1180 516h0M1195 513h0M1131 569h0M1144 540h0M1194 522h0M1116 517h0M1218 476h0M1111 527h0M1173 476h0M1154 511h0M1157 523h0M1203 519h0M1205 492h0M1170 501h0M1144 507h0M1147 510h0M1173 546h0M1205 502h0M1181 481h0M1190 477h0M1208 488h0M1125 553h0M1121 507h0M1126 498h0M1129 516h0M1154 514h0M1203 495h0M1118 541h0M1171 464h0M1116 516h0M1184 507h0M1181 467h0M1164 477h0M1187 510h0M1205 488h0M1125 531h0M1157 515h0M1091 545h0M1109 538h0M1157 476h0M1106 543h0M1171 486h0M1179 480h0M1109 493h0M1118 511h0M1219 460h0M1177 495h0M1106 564h0M1106 515h0M1107 501h0M1141 499h0M1146 541h0M1132 521h0M1113 535h0M1171 507h0M1123 525h0M1202 472h0M1103 507h0M1120 542h0M1119 517h0M1140 533h0M1141 479h0M1124 491h0M1167 497h0M1222 459h0M1163 482h0M1214 438h0M1224 462h0M1120 512h0M1172 473h0M1151 491h0M1204 457h0M1106 542h0M1138 548h0M1160 485h0M1201 523h0M1181 476h0M1118 554h0M1120 535h0M1200 458h0M1176 501h0M1192 474h0M1161 532h0M1125 526h0M1188 536h0M1160 490h0M1130 549h0M1100 528h0M1204 503h0M1186 508h0M1140 526h0M1214 500h0M1167 482h0M1205 470h0M1097 527h0M1145 505h0M1143 490h0M1148 530h0M1131 509h0M1158 476h0M1152 546h0M1180 480h0M1161 548h0M1151 528h0M1126 517h0M1106 552h0M1214 497h0M1153 512h0M1118 527h0M1198 458h0M1188 492h0M1166 495h0M1136 553h0M1139 478h0M1215 443h0M1150 467h0M1139 515h0M1142 554h0M1149 553h0M1140 500h0M1170 515h0M1161 544h0M1189 491h0M1178 484h0M1150 479h0M1201 515h0M1156 480h0M1167 545h0M1173 482h0M1143 523h0M1159 504h0M1126 542h0M1139 507h0M1114 534h0M1120 563h0M1190 513h0M1137 485h0M1192 517h0M1092 546h0M1206 442h0M1211 463h0M1171 467h0M1202 469h0M1196 474h0M1194 481h0M1153 473h0M1196 499h0M1133 503h0M1148 499h0M1151 509h0M1151 493h0M1152 495h0M1212 471h0M1146 517h0M1198 511h0M1125 502h0M1158 519h0M1133 516h0M1112 522h0M1139 480h0M1137 570h0M1131 522h0M1110 516h0M1198 516h0M1160 520h0M1148 541h0M1122 508h0M1178 475h0M1141 472h0M1106 567h0M1163 536h0M1182 481h0M1138 537h0M1178 527h0M1193 476h0M1109 540h0M1168 488h0M1198 505h0M1144 511h0M1218 455h0M1187 504h0M1153 487h0M1206 452h0M1195 494h0M1128 476h0M1118 530h0M1132 487h0M1176 505h0M1146 524h0M1194 484h0M1172 481h0M1148 460h0M1257 455h0M1238 410h0M1211 408h0M1128 493h0M1127 509h0M1147 477h0M1192 423h0M1223 440h0M1136 514h0M1239 441h0M1199 456h0M1227 412h0M1161 505h0M1149 482h0M1224 408h0M1182 455h0M1123 508h0M1234 465h0M1148 510h0M1206 464h0M1156 492h0M1211 470h0M1172 443h0M1195 450h0M1202 436h0M1153 472h0M1249 438h0M1129 524h0M1122 539h0M1175 483h0M1147 501h0M1119 519h0M1120 536h0M1107 490h0M1210 449h0M1158 495h0M1160 484h0M1246 456h0M1252 437h0M1173 456h0M1146 501h0M1228 386h0M1160 466h0M1223 471h0M1128 502h0M1213 428h0M1193 454h0M1174 491h0M1152 520h0M1126 484h0M1161 470h0M1191 451h0M1102 508h0M1193 466h0M1175 475h0M1183 508h0M1109 522h0M1148 461h0M1171 476h0M1227 509h0M1238 435h0M1188 514h0M1223 472h0M1182 448h0M1144 483h0M1228 449h0M1238 451h0M1139 542h0M1100 477h0M1197 472h0M1244 442h0M1149 512h0M1168 462h0M1247 446h0M1216 472h0M1217 435h0M1234 458h0M1169 476h0M1241 420h0M1188 518h0M1245 422h0M1137 518h0M1220 442h0M1155 537h0M1183 486h0M1124 474h0M1156 506h0M1213 438h0M1194 496h0M1226 451h0M1189 497h0M1198 445h0M1245 421h0M1171 454h0M1166 498h0M1123 519h0M1179 483h0M1232 420h0M1194 435h0M1181 448h0M1229 416h0M1173 489h0M1146 498h0M1146 453h0M1191 478h0M1117 496h0M1211 458h0M1151 461h0M1219 482h0M1179 479h0M1226 472h0M1203 442h0M1175 503h0M1148 492h0M1157 486h0M1205 437h0M1209 420h0M1149 501h0M1256 460h0M1238 447h0M1137 498h0M1127 545h0M1117 500h0M1170 508h0M1133 480h0M1173 505h0M1232 423h0M1158 528h0M1187 468h0M1197 476h0M1183 459h0M1161 463h0M1242 456h0M1175 478h0M1138 511h0M1189 452h0M1206 433h0M1109 498h0M1167 481h0M1174 499h0M1194 488h0M1210 486h0M1190 480h0M1151 480h0M1204 468h0M1192 502h0M1153 490h0M1256 437h0M1247 419h0M1116 494h0M1234 437h0M1162 493h0M1231 453h0M1112 488h0M1160 452h0M1122 467h0M1163 488h0M1204 454h0M1119 494h0M1200 486h0M1186 452h0M1154 483h0M1180 429h0M1174 471h0M1241 417h0M1111 499h0M1188 462h0M1225 422h0M1167 483h0M1215 458h0M1122 507h0M1235 431h0M1239 455h0M1183 473h0M1130 530h0M1114 517h0M1164 492h0M1249 464h0M1194 452h0M1207 454h0M1215 457h0M1266 459h0M1120 525h0M1110 494h0M1206 474h0M1315 327h0M1238 348h0M1238 420h0M1273 393h0M1303 402h0M1252 377h0M1244 392h0M1295 372h0M1325 336h0M1314 358h0M1302 418h0M1276 343h0M1361 328h0M1266 387h0M1303 356h0M1345 372h0M1235 459h0M1346 396h0M1297 368h0M1333 377h0M1289 423h0M1267 393h0M1315 417h0M1327 367h0M1246 438h0M1341 372h0M1274 365h0M1291 384h0M1273 350h0M1273 369h0M1344 393h0M1267 409h0M1297 334h0M1298 356h0M1290 342h0M1287 335h0M1322 354h0M1301 384h0M1310 393h0M1276 338h0M1281 418h0M1294 356h0M1293 374h0M1281 387h0M1301 374h0M1293 400h0M1293 356h0M1266 379h0M1272 372h0M1248 409h0M1290 388h0M1304 392h0M1255 346h0M1271 363h0M1320 351h0M1275 435h0M1322 383h0M1309 418h0M1300 378h0M1324 309h0M1273 388h0M1274 362h0M1268 392h0M1300 356h0M1251 375h0M1284 364h0M1309 358h0M1300 372h0M1310 371h0M1269 400h0M1285 390h0M1316 344h0M1261 421h0M1317 305h0M1313 340h0M1358 314h0M1346 363h0M1316 370h0M1274 410h0M1299 327h0M1285 399h0M1276 378h0M1242 386h0M1349 321h0M1268 398h0M1328 320h0M1271 370h0M1218 426h0M1291 392h0M1284 387h0M1290 370h0M1315 403h0M1268 412h0M1261 374h0M1389 306h0M1328 339h0M1307 339h0M1304 298h0M1337 366h0M1310 374h0M1280 349h0M1289 366h0M1328 286h0M1262 371h0M1278 376h0M1238 471h0M1319 363h0M1301 409h0M1249 340h0M1274 418h0M1301 365h0M1309 378h0M1243 409h0M1282 430h0M1330 384h0M1276 405h0M1302 394h0M1259 397h0M1277 377h0M1230 379h0M1269 389h0M1233 414h0M1270 385h0M1350 359h0M1277 363h0M1332 369h0M1213 412h0M1236 379h0M1265 336h0M1327 351h0M1250 386h0M1337 349h0M1287 366h0M1325 358h0M1267 362h0M1310 347h0M1319 301h0M1308 399h0M1270 427h0M1271 353h0M1236 377h0M1215 417h0M1301 358h0M1293 314h0M1285 314h0M1271 355h0M1291 376h0M1230 407h0M1317 356h0M1287 336h0M1268 366h0M1296 376h0M1275 374h0M1234 373h0M1368 323h0M1275 372h0M1379 344h0M1281 323h0M1293 410h0M1301 371h0M1256 373h0M1295 345h0M1281 374h0M1232 441h0M1342 384h0M1250 374h0M1276 402h0M1306 358h0M1299 428h0M1275 385h0M1268 327h0M1310 339h0M1274 385h0M1306 374h0M1311 384h0M1317 367h0M1251 394h0M1272 428h0M1266 362h0M1329 368h0M1299 315h0M1292 341h0M1310 334h0M1246 367h0M1326 388h0M1294 319h0M1311 362h0M1312 378h0M1323 442h0M1270 338h0M1316 345h0M1292 380h0M1230 358h0M1248 366h0M1291 369h0M1271 411h0M1327 343h0M1316 342h0M1308 351h0M1207 409h0M1295 415h0M1330 301h0M1370 367h0M1300 328h0M1332 342h0M1300 416h0M1289 348h0M1324 343h0M1255 318h0M1314 321h0M1293 392h0M1285 321h0M1233 394h0M1211 392h0M1263 345h0M1283 409h0M1301 367h0M1325 388h0M1286 392h0M1327 346h0M1319 383h0M1267 371h0M1258 387h0M1276 404h0M1291 359h0M1308 340h0M1261 292h0M1290 344h0M1281 320h0M1339 394h0M1294 404h0M1339 315h0M1264 371h0M1285 325h0M1307 354h0M1289 369h0M1348 389h0M1338 380h0M1270 436h0M1253 371h0M1293 367h0M1286 366h0M1294 366h0M1331 335h0M1219 418h0M1290 364h0M1328 369h0M1286 360h0M1282 375h0M1296 390h0M1357 327h0M1283 391h0M1281 331h0M1306 331h0M1289 387h0M1339 313h0M1287 417h0M1305 349h0M1240 366h0M1334 335h0M1333 348h0M1280 418h0M1304 385h0M1305 354h0M1292 417h0M1319 338h0M1300 339h0M1262 400h0M1282 350h0M1296 403h0M1351 335h0M1278 408h0M1260 341h0M1400 337h0M1312 383h0M1276 391h0M1288 385h0M1258 408h0M1275 388h0M1317 384h0M1275 386h0M1250 409h0M1322 398h0M1288 378h0M1305 382h0M1280 371h0M1294 402h0M1219 399h0M1283 373h0M1240 364h0M1363 370h0M1282 335h0M1305 352h0M1331 387h0M1279 385h0M1276 384h0M1327 402h0M1268 363h0M1265 411h0M1264 358h0M1257 368h0M1237 398h0M1295 340h0M1240 405h0M1273 379h0M1306 395h0M1270 394h0M1279 430h0M1313 393h0M1270 356h0M1278 414h0M1296 353h0M1279 382h0M1287 355h0M1365 315h0M1299 375h0M1239 377h0M1308 349h0M1380 302h0M1287 356h0M1258 369h0M1300 368h0M1301 363h0M1317 362h0M1243 442h0M1283 376h0M1323 381h0M1234 422h0M1260 353h0M1303 395h0M1338 321h0M1327 410h0M1312 380h0M1285 378h0M1222 362h0M1272 434h0M1310 386h0M1357 336h0M1355 378h0M1270 368h0M1293 382h0M1238 423h0M1262 380h0M1324 375h0M1320 336h0M1271 348h0M1276 366h0M1318 353h0M1300 375h0M1345 338h0M1294 380h0M1307 364h0M1251 404h0M1290 355h0M1339 364h0M1354 336h0M1340 359h0M1288 343h0M1288 310h0M1301 353h0M1240 406h0M1285 354h0M1295 385h0M1205 401h0M1327 334h0M1236 439h0M1281 393h0M1307 411h0M1347 406h0M1265 350h0M1317 401h0M1298 403h0M1238 385h0M1271 330h0M1327 375h0M1244 315h0M1270 418h0M1327 432h0M1296 413h0M1237 328h0M1308 379h0M1274 350h0M1206 430h0M1301 370h0M1239 411h0M1260 366h0M1290 314h0M1264 374h0M1258 390h0M1226 425h0M1349 316h0M1346 345h0M1333 341h0M1188 378h0M1358 342h0M1298 420h0M1384 429h0M1247 428h0M1374 399h0M1372 382h0M1355 320h0M1312 338h0M1264 427h0M1269 377h0M1325 342h0M1342 351h0M1332 380h0M1271 361h0M1324 306h0M1289 401h0M1174 390h0M1232 407h0M1265 443h0M1301 317h0M1293 341h0M1322 337h0M1262 363h0M1263 402h0M1350 395h0M1248 360h0M1394 379h0M1258 330h0M1377 338h0M1324 334h0M1296 346h0M1231 329h0M1388 407h0M1188 476h0M1335 327h0M1369 347h0M1311 375h0M1355 370h0M1344 267h0M1381 341h0M1366 325h0M1368 302h0M1348 422h0M1341 412h0M1221 435h0M1243 411h0M1274 372h0M1290 363h0M1362 379h0M1325 389h0M1236 430h0M1283 454h0M1363 374h0M1377 370h0M1258 428h0M1247 387h0M1317 336h0M1339 367h0M1258 298h0M1334 327h0M1190 438h0M1271 429h0M1246 294h0M1276 442h0M1235 385h0M1261 423h0M1272 467h0M1214 391h0M1317 351h0M1267 343h0M1241 401h0M1234 409h0M1251 323h0M1322 304h0M1214 399h0M1279 405h0M1364 458h0M1344 391h0M1218 444h0M1161 393h0M1446 235h0M1408 312h0M1378 314h0M1504 316h0M1455 323h0M1463 340h0M1405 379h0M1397 372h0M1392 364h0M1371 398h0M1401 417h0M1461 412h0M1470 430h0M1393 432h0M1354 425h0M1596 438h0M1276 502h0" stroke="#1f77b4" stroke-width="5.8" stroke-linecap="round" fill="none"/>
<path d="M1179 482h0M1148 491h0M1178 488h0M1199 463h0M1163 473h0M1167 468h0M1142 487h0M1142 488h0M1164 500h0M1168 506h0M1167 478h0M1157 503h0M1187 481h0M1151 498h0M1196 469h0M1190 479h0M1175 481h0M1157 487h0M1200 475h0M1177 477h0M1183 483h0M1159 501h0M1193 471h0M1191 504h0M1197 467h0M1179 479h0M1159 491h0M1176 485h0M1161 498h0M1178 491h0M1157 490h0M1203 480h0M1150 497h0M1199 468h0M1198 475h0M1161 483h0M1170 482h0M1186 466h0M1182 477h0M1172 488h0M1152 494h0M1160 506h0M1172 477h0M1181 475h0M1204 476h0M1177 502h0M1150 516h0M1173 475h0M1170 486h0M1191 479h0M1175 462h0M1153 488h0M1169 487h0M1200 476h0M1175 480h0M1154 497h0M1184 485h0M1169 503h0M1175 486h0M1187 485h0M1172 474h0M1191 486h0M1171 475h0M1181 453h0M1181 496h0M1154 479h0M1168 490h0M1178 476h0M1193 477h0M1205 469h0M1180 491h0M1180 489h0M1190 474h0M1186 486h0M1180 496h0M1147 491h0M1199 481h0M1150 493h0M1172 482h0M1159 500h0M1160 477h0M1193 485h0M1169 480h0M1201 476h0M1199 491h0M1159 506h0M1189 476h0M1177 469h0M1183 477h0M1191 469h0M1164 476h0M1173 492h0M1185 470h0M1182 483h0M1168 482h0M1184 499h0M1166 489h0M1191 475h0M1159 476h0M1185 473h0M1198 495h0M1179 478h0M1174 486h0M1187 461h0M1160 491h0M1152 488h0M1169 494h0M1198 473h0M1163 514h0M1172 478h0M1178 478h0M1168 481h0M1192 471h0M1200 466h0M1163 490h0M1178 489h0M1183 478h0M1159 493h0M1156 469h0M1155 509h0M1169 478h0M1184 472h0M1166 496h0M1188 471h0M1185 492h0M1201 480h0M1147 484h0M1181 476h0M1158 497h0M1202 480h0M1196 476h0M1150 490h0M1179 490h0M1158 484h0M1169 485h0M1199 464h0M1149 497h0M1155 482h0M1196 471h0M1149 496h0M1185 480h0M1208 493h0M1184 480h0M1207 476h0M1184 488h0M1147 497h0M1174 491h0M1176 462h0M1160 474h0M1159 496h0M1195 469h0M1176 476h0M1197 466h0M1179 475h0M1169 497h0M1163 475h0M1148 485h0M1204 472h0M1176 507h0M1167 480h0M1149 502h0M1247 449h0M1260 427h0M1210 463h0M1222 444h0M1219 446h0M1214 460h0M1209 477h0M1242 453h0M1283 417h0M1259 430h0M1220 463h0M1256 419h0M1256 423h0M1218 467h0M1200 471h0M1200 463h0M1250 442h0M1292 414h0M1268 416h0M1267 448h0M1256 426h0M1218 460h0M1253 433h0M1213 436h0M1192 474h0M1225 446h0M1213 457h0M1274 422h0M1275 422h0M1279 419h0M1216 446h0M1271 454h0M1206 471h0M1236 459h0M1252 446h0M1244 446h0M1238 434h0M1302 427h0M1271 406h0M1281 429h0M1205 481h0M1199 458h0M1257 411h0M1269 426h0M1297 414h0M1252 423h0M1223 461h0M1255 430h0M1293 423h0M1205 454h0M1223 456h0M1254 415h0M1243 448h0M1194 466h0M1239 448h0M1274 396h0M1271 425h0M1271 440h0M1248 424h0M1211 452h0M1287 415h0M1208 456h0M1273 444h0M1217 458h0M1237 441h0M1217 469h0M1305 433h0M1231 456h0M1216 473h0M1240 434h0M1283 426h0M1205 462h0M1207 478h0M1214 465h0M1229 461h0M1299 417h0M1263 434h0M1223 430h0M1281 411h0M1191 451h0M1222 465h0M1239 426h0M1237 438h0M1273 446h0M1245 461h0M1271 438h0M1271 412h0M1286 423h0M1269 422h0M1285 408h0M1207 438h0M1272 434h0M1232 428h0M1294 419h0M1194 454h0M1209 472h0M1227 419h0M1237 442h0M1269 436h0M1291 429h0M1227 449h0M1267 406h0M1200 484h0M1277 426h0M1205 452h0M1220 444h0M1296 419h0M1271 453h0M1287 434h0M1253 434h0M1216 471h0M1247 457h0M1207 463h0M1282 436h0M1265 442h0M1255 433h0M1215 459h0M1255 462h0M1273 404h0M1228 459h0M1275 400h0M1218 437h0M1273 437h0M1226 455h0M1265 438h0M1257 444h0M1267 441h0M1191 452h0M1257 420h0M1259 435h0M1224 453h0M1215 433h0M1269 443h0M1213 458h0M1254 459h0M1253 435h0M1214 441h0M1228 462h0M1261 426h0M1222 441h0M1213 443h0M1237 444h0M1260 436h0M1276 425h0M1235 453h0M1250 435h0M1278 418h0M1246 458h0M1246 465h0M1236 434h0M1249 443h0M1259 441h0M1199 482h0M1228 431h0M1290 417h0M1205 472h0M1238 465h0M1214 462h0M1285 420h0M1269 421h0M1244 440h0M1248 437h0M1237 433h0M1218 447h0M1243 445h0M1257 435h0M1241 438h0M1219 445h0M1226 439h0M1290 418h0M1211 479h0M1274 439h0M1273 435h0M1203 438h0M1255 442h0M1284 429h0M1199 471h0M1241 419h0M1206 474h0M1287 422h0M1217 455h0M1277 436h0M1262 430h0M1211 469h0M1200 465h0M1294 406h0M1302 424h0M1263 423h0M1279 427h0M1202 453h0M1222 458h0M1207 457h0M1219 447h0M1237 435h0M1202 444h0M1289 412h0M1221 457h0M1236 460h0M1264 468h0M1263 458h0M1267 429h0M1272 397h0M1224 446h0M1267 435h0M1222 461h0M1290 414h0M1282 430h0M1224 479h0M1261 437h0M1248 451h0M1200 485h0M1245 436h0M1238 437h0M1262 439h0M1215 470h0M1203 481h0M1234 447h0M1201 484h0M1241 455h0M1232 436h0M1221 456h0M1245 454h0M1234 457h0M1262 444h0M1253 458h0M1214 492h0M1240 445h0M1227 453h0M1273 433h0M1239 476h0M1284 399h0M1273 431h0M1244 439h0M1207 480h0M1233 448h0M1186 444h0M1202 462h0M1225 444h0M1217 453h0M1214 451h0M1257 442h0M1289 411h0M1282 437h0M1186 463h0M1227 452h0M1250 425h0M1236 440h0M1262 427h0M1236 446h0M1228 472h0M1205 465h0M1275 419h0M1223 434h0M1278 421h0M1231 438h0M1297 432h0M1272 416h0M1198 443h0M1237 443h0M1243 461h0M1199 467h0M1246 447h0M1247 428h0M1274 412h0M1285 413h0M1213 449h0M1201 459h0M1220 468h0M1286 427h0M1298 420h0M1291 428h0M1213 455h0M1275 442h0M1210 490h0M1217 470h0M1221 480h0M1225 462h0M1219 471h0M1197 457h0M1205 455h0M1290 425h0M1215 437h0M1203 444h0M1275 440h0M1285 422h0M1219 454h0M1235 461h0M1245 450h0M1247 446h0M1249 442h0M1228 439h0M1268 429h0M1256 438h0M1268 430h0M1269 434h0M1257 448h0M1253 425h0M1243 422h0M1277 443h0M1247 433h0M1243 426h0M1226 438h0M1239 450h0M1219 477h0M1235 446h0M1255 451h0M1252 453h0M1277 440h0M1218 453h0M1248 447h0M1280 423h0M1262 393h0M1291 411h0M1277 414h0M1209 446h0M1284 416h0M1270 433h0M1274 425h0M1274 427h0M1197 472h0M1241 441h0M1228 453h0M1230 458h0M1225 459h0M1293 432h0M1247 427h0M1297 409h0M1290 429h0M1297 421h0M1252 427h0M1199 469h0M1270 440h0M1296 432h0M1241 426h0M1198 468h0M1269 415h0M1260 449h0M1235 429h0M1282 406h0M1204 473h0M1200 472h0M1242 436h0M1293 429h0M1246 432h0M1228 475h0M1286 409h0M1258 430h0M1262 443h0M1205 458h0M1238 451h0M1233 425h0M1252 452h0M1235 464h0M1291 404h0M1243 435h0M1206 453h0M1249 433h0M1261 452h0M1192 476h0M1192 454h0M1221 446h0M1196 459h0M1278 428h0M1206 466h0M1225 473h0M1243 456h0M1290 420h0M1210 469h0M1220 456h0M1257 423h0M1249 448h0M1238 439h0M1289 418h0M1275 421h0M1193 462h0M1217 473h0M1261 429h0M1244 437h0M1224 444h0M1234 459h0M1196 467h0M1328 418h0M1222 439h0M1219 449h0M1301 402h0M1181 467h0M1246 455h0M1261 434h0M1268 436h0M1240 447h0M1252 457h0M1272 424h0M1277 421h0M1171 496h0M1194 460h0M1276 447h0M1241 403h0M1215 461h0M1237 439h0M1207 445h0M1289 439h0M1224 448h0M1241 410h0M1234 443h0M1181 473h0M1207 452h0M1201 502h0M1280 418h0M1244 406h0M1226 457h0M1250 433h0M1212 435h0M1172 503h0M1267 421h0M1180 464h0M1266 414h0M1245 457h0M1230 484h0M1235 444h0M1215 467h0M1254 432h0M1233 428h0M1228 430h0M1210 450h0M1196 481h0M1237 448h0M1225 431h0M1257 430h0" stroke="#9467bd" stroke-width="5.8" stroke-linecap="round" fill="none"/>
<path d="M1039.6 625.2L1596 208.4" stroke="#000" stroke-width="3.6" stroke-dasharray="14 6.5" fill="none"/>
<rect x="1029.7" y="118.5" width="407.2" height="172.9" rx="6" ry="6" fill="#fff" fill-opacity="0.8" stroke="#d0d0d0" stroke-width="1.5"/>
<circle cx="1080.9" cy="151.9" r="6.6" fill="#bcbd22"/>
<text x="1147" y="161.8" font-size="36" text-anchor="start" fill="#262626">C1</text>
<circle cx="1080.9" cy="206.7" r="6.6" fill="#2ca02c"/>
<text x="1147" y="216.6" font-size="36" text-anchor="start" fill="#262626">C2</text>
<circle cx="1080.9" cy="259" r="6.6" fill="#17becf"/>
<text x="1147" y="268.9" font-size="36" text-anchor="start" fill="#262626">C3</text>
<circle cx="1306.6" cy="151.9" r="6.6" fill="#1f77b4"/>
<text x="1371" y="161.8" font-size="36" text-anchor="start" fill="#262626">C4</text>
<circle cx="1306.6" cy="206.7" r="6.6" fill="#9467bd"/>
<text x="1371" y="216.6" font-size="36" text-anchor="start" fill="#262626">C5</text>
<path d="M1039.6 712.3v-8.7M1039.6 101.2v8.7M1150.9 712.3v-8.7M1150.9 101.2v8.7M1262.2 712.3v-8.7M1262.2 101.2v8.7M1373.4 712.3v-8.7M1373.4 101.2v8.7M1484.7 712.3v-8.7M1484.7 101.2v8.7M1596 712.3v-8.7M1596 101.2v8.7M1013 687.8h8.7M1624.6 687.8h-8.7M1013 572.7h8.7M1624.6 572.7h-8.7M1013 457.6h8.7M1624.6 457.6h-8.7M1013 342.6h8.7M1624.6 342.6h-8.7M1013 227.5h8.7M1624.6 227.5h-8.7M1013 112.4h8.7M1624.6 112.4h-8.7" stroke="#111" stroke-width="1.8" fill="none"/>
<rect x="1013" y="101.2" width="611.6" height="611.1" fill="none" stroke="#111" stroke-width="1.8"/>
<g font-size="29.2" fill="#262626"><text x="1039.6" y="743.2" text-anchor="middle">0.0</text><text x="1150.9" y="743.2" text-anchor="middle">0.2</text><text x="1262.2" y="743.2" text-anchor="middle">0.4</text><text x="1373.4" y="743.2" text-anchor="middle">0.6</text><text x="1484.7" y="743.2" text-anchor="middle">0.8</text><text x="1596.0" y="743.2" text-anchor="middle">1.0</text><text x="1002.3" y="699.3" text-anchor="end">0.0</text><text x="1002.3" y="584.2" text-anchor="end">0.5</text><text x="1002.3" y="469.1" text-anchor="end">1.0</text><text x="1002.3" y="354.1" text-anchor="end">1.5</text><text x="1002.3" y="239.0" text-anchor="end">2.0</text><text x="1002.3" y="123.9" text-anchor="end">2.5</text></g>
<g fill="#262626"><text x="1148.5" y="793.8" font-size="40.4">Q</text><text x="1181.8" y="793.8" font-size="40.4">S</text><text x="1207.9" y="799.6" font-size="28.5">2</text><text x="1242.3" y="793.8" font-size="41.8">Uncertainty</text></g>
<text transform="translate(936.8 697.8) rotate(-90)" font-size="41.8" fill="#262626">Absolute Error in kcal/mol/<tspan font-style="italic">Å</tspan></text>
<g font-size="34.6" fill="#262626"><text x="1291.0" y="682.4" font-style="italic">r</text><text x="1312.1" y="682.4">=</text><text x="1349.0" y="682.4">0</text><text x="1373.6" y="682.4">.</text><text x="1383.8" y="682.4">7</text><text x="1405.6" y="682.4">9</text><text x="1428.8" y="682.4">,</text><text x="1447.7" y="682.4" font-style="italic">p</text><text x="1479.9" y="682.4">=</text><text x="1516.0" y="682.4">0</text><text x="1538.9" y="682.4">.</text><text x="1550.7" y="682.4">0</text></g>
<path d="M1040.3 55.7h8.7v39.1h-8.7zM1051.6 6.6h8.7v88.2h-8.7zM1062.9 51.8h8.7v43h-8.7zM1074.2 70.4h8.7v24.4h-8.7zM1085.5 83.5h8.7v11.3h-8.7zM1096.8 89h8.7v5.8h-8.7zM1108.1 91.3h8.7v3.5h-8.7zM1119.4 93h8.7v1.8h-8.7z" fill="#1f77b4"/>
<path d="M1629.6 629.5h14v8h-14zM1629.6 618.7h51.5v8h-51.5zM1629.6 607.6h87.5v8h-87.5zM1629.6 597.4h82v8h-82zM1629.6 586.2h61.1v8h-61.1zM1629.6 575.4h44.5v8h-44.5zM1629.6 563.6h29.3v8h-29.3zM1629.6 552.5h18.2v8h-18.2zM1629.6 541.5h10.2v8h-10.2zM1629.6 530.3h6.8v8h-6.8zM1629.6 519.1h3.2v8h-3.2zM1629.6 508h2.9v8h-2.9zM1629.6 497h1.6v8h-1.6zM1629.6 486h1.6v8h-1.6zM1629.6 475.6h3.2v8h-3.2zM1629.6 464.5h1.6v8h-1.6zM1629.6 453h1.4v8h-1.4z" fill="#1f77b4"/>
<path d="M153.3 944V1556.4M264.9 944V1556.4M376.5 944V1556.4M488.1 944V1556.4M599.7 944V1556.4M711.3 944V1556.4M127.1 1528.5H739.5M127.1 1416.9H739.5M127.1 1305.3H739.5M127.1 1193.7H739.5M127.1 1082.1H739.5M127.1 970.5H739.5" stroke="#d5d5d5" stroke-width="1.5" fill="none"/>
<path d="M199 1497h0M186 1486h0M214 1476h0M201 1499h0M199 1477h0M210 1474h0M208 1470h0M222 1463h0M206 1486h0M182 1482h0M226 1452h0M223 1486h0M213 1486h0M224 1463h0M184 1487h0M193 1485h0M231 1502h0M192 1492h0M224 1440h0M204 1462h0M237 1471h0M194 1483h0M232 1495h0M185 1499h0M211 1488h0M198 1507h0M165 1508h0M232 1437h0M186 1522h0M168 1516h0M230 1500h0M222 1478h0M214 1474h0M211 1509h0M185 1513h0M180 1489h0M230 1438h0M191 1480h0M216 1496h0M220 1483h0M204 1483h0M194 1501h0M183 1516h0M235 1453h0M230 1446h0M226 1461h0M237 1455h0M179 1520h0M214 1514h0M190 1489h0M166 1523h0M206 1484h0M240 1441h0M218 1478h0M231 1508h0M215 1456h0M239 1471h0M211 1471h0M237 1502h0M193 1521h0M217 1476h0M236 1461h0M225 1490h0M176 1526h0M206 1497h0M195 1524h0M198 1476h0M189 1500h0M230 1461h0M196 1496h0M218 1462h0M216 1508h0M178 1523h0M194 1474h0M209 1457h0M211 1451h0M219 1497h0M236 1478h0M235 1450h0M197 1511h0M241 1442h0M223 1473h0M185 1518h0M226 1472h0M205 1508h0M219 1451h0M219 1447h0M231 1488h0M201 1518h0M225 1461h0M213 1517h0M227 1447h0M206 1479h0M214 1500h0M182 1506h0M206 1504h0M233 1498h0M189 1514h0M221 1465h0M191 1522h0M208 1457h0M219 1498h0M200 1493h0M230 1498h0M181 1513h0M232 1503h0M189 1476h0M220 1511h0M202 1514h0M229 1437h0M162 1523h0M163 1523h0M213 1472h0M222 1498h0M196 1502h0M209 1462h0M220 1504h0M233 1499h0M180 1492h0M196 1478h0M208 1516h0M218 1481h0M234 1464h0M175 1507h0M202 1488h0M225 1503h0M200 1469h0M218 1453h0M217 1499h0M234 1504h0M223 1481h0M219 1515h0M222 1471h0M231 1477h0M230 1456h0M199 1508h0M225 1439h0M215 1468h0M190 1476h0M201 1510h0M211 1458h0M163 1513h0M183 1501h0M232 1485h0M228 1512h0M234 1495h0M239 1449h0M225 1508h0M237 1478h0M186 1494h0M234 1475h0M225 1473h0M235 1452h0M211 1489h0M182 1507h0M207 1476h0M187 1515h0M225 1463h0M200 1491h0M203 1516h0M181 1490h0M215 1446h0M220 1496h0M229 1497h0M237 1470h0M177 1506h0M186 1516h0M204 1478h0M221 1495h0M160 1520h0M175 1492h0M210 1511h0M209 1453h0M184 1499h0M222 1504h0M230 1462h0M216 1502h0M219 1445h0M230 1489h0M234 1492h0M238 1461h0M213 1514h0M208 1459h0M182 1517h0M217 1518h0M233 1464h0M227 1477h0M229 1486h0M178 1516h0M222 1447h0M202 1519h0M234 1502h0M226 1484h0M197 1471h0M199 1472h0M187 1509h0M193 1506h0M211 1463h0M233 1471h0M217 1472h0M235 1440h0M218 1483h0M180 1497h0M187 1481h0M236 1445h0M199 1475h0M173 1499h0M176 1503h0M234 1508h0M234 1501h0M200 1479h0M205 1512h0M222 1494h0M210 1494h0M171 1510h0M194 1468h0M187 1499h0M193 1516h0M226 1476h0M199 1471h0M237 1490h0M194 1503h0M207 1499h0M236 1479h0M178 1493h0M184 1512h0M186 1484h0M238 1468h0M236 1477h0M229 1467h0M180 1521h0M169 1521h0M221 1452h0M239 1456h0M195 1477h0M192 1505h0M222 1476h0M235 1445h0M209 1507h0M176 1490h0M209 1506h0M206 1503h0M221 1502h0M219 1475h0M186 1487h0M158 1521h0M201 1469h0M230 1442h0M213 1485h0M203 1519h0M232 1484h0M218 1454h0M224 1515h0M195 1494h0M197 1498h0M220 1493h0M177 1498h0M229 1451h0M185 1489h0M222 1501h0M235 1463h0M205 1486h0M193 1508h0M207 1470h0M239 1463h0M171 1503h0M202 1521h0M233 1468h0M161 1520h0M216 1516h0M233 1513h0M220 1447h0M193 1507h0M181 1524h0M168 1506h0M179 1489h0M166 1510h0M190 1494h0M189 1502h0M217 1509h0M229 1504h0M181 1489h0M172 1505h0M232 1467h0M170 1516h0M220 1495h0M181 1500h0M213 1483h0M183 1505h0M228 1469h0M233 1440h0M192 1514h0M194 1492h0M235 1486h0M207 1483h0M233 1472h0M218 1494h0M171 1505h0M216 1488h0M208 1460h0M194 1493h0M213 1509h0M210 1504h0M218 1495h0M212 1507h0M204 1460h0M194 1502h0M220 1487h0M166 1514h0M238 1440h0M166 1520h0M194 1490h0M212 1519h0M215 1464h0M220 1448h0M202 1492h0M212 1493h0M235 1478h0M227 1476h0M215 1462h0M181 1508h0M207 1485h0M221 1508h0M221 1512h0M179 1486h0M197 1473h0M239 1452h0M190 1524h0M219 1465h0M194 1517h0M191 1506h0M200 1520h0M173 1513h0M237 1496h0M198 1467h0M221 1448h0M212 1504h0M228 1447h0M214 1449h0M182 1499h0M208 1506h0M216 1467h0M234 1451h0M214 1466h0M175 1502h0M176 1516h0M199 1473h0M196 1499h0M180 1484h0M205 1492h0M165 1521h0M230 1466h0M214 1511h0M174 1504h0M197 1469h0M195 1508h0M222 1491h0M172 1523h0M214 1475h0M200 1523h0M234 1489h0M212 1477h0M209 1511h0M223 1514h0M171 1522h0M224 1512h0M219 1477h0M187 1490h0M205 1483h0M223 1443h0M170 1513h0M199 1511h0M159 1517h0M213 1479h0M192 1509h0M176 1491h0M209 1504h0M170 1511h0M172 1503h0M203 1469h0M225 1497h0M169 1513h0M232 1481h0M196 1485h0M217 1507h0M236 1456h0M223 1460h0M223 1504h0M186 1513h0M195 1517h0M196 1475h0M225 1513h0M204 1500h0M205 1522h0M225 1506h0M216 1513h0M193 1488h0M172 1510h0M229 1499h0M198 1490h0M188 1511h0M237 1459h0M214 1451h0M237 1460h0M225 1478h0M178 1524h0M186 1497h0M184 1503h0M200 1468h0M209 1512h0M217 1490h0M173 1494h0M177 1529h0M231 1507h0M197 1479h0M234 1507h0M198 1493h0M208 1510h0M195 1488h0M210 1463h0M236 1502h0M210 1471h0M225 1476h0M176 1522h0M220 1465h0M173 1497h0M212 1500h0M228 1509h0M233 1477h0M225 1510h0M174 1496h0M210 1475h0M225 1481h0M227 1492h0M188 1501h0M208 1518h0M174 1498h0M197 1493h0M172 1527h0M199 1522h0M231 1457h0M237 1451h0M179 1528h0M209 1459h0M209 1498h0M210 1498h0M218 1517h0M207 1512h0M183 1523h0M229 1445h0M227 1440h0M185 1501h0M192 1474h0M198 1517h0M213 1503h0M176 1508h0M186 1495h0M221 1504h0M226 1460h0M234 1437h0M231 1504h0M172 1509h0M169 1520h0M231 1470h0M213 1487h0M186 1498h0M216 1447h0M189 1510h0M208 1493h0M234 1510h0M188 1488h0M176 1519h0M202 1473h0M201 1500h0M184 1497h0M222 1452h0M185 1500h0M174 1500h0M234 1503h0M216 1450h0M197 1503h0M226 1515h0M227 1483h0M222 1458h0M234 1494h0M211 1518h0M214 1509h0M235 1471h0M225 1459h0M238 1452h0M235 1447h0M195 1498h0M185 1510h0M236 1474h0M175 1519h0M198 1473h0M193 1524h0M202 1471h0M181 1491h0M167 1520h0M218 1448h0M217 1485h0M238 1443h0M184 1490h0M197 1504h0M211 1512h0M211 1464h0M199 1465h0M221 1505h0M204 1504h0M189 1507h0M184 1492h0M201 1493h0M209 1517h0M205 1469h0M192 1488h0M212 1486h0M235 1442h0M219 1460h0M200 1485h0M198 1489h0M191 1509h0M238 1444h0M191 1496h0M198 1508h0M180 1514h0M211 1508h0M199 1504h0M237 1449h0M216 1504h0M224 1446h0M176 1501h0M212 1517h0M193 1510h0M195 1471h0M190 1523h0M232 1489h0M237 1479h0M237 1492h0M208 1494h0M226 1445h0M216 1511h0M195 1490h0M201 1498h0M165 1522h0M216 1494h0M202 1504h0M212 1452h0M195 1480h0M214 1480h0M220 1449h0M238 1466h0M232 1446h0M196 1516h0M206 1465h0M212 1498h0M227 1514h0M190 1522h0M209 1464h0M211 1462h0M206 1459h0M214 1481h0M227 1490h0M233 1451h0M235 1475h0M206 1492h0M207 1494h0M213 1516h0M233 1458h0M228 1502h0M223 1506h0M217 1464h0M190 1477h0M217 1493h0M226 1480h0M203 1470h0M224 1466h0M202 1496h0M212 1501h0M214 1507h0M222 1465h0M214 1491h0M174 1509h0M240 1467h0M179 1527h0M180 1512h0M202 1491h0M229 1444h0M202 1497h0M164 1524h0M216 1475h0M245 1450h0M230 1508h0M197 1497h0M204 1466h0M192 1491h0M179 1514h0M208 1467h0M200 1481h0M192 1501h0M232 1455h0M189 1499h0M238 1447h0M225 1472h0M238 1459h0M161 1512h0M241 1487h0M180 1516h0M207 1473h0M234 1463h0M170 1509h0M193 1495h0M215 1477h0M232 1435h0M235 1461h0M226 1505h0M226 1485h0M236 1466h0M184 1495h0M207 1467h0M228 1455h0M161 1525h0M215 1521h0M184 1496h0M172 1507h0M228 1442h0M189 1498h0M233 1430h0M192 1483h0M174 1510h0M227 1445h0M215 1472h0M189 1482h0M214 1490h0M222 1466h0M228 1460h0M214 1484h0M215 1511h0M232 1460h0M243 1455h0M230 1464h0M225 1437h0M197 1487h0M222 1495h0M226 1511h0M257 1402h0M283 1428h0M280 1446h0" stroke="#2ca02c" stroke-width="5.8" stroke-linecap="round" fill="none"/>
<path d="M296 1447h0M246 1492h0M269 1482h0M256 1466h0M258 1484h0M279 1456h0M251 1471h0M328 1477h0M259 1482h0M307 1449h0M228 1474h0M281 1495h0M302 1485h0M250 1462h0M282 1492h0M241 1471h0M235 1504h0M279 1501h0M236 1495h0M245 1480h0M246 1496h0M274 1480h0M295 1466h0M295 1479h0M223 1489h0M283 1493h0M224 1503h0M270 1487h0M288 1472h0M247 1489h0M306 1462h0M301 1490h0M244 1466h0M312 1468h0M284 1493h0M279 1481h0M303 1495h0M239 1495h0M259 1470h0M211 1485h0M323 1470h0M258 1504h0M285 1474h0M293 1496h0M307 1459h0M290 1457h0M292 1459h0M228 1509h0M260 1495h0M288 1483h0M248 1483h0M313 1489h0M241 1478h0M243 1461h0M305 1461h0M262 1479h0M259 1489h0M189 1507h0M278 1499h0M285 1500h0M310 1470h0M198 1498h0M322 1479h0M249 1467h0M322 1468h0M202 1506h0M280 1498h0M239 1479h0M244 1482h0M296 1477h0M239 1496h0M304 1466h0M284 1473h0M258 1461h0M214 1491h0M322 1454h0M229 1495h0M306 1489h0M262 1462h0M257 1470h0M278 1466h0M217 1506h0M246 1502h0M201 1508h0M293 1456h0M236 1485h0M229 1489h0M242 1471h0M250 1503h0M318 1458h0M264 1488h0M324 1456h0M322 1461h0M217 1512h0M246 1501h0M278 1471h0M299 1477h0M268 1478h0M249 1500h0M220 1504h0M224 1486h0M219 1504h0M260 1466h0M243 1489h0M328 1464h0M302 1473h0M319 1485h0M301 1465h0M238 1502h0M290 1483h0M268 1503h0M288 1471h0M325 1460h0M288 1467h0M313 1461h0M244 1462h0M237 1492h0M307 1469h0M303 1448h0M222 1477h0M314 1453h0M280 1481h0M217 1495h0M242 1467h0M248 1507h0M261 1471h0M226 1481h0M259 1465h0M197 1512h0M312 1451h0M253 1487h0M289 1484h0M236 1474h0M323 1469h0M208 1508h0M234 1484h0M323 1460h0M236 1469h0M287 1477h0M310 1455h0M309 1467h0M234 1468h0M212 1508h0M228 1472h0M187 1507h0M259 1484h0M212 1499h0M274 1473h0M199 1507h0M228 1501h0M280 1457h0M254 1495h0M297 1483h0M311 1491h0M215 1502h0M237 1507h0M271 1487h0M296 1484h0M274 1475h0M233 1469h0M264 1483h0M302 1460h0M321 1488h0M210 1505h0M323 1457h0M232 1501h0M301 1447h0M229 1494h0M241 1506h0M289 1492h0M271 1460h0M227 1482h0M261 1488h0M309 1463h0M239 1506h0M233 1482h0M285 1468h0M207 1502h0M289 1451h0M268 1473h0M222 1508h0M267 1502h0M249 1487h0M302 1492h0M325 1476h0M244 1487h0M308 1494h0M220 1493h0M295 1482h0M220 1510h0M225 1482h0M278 1486h0M224 1495h0M241 1462h0M291 1448h0M203 1496h0M242 1496h0M199 1498h0M308 1455h0M258 1483h0M285 1497h0M293 1471h0M259 1494h0M282 1500h0M304 1473h0M214 1484h0M314 1462h0M243 1464h0M286 1461h0M305 1474h0M199 1513h0M298 1448h0M277 1459h0M228 1485h0M309 1454h0M235 1511h0M282 1477h0M270 1477h0M202 1504h0M280 1463h0M263 1486h0M242 1474h0M247 1481h0M222 1486h0M203 1513h0M214 1503h0M321 1469h0M293 1461h0M229 1488h0M265 1481h0M226 1511h0M293 1487h0M263 1498h0M272 1496h0M237 1475h0M204 1503h0M278 1479h0M292 1464h0M316 1472h0M298 1463h0M246 1475h0M293 1477h0M266 1504h0M256 1500h0M280 1494h0M249 1501h0M240 1466h0M224 1514h0M307 1466h0M289 1476h0M216 1500h0M221 1493h0M245 1500h0M227 1508h0M276 1472h0M239 1478h0M263 1477h0M290 1452h0M233 1468h0M315 1454h0M276 1485h0M228 1492h0M238 1473h0M257 1502h0M267 1495h0M261 1483h0M195 1497h0M270 1492h0M312 1456h0M250 1506h0M219 1512h0M223 1478h0M282 1481h0M216 1511h0M306 1464h0M308 1467h0M211 1491h0M274 1490h0M229 1490h0M226 1480h0M237 1491h0M289 1496h0M287 1458h0M296 1459h0M286 1494h0M209 1504h0M255 1472h0M301 1448h0M239 1507h0M318 1468h0M264 1477h0M235 1508h0M234 1499h0M292 1453h0M272 1498h0M289 1458h0M299 1464h0M304 1493h0M224 1491h0M297 1471h0M213 1493h0M219 1491h0M291 1480h0M308 1456h0M201 1507h0M283 1492h0M319 1472h0M299 1465h0M227 1493h0M266 1488h0M274 1500h0M247 1463h0M283 1461h0M320 1481h0M253 1472h0M262 1471h0M218 1499h0M221 1500h0M215 1486h0M272 1471h0M286 1493h0M289 1481h0M296 1463h0M279 1461h0M290 1465h0M219 1498h0M212 1491h0M265 1501h0M300 1483h0M281 1475h0M193 1507h0M268 1470h0M268 1458h0M206 1490h0M279 1470h0M225 1511h0M280 1467h0M283 1473h0M204 1499h0M213 1489h0M223 1494h0M272 1484h0M232 1506h0M239 1501h0M230 1490h0M319 1476h0M255 1498h0M253 1504h0M224 1510h0M254 1485h0M272 1463h0M314 1473h0M232 1513h0M205 1491h0M303 1496h0M217 1488h0M272 1458h0M246 1477h0M235 1487h0M252 1479h0M305 1457h0M261 1486h0M294 1477h0M207 1497h0M233 1474h0M317 1477h0M300 1461h0M291 1461h0M279 1483h0M223 1497h0M308 1469h0M303 1452h0M278 1497h0M303 1493h0M224 1500h0M235 1503h0M260 1499h0M298 1495h0M290 1469h0M272 1487h0M265 1463h0M206 1496h0M232 1495h0M288 1454h0M306 1452h0M287 1495h0M254 1483h0M237 1487h0M250 1461h0M308 1462h0M321 1477h0M231 1488h0M248 1462h0M308 1479h0M256 1505h0M245 1489h0M316 1460h0M302 1488h0M232 1483h0M271 1488h0M315 1479h0M296 1464h0M314 1479h0M283 1480h0M321 1472h0M263 1489h0M281 1473h0M260 1484h0M203 1502h0M272 1474h0M218 1504h0M282 1453h0M318 1467h0M272 1459h0M307 1455h0M208 1500h0M240 1467h0M289 1469h0M303 1461h0M310 1486h0M300 1449h0M293 1484h0M202 1501h0M257 1490h0M299 1488h0M239 1468h0M244 1492h0M313 1490h0M313 1482h0M227 1475h0M226 1483h0M209 1492h0M225 1493h0M244 1494h0M303 1457h0M208 1499h0M215 1510h0M261 1493h0M293 1483h0M226 1494h0M231 1484h0M254 1471h0M234 1496h0M315 1473h0M257 1467h0M254 1486h0M254 1497h0M313 1471h0M205 1495h0M219 1478h0M309 1474h0M314 1480h0M196 1498h0M274 1496h0M313 1452h0M222 1481h0M322 1457h0M233 1506h0M233 1508h0M225 1477h0M284 1462h0M316 1468h0M256 1491h0M294 1456h0M297 1476h0M279 1502h0M236 1509h0M313 1469h0M245 1499h0M244 1502h0M232 1485h0M302 1484h0M216 1489h0M295 1472h0M311 1459h0M291 1462h0M276 1493h0M224 1475h0M278 1473h0M226 1479h0M274 1482h0M226 1473h0M265 1467h0M285 1467h0M287 1490h0M246 1469h0M293 1491h0M312 1475h0M243 1494h0M283 1487h0M290 1491h0M261 1475h0M274 1494h0M232 1473h0M293 1459h0M269 1458h0M307 1476h0M267 1491h0M262 1466h0M304 1453h0M295 1446h0M267 1488h0M301 1477h0M238 1465h0M265 1466h0M231 1472h0M275 1487h0M217 1503h0M301 1462h0M197 1509h0M298 1487h0M191 1508h0M296 1457h0M210 1512h0M228 1512h0M294 1484h0M245 1504h0M281 1461h0M295 1454h0M233 1504h0M268 1504h0M271 1499h0M283 1475h0M281 1490h0M224 1489h0M253 1484h0M244 1485h0M305 1465h0M221 1479h0M252 1470h0M234 1485h0M267 1497h0M234 1472h0M312 1458h0M232 1491h0M299 1468h0M306 1484h0M203 1506h0M243 1473h0M302 1450h0M309 1482h0M307 1470h0M292 1487h0M294 1478h0M271 1486h0M273 1461h0M217 1481h0M321 1487h0M326 1471h0M325 1474h0M210 1491h0M312 1472h0M316 1461h0M272 1469h0M231 1512h0M250 1485h0M243 1505h0M301 1481h0M288 1465h0M224 1511h0M285 1465h0M230 1489h0M251 1485h0M322 1483h0M257 1488h0M254 1474h0M279 1494h0M312 1488h0M319 1474h0M246 1481h0M208 1504h0M247 1484h0M267 1485h0M239 1490h0M325 1461h0M289 1456h0M251 1486h0M203 1491h0M287 1475h0M199 1496h0M263 1473h0M257 1478h0M220 1485h0M309 1484h0M286 1477h0M260 1490h0M254 1491h0M288 1470h0M298 1467h0M268 1483h0M260 1468h0M226 1484h0M297 1497h0M236 1493h0M306 1486h0M208 1495h0M213 1488h0M278 1478h0M298 1484h0M286 1501h0M299 1495h0M268 1462h0M283 1470h0M261 1474h0M325 1462h0M289 1477h0M309 1481h0M257 1496h0M317 1486h0M297 1464h0M206 1491h0M196 1500h0M270 1499h0M300 1448h0M269 1457h0M271 1480h0M196 1510h0M321 1466h0M303 1487h0M198 1512h0M311 1487h0M245 1510h0M227 1470h0M228 1499h0M320 1483h0M281 1501h0M282 1473h0M256 1501h0M223 1486h0M252 1506h0M265 1480h0M259 1503h0M313 1477h0M300 1455h0M284 1480h0M233 1479h0M242 1485h0M282 1462h0M260 1459h0M258 1477h0M309 1470h0M317 1460h0M282 1470h0M318 1463h0M251 1461h0M311 1465h0M229 1513h0M251 1503h0M246 1466h0M252 1462h0M236 1464h0M325 1477h0M306 1465h0M278 1480h0M213 1499h0M257 1460h0M204 1500h0M267 1493h0M242 1505h0M305 1450h0M256 1463h0M229 1509h0M257 1494h0M280 1491h0M251 1494h0M222 1502h0M232 1470h0M211 1503h0M213 1505h0M295 1488h0M269 1488h0M289 1470h0M188 1506h0M201 1498h0M288 1455h0M292 1448h0M281 1493h0M285 1486h0M218 1497h0M210 1489h0M202 1513h0M291 1479h0M215 1497h0M243 1471h0M205 1498h0M284 1463h0M311 1458h0M287 1476h0M248 1482h0M205 1512h0M247 1482h0M290 1463h0M204 1494h0M229 1512h0M296 1489h0M291 1499h0M269 1497h0M269 1485h0M266 1470h0M315 1452h0M317 1479h0M219 1499h0M307 1473h0M291 1490h0M211 1513h0M308 1475h0M266 1495h0M267 1482h0M303 1478h0M221 1491h0M238 1477h0M245 1478h0M282 1495h0M319 1477h0M255 1483h0M213 1511h0M296 1472h0M201 1495h0M201 1501h0M272 1489h0M295 1475h0M307 1461h0M205 1499h0M274 1462h0M299 1473h0M220 1489h0M210 1514h0M277 1493h0M248 1485h0M292 1492h0M315 1469h0M274 1487h0M286 1484h0M291 1470h0M225 1499h0M211 1499h0M249 1483h0M296 1475h0M273 1464h0M210 1511h0M197 1506h0M296 1455h0M307 1454h0M242 1493h0M305 1472h0M263 1484h0M316 1467h0M264 1496h0M210 1498h0M253 1478h0M189 1500h0M300 1499h0M253 1496h0M270 1475h0M218 1484h0M203 1514h0M308 1485h0M221 1464h0M260 1460h0M257 1497h0M294 1464h0M310 1474h0M233 1501h0M238 1487h0M239 1499h0M232 1480h0M285 1469h0M278 1481h0M324 1458h0M278 1453h0M289 1471h0M240 1505h0M295 1484h0M258 1466h0M278 1489h0M249 1470h0M311 1485h0M248 1505h0M226 1490h0M221 1506h0M199 1506h0M296 1461h0M266 1484h0M220 1486h0M294 1483h0M268 1500h0M270 1458h0M269 1451h0M199 1508h0M223 1502h0M277 1470h0M264 1494h0M281 1487h0M312 1471h0M290 1460h0M306 1492h0M212 1515h0M274 1456h0M230 1498h0M210 1477h0M220 1509h0M265 1497h0M224 1508h0M286 1471h0M234 1481h0M231 1513h0M243 1468h0M213 1500h0M242 1506h0M316 1469h0M255 1503h0M186 1511h0M235 1505h0M288 1498h0M281 1511h0M240 1511h0M263 1491h0M295 1480h0M296 1474h0M269 1472h0M293 1462h0M288 1481h0M294 1442h0M231 1517h0M232 1520h0M286 1474h0M223 1485h0M294 1472h0M297 1462h0M311 1473h0M272 1479h0M262 1464h0M298 1473h0M275 1463h0M234 1510h0M292 1446h0M215 1491h0M248 1504h0M228 1487h0M258 1465h0M315 1484h0M193 1502h0M235 1467h0M316 1447h0M256 1481h0M213 1508h0M273 1477h0M319 1491h0M214 1508h0M306 1475h0M262 1502h0M276 1464h0M305 1482h0M247 1458h0M239 1483h0M407 1450h0M394 1428h0M318 1503h0M384 1440h0M400 1454h0M347 1466h0M410 1478h0M319 1470h0M378 1440h0M347 1455h0M340 1465h0M315 1458h0M333 1487h0M411 1419h0M308 1480h0M327 1449h0M411 1395h0M361 1494h0M306 1501h0M333 1420h0M378 1444h0M357 1439h0M407 1472h0M302 1462h0M360 1493h0M255 1513h0M390 1433h0M304 1445h0M381 1479h0M404 1443h0M336 1467h0M347 1464h0M380 1458h0M389 1421h0M402 1449h0M377 1428h0M370 1486h0M452 1416h0M385 1397h0M432 1437h0M370 1408h0M343 1456h0M373 1448h0M388 1446h0M421 1450h0M346 1493h0M427 1483h0M344 1505h0M351 1521h0M344 1453h0M411 1444h0M385 1462h0M399 1481h0M332 1442h0M413 1438h0M383 1438h0M367 1439h0M355 1458h0M382 1454h0M386 1476h0M409 1408h0M404 1463h0M370 1464h0M302 1434h0M369 1462h0M295 1469h0M317 1447h0M423 1419h0M344 1428h0M371 1436h0M386 1484h0M379 1459h0M345 1454h0M334 1458h0M328 1472h0M401 1466h0M370 1459h0M394 1433h0M366 1436h0M513 1435h0M396 1418h0M350 1447h0M344 1477h0M377 1458h0M299 1499h0M355 1455h0M328 1458h0M357 1434h0M338 1443h0M357 1453h0M415 1456h0M327 1455h0M369 1444h0M367 1446h0M370 1447h0M351 1427h0M397 1454h0M293 1489h0M388 1465h0M367 1443h0M384 1473h0M398 1490h0M351 1455h0M328 1421h0M429 1433h0M354 1471h0M347 1456h0M390 1436h0M309 1457h0M418 1411h0M329 1461h0M362 1434h0M385 1426h0M412 1457h0M428 1442h0M426 1474h0M374 1436h0M328 1461h0M312 1465h0M333 1449h0M364 1498h0M333 1444h0M335 1454h0M350 1454h0M354 1489h0M451 1452h0M377 1434h0M369 1461h0M401 1438h0M357 1427h0M338 1481h0M389 1435h0M349 1453h0M289 1463h0M350 1485h0M368 1437h0M324 1468h0M366 1440h0M343 1497h0M348 1510h0M371 1471h0M333 1500h0M425 1420h0M335 1489h0M356 1492h0M384 1468h0M393 1460h0M395 1442h0M372 1474h0M372 1430h0M335 1490h0M334 1466h0M402 1452h0M382 1455h0M393 1475h0M367 1452h0M349 1514h0M426 1455h0M331 1474h0M393 1468h0M347 1451h0M370 1528h0M269 1447h0M373 1478h0M376 1521h0M421 1411h0M358 1385h0M353 1423h0M343 1391h0M382 1418h0M411 1403h0M418 1420h0M369 1397h0M404 1407h0M319 1441h0M400 1460h0M363 1428h0M397 1394h0M369 1375h0M351 1403h0M402 1366h0M359 1411h0M328 1408h0M348 1433h0M375 1364h0M370 1379h0M369 1445h0M407 1415h0M369 1408h0M366 1413h0M343 1431h0M383 1432h0M332 1395h0M371 1421h0M422 1454h0M395 1389h0M388 1445h0M371 1407h0M437 1384h0M411 1416h0M392 1399h0M342 1423h0M326 1449h0M353 1400h0M365 1397h0M396 1451h0M361 1410h0M355 1409h0M394 1403h0M331 1405h0M373 1413h0M354 1455h0M399 1419h0M382 1436h0M341 1411h0M315 1489h0M323 1472h0M311 1480h0M325 1470h0M331 1463h0M319 1481h0M318 1488h0M309 1476h0M304 1460h0M330 1459h0M308 1457h0M334 1461h0M322 1473h0M310 1520h0M321 1471h0M321 1492h0M319 1467h0M326 1483h0M302 1463h0M318 1489h0M329 1501h0M318 1480h0M312 1476h0M321 1470h0M326 1487h0M318 1481h0M289 1475h0M326 1492h0M306 1487h0M309 1483h0M298 1482h0M320 1479h0M308 1474h0M324 1471h0M336 1487h0M320 1477h0M310 1481h0M335 1472h0M334 1469h0M337 1475h0M337 1471h0M311 1484h0M308 1492h0M301 1476h0M290 1476h0M307 1477h0M335 1479h0M330 1461h0M333 1477h0M332 1459h0M331 1490h0M335 1474h0M318 1464h0M305 1463h0M310 1487h0M344 1490h0M315 1470h0M337 1479h0M340 1492h0M308 1468h0M316 1445h0M316 1443h0M325 1472h0M351 1475h0M325 1481h0M311 1476h0M324 1489h0M323 1464h0M321 1480h0M318 1457h0M316 1483h0" stroke="#17becf" stroke-width="5.8" stroke-linecap="round" fill="none"/>
<path d="M520 1375h0M529 1435h0M413 1456h0M505 1403h0M521 1443h0M504 1429h0M445 1422h0M492 1440h0M506 1410h0M409 1469h0M526 1375h0M469 1399h0M503 1420h0M488 1394h0M510 1397h0M417 1444h0M520 1408h0M510 1454h0M524 1374h0M517 1407h0M462 1393h0M434 1420h0M422 1425h0M459 1465h0M472 1412h0M563 1380h0M555 1381h0M537 1370h0M488 1452h0M533 1452h0M405 1454h0M411 1445h0M456 1463h0M484 1455h0M471 1458h0M443 1432h0M458 1403h0M526 1380h0M438 1410h0M431 1467h0M444 1453h0M541 1371h0M425 1424h0M429 1415h0M401 1451h0M446 1469h0M398 1440h0M408 1463h0M460 1393h0M546 1394h0M487 1405h0M554 1405h0M473 1452h0M520 1364h0M430 1430h0M444 1407h0M469 1426h0M522 1408h0M489 1460h0M461 1406h0M553 1412h0M416 1449h0M481 1450h0M497 1380h0M557 1367h0M477 1465h0M440 1467h0M470 1466h0M548 1378h0M544 1373h0M440 1418h0M436 1447h0M569 1374h0M489 1423h0M526 1426h0M526 1435h0M449 1426h0M445 1440h0M508 1405h0M533 1408h0M442 1423h0M471 1420h0M468 1435h0M543 1393h0M454 1414h0M557 1373h0M494 1404h0M480 1433h0M482 1445h0M445 1411h0M478 1414h0M544 1370h0M387 1458h0M506 1440h0M525 1391h0M419 1449h0M441 1467h0M549 1361h0M463 1396h0M403 1440h0M457 1444h0M488 1430h0M527 1445h0M452 1435h0M548 1367h0M494 1418h0M499 1380h0M512 1431h0M398 1451h0M459 1401h0M522 1381h0M481 1438h0M433 1448h0M477 1443h0M486 1437h0M422 1437h0M521 1375h0M461 1447h0M446 1436h0M413 1427h0M430 1414h0M400 1466h0M406 1467h0M453 1469h0M470 1397h0M474 1437h0M428 1461h0M442 1459h0M441 1419h0M476 1462h0M515 1388h0M519 1408h0M393 1467h0M523 1437h0M507 1384h0M444 1410h0M533 1435h0M544 1377h0M405 1447h0M525 1436h0M513 1383h0M493 1397h0M523 1379h0M469 1452h0M432 1426h0M471 1403h0M503 1424h0M564 1366h0M519 1443h0M474 1451h0M481 1390h0M484 1453h0M449 1399h0M419 1462h0M496 1394h0M503 1431h0M426 1464h0M427 1448h0M401 1453h0M465 1421h0M427 1437h0M523 1446h0M522 1389h0M542 1415h0M510 1383h0M464 1450h0M454 1415h0M420 1423h0M415 1467h0M535 1368h0M513 1440h0M454 1428h0M485 1452h0M545 1406h0M540 1369h0M515 1390h0M472 1402h0M454 1401h0M495 1465h0M516 1365h0M434 1462h0M436 1442h0M463 1467h0M519 1450h0M545 1396h0M526 1453h0M531 1393h0M446 1466h0M459 1448h0M499 1434h0M538 1370h0M501 1384h0M390 1463h0M441 1439h0M443 1417h0M452 1462h0M520 1365h0M566 1365h0M490 1408h0M460 1395h0M459 1404h0M488 1417h0M464 1404h0M476 1389h0M436 1468h0M507 1405h0M557 1369h0M513 1402h0M485 1428h0M440 1429h0M512 1426h0M553 1361h0M524 1369h0M542 1360h0M461 1422h0M434 1437h0M396 1454h0M445 1468h0M560 1395h0M533 1418h0M430 1443h0M529 1393h0M541 1377h0M434 1429h0M429 1445h0M463 1434h0M532 1438h0M413 1428h0M434 1438h0M548 1425h0M509 1445h0M508 1431h0M457 1425h0M467 1465h0M504 1438h0M426 1418h0M513 1453h0M531 1430h0M403 1458h0M490 1404h0M520 1400h0M487 1397h0M546 1387h0M549 1417h0M513 1404h0M450 1464h0M540 1421h0M537 1361h0M534 1423h0M511 1414h0M564 1367h0M485 1386h0M387 1456h0M461 1393h0M526 1434h0M450 1445h0M402 1461h0M430 1462h0M518 1378h0M499 1453h0M502 1429h0M486 1393h0M448 1454h0M538 1362h0M521 1449h0M455 1427h0M549 1364h0M407 1434h0M531 1362h0M552 1405h0M404 1453h0M516 1449h0M395 1454h0M483 1428h0M495 1431h0M425 1429h0M554 1379h0M431 1423h0M454 1406h0M531 1437h0M525 1430h0M471 1416h0M481 1428h0M494 1456h0M479 1463h0M508 1419h0M416 1429h0M459 1417h0M538 1366h0M486 1404h0M491 1402h0M499 1398h0M534 1426h0M499 1421h0M453 1413h0M565 1385h0M456 1442h0M533 1371h0M501 1448h0M489 1392h0M453 1400h0M437 1457h0M535 1367h0M451 1461h0M422 1456h0M550 1387h0M426 1423h0M420 1436h0M395 1467h0M481 1397h0M469 1434h0M491 1438h0M443 1466h0M409 1442h0M549 1360h0M442 1424h0M464 1463h0M524 1411h0M459 1413h0M502 1434h0M451 1446h0M457 1422h0M523 1405h0M534 1412h0M479 1408h0M542 1436h0M454 1466h0M479 1449h0M421 1467h0M518 1456h0M564 1377h0M547 1410h0M537 1446h0M534 1411h0M453 1430h0M526 1382h0M428 1442h0M493 1445h0M510 1421h0M395 1449h0M517 1459h0M439 1460h0M451 1437h0M440 1458h0M511 1392h0M551 1385h0M528 1401h0M523 1429h0M531 1366h0M550 1411h0M415 1430h0M472 1425h0M450 1415h0M452 1468h0M458 1437h0M484 1394h0M484 1435h0M411 1439h0M476 1402h0M551 1362h0M457 1464h0M449 1465h0M395 1462h0M499 1395h0M529 1432h0M551 1380h0M417 1459h0M446 1452h0M427 1445h0M500 1464h0M481 1464h0M499 1440h0M497 1394h0M515 1376h0M410 1462h0M545 1407h0M477 1459h0M420 1471h0M502 1413h0M553 1360h0M512 1372h0M497 1397h0M548 1361h0M566 1373h0M532 1433h0M518 1379h0M483 1391h0M435 1461h0M462 1424h0M543 1413h0M423 1460h0M426 1429h0M449 1402h0M427 1458h0M464 1417h0M474 1387h0M499 1396h0M449 1456h0M446 1404h0M527 1455h0M528 1365h0M529 1413h0M408 1448h0M534 1430h0M428 1427h0M546 1393h0M422 1463h0M542 1393h0M488 1431h0M456 1419h0M443 1419h0M494 1402h0M509 1410h0M445 1436h0M539 1406h0M545 1419h0M537 1391h0M572 1365h0M484 1452h0M556 1404h0M504 1446h0M519 1405h0M570 1365h0M450 1466h0M475 1396h0M463 1412h0M393 1453h0M392 1455h0M410 1461h0M455 1432h0M396 1468h0M442 1412h0M457 1411h0M527 1403h0M435 1433h0M494 1399h0M525 1371h0M509 1379h0M424 1463h0M447 1436h0M511 1431h0M480 1416h0M477 1433h0M498 1452h0M486 1414h0M508 1454h0M527 1412h0M450 1435h0M512 1446h0M563 1363h0M484 1461h0M519 1381h0M444 1466h0M478 1411h0M500 1404h0M492 1431h0M440 1440h0M408 1432h0M561 1380h0M524 1378h0M486 1406h0M490 1417h0M474 1402h0M420 1467h0M444 1403h0M479 1394h0M559 1383h0M528 1398h0M513 1376h0M470 1408h0M524 1420h0M484 1449h0M490 1383h0M547 1425h0M514 1377h0M539 1428h0M409 1435h0M440 1427h0M455 1426h0M534 1382h0M549 1422h0M523 1456h0M431 1439h0M494 1458h0M425 1452h0M500 1451h0M445 1447h0M480 1446h0M469 1448h0M432 1440h0M526 1416h0M487 1422h0M475 1435h0M484 1420h0M484 1466h0M429 1440h0M409 1444h0M418 1446h0M473 1436h0M535 1392h0M560 1377h0M513 1405h0M512 1369h0M491 1400h0M470 1399h0M554 1388h0M560 1366h0M548 1365h0M462 1427h0M530 1366h0M489 1435h0M535 1436h0M466 1433h0M426 1448h0M512 1439h0M527 1398h0M558 1377h0M514 1445h0M417 1437h0M471 1430h0M460 1433h0M543 1398h0M537 1395h0M478 1452h0M531 1380h0M472 1415h0M486 1438h0M480 1406h0M489 1380h0M538 1414h0M511 1380h0M521 1431h0M490 1436h0M557 1353h0M470 1443h0M538 1369h0M426 1450h0M507 1418h0M397 1460h0M476 1416h0M488 1400h0M450 1408h0M455 1400h0M497 1404h0M493 1425h0M459 1421h0M505 1383h0M418 1423h0M540 1407h0M403 1464h0M446 1460h0M458 1431h0M447 1461h0M533 1444h0M509 1391h0M451 1423h0M541 1394h0M391 1461h0M453 1424h0M566 1361h0M565 1384h0M533 1365h0M557 1354h0M461 1439h0M534 1415h0M424 1421h0M534 1422h0M416 1454h0M441 1426h0M505 1440h0M563 1365h0M492 1413h0M514 1371h0M541 1392h0M444 1451h0M426 1458h0M450 1427h0M482 1406h0M454 1458h0M524 1395h0M400 1457h0M441 1468h0M430 1435h0M511 1433h0M402 1459h0M431 1453h0M452 1428h0M402 1470h0M501 1426h0M519 1387h0M515 1378h0M526 1429h0M467 1408h0M556 1385h0M547 1428h0M404 1440h0M405 1452h0M518 1442h0M423 1449h0M514 1460h0M469 1459h0M469 1433h0M473 1427h0M454 1433h0M529 1390h0M478 1415h0M475 1464h0M481 1408h0M421 1422h0M424 1445h0M453 1453h0M494 1454h0M506 1400h0M528 1412h0M511 1420h0M474 1398h0M488 1401h0M467 1447h0M441 1409h0M547 1403h0M484 1384h0M467 1432h0M512 1451h0M521 1392h0M469 1464h0M523 1365h0M463 1457h0M459 1423h0M490 1465h0M464 1448h0M458 1427h0M418 1433h0M514 1449h0M504 1409h0M407 1464h0M503 1427h0M497 1455h0M488 1410h0M469 1461h0M518 1414h0M483 1393h0M533 1378h0M537 1430h0M541 1378h0M509 1380h0M452 1438h0M538 1400h0M447 1441h0M447 1438h0M507 1426h0M390 1456h0M443 1424h0M547 1361h0M413 1434h0M498 1398h0M543 1426h0M460 1437h0M480 1396h0M432 1470h0M450 1400h0M499 1381h0M539 1438h0M468 1417h0M454 1431h0M409 1465h0M544 1356h0M495 1388h0M445 1405h0M544 1410h0M455 1459h0M562 1386h0M445 1454h0M489 1436h0M442 1448h0M473 1457h0M545 1379h0M520 1437h0M507 1430h0M550 1373h0M448 1447h0M459 1452h0M496 1431h0M480 1443h0M511 1370h0M517 1388h0M522 1451h0M537 1371h0M425 1456h0M490 1427h0M494 1400h0M544 1397h0M508 1433h0M401 1468h0M431 1422h0M433 1465h0M403 1444h0M494 1403h0M548 1375h0M445 1425h0M533 1389h0M566 1367h0M431 1419h0M413 1432h0M527 1362h0M494 1416h0M537 1365h0M488 1426h0M506 1458h0M438 1406h0M493 1464h0M438 1459h0M530 1412h0M527 1441h0M513 1378h0M472 1463h0M469 1467h0M465 1432h0M547 1387h0M505 1425h0M518 1429h0M517 1384h0M499 1415h0M541 1375h0M514 1414h0M414 1455h0M536 1376h0M473 1444h0M539 1402h0M498 1427h0M478 1393h0M529 1360h0M449 1414h0M560 1364h0M466 1408h0M489 1447h0M470 1396h0M505 1445h0M524 1419h0M471 1457h0M488 1435h0M512 1444h0M466 1400h0M405 1438h0M507 1385h0M515 1459h0M546 1408h0M511 1438h0M474 1467h0M494 1412h0M492 1449h0M446 1427h0M527 1410h0M479 1410h0M550 1415h0M553 1403h0M501 1382h0M561 1386h0M550 1372h0M505 1410h0M426 1468h0M451 1447h0M555 1387h0M474 1405h0M466 1454h0M427 1429h0M440 1435h0M509 1451h0M552 1414h0M483 1386h0M496 1413h0M468 1404h0M467 1392h0M492 1458h0M420 1428h0M569 1370h0M487 1431h0M515 1379h0M554 1409h0M505 1381h0M480 1464h0M551 1371h0M479 1447h0M530 1431h0M405 1444h0M534 1362h0M432 1452h0M550 1365h0M494 1429h0M564 1378h0M490 1381h0M432 1446h0M460 1428h0M474 1438h0M445 1464h0M560 1376h0M452 1405h0M429 1449h0M482 1450h0M528 1384h0M502 1457h0M487 1417h0M539 1431h0M508 1424h0M554 1359h0M544 1396h0M430 1441h0M460 1409h0M429 1467h0M529 1414h0M488 1382h0M498 1440h0M562 1381h0M534 1416h0M482 1428h0M399 1463h0M423 1452h0M520 1385h0M498 1414h0M462 1410h0M475 1443h0M490 1400h0M520 1391h0M503 1416h0M514 1405h0M476 1455h0M464 1459h0M497 1413h0M521 1408h0M500 1458h0M502 1373h0M467 1462h0M475 1390h0M429 1458h0M448 1420h0M567 1365h0M525 1382h0M479 1420h0M486 1434h0M414 1452h0M451 1456h0M482 1395h0M414 1465h0M475 1425h0M477 1461h0M420 1441h0M564 1362h0M491 1426h0M462 1398h0M522 1450h0M534 1436h0M546 1417h0M536 1391h0M445 1444h0M396 1453h0M533 1400h0M434 1444h0M513 1457h0M442 1453h0M511 1419h0M499 1394h0M501 1373h0M560 1398h0M484 1430h0M548 1409h0M535 1391h0M513 1370h0M535 1437h0M461 1461h0M506 1432h0M536 1394h0M531 1391h0M469 1405h0M474 1461h0M426 1431h0M499 1463h0M541 1416h0M522 1401h0M531 1416h0M524 1367h0M564 1357h0M423 1444h0M511 1391h0M412 1464h0M414 1462h0M547 1392h0M478 1443h0M435 1468h0M521 1441h0M490 1388h0M498 1430h0M519 1383h0M495 1401h0M526 1432h0M554 1367h0M495 1407h0M557 1376h0M551 1377h0M550 1360h0M445 1401h0M524 1405h0M480 1466h0M503 1405h0M445 1465h0M531 1446h0M540 1424h0M482 1389h0M487 1425h0M449 1449h0M541 1393h0M533 1439h0M440 1450h0M526 1362h0M461 1419h0M523 1412h0M470 1452h0M415 1468h0M494 1384h0M546 1386h0M560 1375h0M417 1448h0M416 1435h0M471 1392h0M523 1420h0M476 1418h0M547 1411h0M471 1455h0M545 1423h0M442 1451h0M499 1460h0M394 1462h0M481 1434h0M486 1417h0M460 1453h0M412 1463h0M417 1439h0M557 1390h0M510 1451h0M506 1463h0M545 1371h0M561 1360h0M506 1459h0M511 1411h0M512 1437h0M446 1442h0M558 1403h0M472 1440h0M482 1463h0M502 1436h0M497 1429h0M519 1413h0M544 1365h0M496 1411h0M478 1420h0M449 1418h0M434 1410h0M528 1386h0M461 1449h0M417 1469h0M483 1398h0M480 1460h0M544 1381h0M471 1409h0M456 1405h0M439 1411h0M414 1429h0M526 1387h0M434 1439h0M439 1408h0M531 1364h0M470 1458h0M512 1398h0M424 1435h0M513 1417h0M477 1419h0M535 1423h0M467 1457h0M421 1440h0M475 1408h0M415 1442h0M497 1438h0M502 1439h0M422 1469h0M525 1393h0M486 1401h0M453 1459h0M503 1383h0M455 1403h0M462 1394h0M483 1411h0M486 1386h0M554 1392h0M500 1406h0M388 1458h0M430 1444h0M472 1420h0M528 1393h0M480 1399h0M474 1463h0M436 1462h0M554 1391h0M521 1430h0M507 1379h0M432 1419h0M416 1437h0M404 1465h0M433 1417h0M488 1436h0M545 1410h0M446 1435h0M496 1380h0M436 1466h0M559 1385h0M465 1407h0M422 1455h0M452 1446h0M445 1403h0M405 1470h0M542 1378h0M491 1406h0M480 1402h0M439 1436h0M471 1441h0M528 1380h0M431 1458h0M552 1389h0M522 1372h0M466 1431h0M426 1476h0M530 1456h0M543 1397h0M515 1397h0M525 1426h0M457 1419h0M551 1364h0M509 1462h0M480 1401h0M437 1454h0M485 1446h0M533 1429h0M522 1423h0M567 1359h0M453 1442h0M426 1478h0M539 1427h0M476 1408h0M508 1459h0M529 1444h0M421 1455h0M519 1456h0M471 1377h0M450 1426h0M542 1398h0M409 1439h0M417 1462h0M443 1436h0M554 1373h0M459 1449h0M511 1423h0M550 1363h0M577 1386h0M495 1419h0M517 1455h0M551 1391h0M437 1453h0M459 1470h0M548 1366h0M485 1382h0M418 1447h0M483 1458h0M543 1407h0M518 1452h0M500 1445h0M408 1467h0M460 1435h0M542 1387h0M441 1473h0M440 1404h0M437 1430h0M409 1417h0M551 1433h0M485 1437h0M499 1422h0M435 1448h0M464 1383h0M484 1402h0M494 1462h0M465 1435h0M485 1383h0M448 1466h0M433 1468h0M408 1471h0M467 1427h0M473 1465h0M468 1396h0M465 1410h0M518 1366h0M529 1453h0M487 1395h0M527 1421h0M488 1458h0M463 1406h0M529 1456h0M526 1408h0M478 1466h0M489 1408h0M457 1428h0M461 1414h0M450 1409h0M443 1400h0M511 1371h0M404 1444h0M453 1460h0M476 1396h0M487 1453h0M419 1428h0M511 1421h0M526 1413h0M442 1407h0M453 1461h0M494 1410h0M470 1400h0M459 1387h0M476 1407h0M516 1428h0M432 1433h0M493 1422h0M562 1358h0M548 1359h0M539 1416h0M555 1374h0M434 1457h0M532 1469h0M446 1439h0M544 1378h0M543 1434h0M541 1398h0M465 1415h0M537 1429h0M434 1469h0M423 1476h0M508 1442h0M502 1452h0M549 1387h0M443 1418h0M502 1442h0M395 1446h0M473 1396h0M516 1366h0M526 1436h0M502 1389h0M568 1401h0M514 1439h0M484 1395h0M449 1444h0M495 1432h0M445 1467h0M418 1439h0M420 1458h0M451 1473h0M446 1429h0M498 1409h0M560 1382h0M499 1424h0M466 1424h0M535 1449h0M425 1411h0M503 1378h0M431 1463h0M470 1448h0M543 1390h0M547 1401h0M390 1461h0M544 1361h0M495 1374h0M471 1425h0M451 1438h0M499 1400h0M479 1418h0M498 1429h0M517 1433h0M512 1384h0M538 1390h0M538 1364h0M511 1422h0M448 1477h0M458 1459h0M540 1373h0M481 1389h0M412 1477h0M456 1417h0M523 1400h0M442 1443h0M399 1471h0M444 1442h0M513 1410h0M492 1429h0M420 1453h0M524 1459h0M501 1418h0M492 1423h0M546 1349h0M479 1464h0M475 1400h0M433 1455h0M451 1444h0M529 1398h0M439 1438h0M448 1456h0M440 1421h0M489 1411h0M432 1457h0M531 1359h0M469 1393h0M524 1428h0M457 1430h0M423 1429h0M507 1458h0M430 1456h0M508 1436h0M552 1372h0M495 1453h0M546 1410h0M472 1455h0M463 1413h0M555 1370h0M477 1430h0M479 1456h0M513 1452h0M490 1442h0M525 1364h0M505 1419h0M527 1389h0M411 1434h0M406 1456h0M540 1402h0M430 1428h0M454 1429h0M429 1426h0M447 1394h0M473 1447h0M417 1471h0M478 1407h0M555 1393h0M503 1425h0M453 1463h0M486 1428h0M433 1437h0M401 1471h0M447 1453h0M407 1456h0M468 1410h0M485 1439h0M528 1423h0M426 1432h0M568 1364h0M565 1369h0M499 1385h0M444 1436h0M461 1410h0M608 1312h0M590 1292h0M616 1296h0M612 1292h0M625 1301h0M605 1280h0M637 1322h0M604 1280h0M601 1314h0M612 1319h0M629 1316h0M598 1294h0M594 1276h0M611 1330h0M568 1270h0M615 1287h0M607 1296h0M642 1330h0M627 1353h0M629 1319h0M572 1306h0M570 1330h0M604 1308h0M625 1345h0M626 1282h0M633 1296h0M592 1337h0M592 1285h0M624 1309h0M626 1340h0M616 1327h0M637 1313h0M659 1310h0M660 1294h0M607 1339h0M617 1296h0M615 1283h0M588 1279h0M625 1299h0M580 1295h0M595 1300h0M629 1260h0M621 1267h0M597 1302h0M635 1301h0M625 1338h0M621 1315h0M576 1293h0M625 1333h0M625 1271h0M620 1321h0M621 1300h0M632 1296h0M624 1323h0M590 1312h0M616 1299h0M607 1316h0M627 1263h0M626 1307h0M631 1359h0M634 1321h0M611 1331h0M629 1295h0M608 1315h0M624 1301h0M594 1281h0M615 1301h0M613 1291h0M632 1316h0M599 1307h0M610 1289h0M601 1312h0M598 1320h0M576 1272h0M638 1330h0M600 1296h0M618 1317h0M622 1322h0M636 1305h0M597 1344h0M608 1278h0M599 1345h0M603 1293h0M581 1313h0M619 1337h0M608 1349h0M619 1309h0M627 1300h0M650 1297h0M630 1308h0M608 1326h0M621 1330h0M606 1290h0M608 1265h0M619 1295h0M631 1330h0M591 1289h0M619 1308h0M613 1299h0M632 1329h0M624 1310h0M608 1354h0M603 1306h0M618 1377h0M628 1360h0M601 1309h0M601 1319h0M597 1273h0M633 1267h0M624 1279h0M598 1314h0M613 1328h0M600 1307h0M590 1311h0M576 1263h0M601 1321h0M615 1296h0M612 1330h0M641 1285h0M632 1343h0M591 1284h0M625 1311h0M628 1293h0M631 1290h0M618 1321h0M619 1311h0M615 1321h0M599 1303h0M608 1305h0M605 1344h0M629 1309h0M622 1299h0M618 1342h0M610 1295h0M619 1303h0M643 1294h0M612 1328h0M615 1297h0M609 1316h0M661 1263h0M643 1298h0M611 1300h0M588 1316h0M610 1328h0M638 1318h0M615 1252h0M621 1288h0M625 1313h0M608 1298h0M617 1284h0M635 1314h0M602 1279h0M610 1278h0M591 1342h0M589 1316h0M631 1328h0M611 1297h0M627 1298h0M605 1328h0M600 1293h0M591 1305h0M602 1304h0M602 1282h0M600 1262h0M611 1370h0M615 1284h0M645 1245h0M595 1278h0M603 1307h0M644 1287h0M579 1336h0M595 1287h0M617 1303h0M632 1326h0M624 1286h0M599 1329h0M623 1278h0M623 1280h0M621 1306h0M620 1271h0M601 1300h0M605 1302h0M617 1289h0M610 1300h0M611 1306h0M627 1341h0M594 1284h0M647 1318h0M623 1323h0M604 1323h0M610 1240h0M595 1282h0M597 1291h0M619 1310h0M622 1283h0M602 1324h0M631 1274h0M617 1304h0M613 1334h0M598 1333h0M618 1308h0M604 1303h0M636 1284h0M601 1327h0M607 1334h0M606 1297h0M592 1328h0M598 1326h0M616 1298h0M594 1301h0M588 1285h0M600 1294h0M613 1269h0M638 1313h0M588 1297h0M612 1313h0M600 1278h0M593 1341h0M616 1279h0M607 1343h0M612 1285h0M583 1327h0M583 1322h0M605 1294h0M604 1299h0M588 1286h0M605 1284h0M600 1333h0M604 1284h0M615 1328h0M603 1313h0M597 1317h0M611 1316h0M616 1291h0M612 1337h0M617 1326h0M630 1352h0M620 1340h0M606 1288h0M634 1269h0M615 1274h0M663 1319h0M611 1255h0M612 1301h0M625 1329h0M624 1313h0M608 1296h0M615 1285h0M611 1293h0M581 1303h0M612 1269h0M608 1266h0M628 1299h0M623 1262h0M602 1290h0M592 1321h0M598 1287h0M614 1291h0M598 1310h0M609 1305h0M619 1315h0M604 1327h0M620 1305h0M621 1295h0M628 1343h0M614 1317h0M581 1289h0M622 1261h0M602 1320h0M623 1296h0M632 1310h0M617 1307h0M626 1287h0M624 1333h0M603 1322h0M637 1314h0M606 1269h0M615 1305h0M606 1304h0M592 1314h0M612 1315h0M600 1314h0M621 1250h0M645 1322h0M603 1330h0M672 1290h0M636 1319h0M594 1238h0M582 1291h0M624 1307h0M653 1322h0M589 1295h0M592 1308h0M609 1295h0M620 1291h0M637 1339h0M613 1301h0M621 1284h0M577 1317h0M586 1262h0M618 1294h0M615 1290h0M604 1319h0M634 1290h0M625 1327h0M611 1324h0M603 1309h0M632 1322h0M605 1339h0M631 1289h0M632 1312h0M644 1289h0M614 1298h0M648 1281h0M641 1332h0M620 1284h0M609 1194h0M626 1237h0M635 1238h0M646 1216h0M646 1208h0M600 1241h0M644 1263h0M645 1224h0M636 1206h0M625 1227h0M639 1188h0M647 1245h0M658 1249h0M653 1256h0M628 1258h0M649 1233h0M649 1209h0M649 1227h0M649 1217h0M640 1223h0M665 1230h0M618 1196h0M607 1222h0M653 1212h0M635 1234h0M660 1218h0M624 1195h0M636 1235h0M662 1231h0M645 1225h0M655 1242h0M626 1206h0M645 1241h0M656 1257h0M640 1235h0M652 1273h0M634 1267h0M642 1220h0M670 1200h0M610 1214h0M633 1179h0M616 1223h0M639 1202h0M651 1207h0M634 1221h0M641 1251h0M667 1253h0M621 1210h0M627 1227h0M641 1207h0M629 1215h0M671 1254h0M636 1239h0M632 1212h0M668 1230h0M641 1226h0M658 1211h0M653 1244h0M642 1225h0M628 1228h0M650 1209h0M625 1196h0M631 1206h0M659 1207h0M608 1233h0M640 1218h0M637 1244h0M654 1231h0M651 1223h0M637 1239h0M644 1220h0M638 1225h0M659 1201h0M650 1222h0M652 1204h0M651 1192h0M654 1244h0M652 1221h0M635 1196h0M669 1240h0M644 1212h0M645 1248h0M641 1196h0M639 1243h0M627 1259h0M632 1243h0M637 1236h0M645 1189h0M638 1207h0M636 1250h0M639 1277h0M647 1233h0M640 1219h0M630 1235h0M646 1187h0M625 1224h0M647 1210h0M635 1228h0M577 1285h0M586 1323h0M615 1304h0M620 1196h0M597 1339h0M611 1288h0M607 1337h0M643 1328h0M618 1331h0M585 1319h0M584 1258h0M614 1338h0M574 1287h0M594 1254h0M580 1314h0M561 1292h0M600 1272h0M600 1302h0M635 1352h0M571 1441h0M657 1270h0M604 1294h0M594 1296h0M584 1301h0M646 1355h0M602 1233h0M651 1326h0M640 1305h0M604 1265h0M673 1250h0M636 1236h0M559 1279h0M554 1372h0M549 1261h0M592 1351h0M611 1281h0M636 1341h0M645 1328h0M589 1280h0M545 1306h0M612 1279h0M604 1359h0M630 1310h0M535 1274h0M641 1268h0M641 1287h0M639 1224h0M544 1325h0M563 1344h0M607 1265h0M671 1270h0M582 1290h0M616 1342h0M622 1337h0M604 1258h0M639 1359h0M598 1353h0M635 1315h0M602 1356h0M598 1252h0M603 1316h0M586 1268h0M640 1328h0M540 1302h0M570 1185h0M617 1333h0M650 1345h0M616 1330h0M709 971h0M677 1063h0M655 1097h0M668 1106h0M680 1104h0M657 1112h0M647 1121h0M635 1161h0M639 1162h0M674 1161h0M650 1166h0M611 1170h0M638 1174h0M643 1174h0" stroke="#1f77b4" stroke-width="5.8" stroke-linecap="round" fill="none"/>
<path d="M651 1371h0M679 1355h0M618 1384h0M622 1401h0M660 1333h0M650 1342h0M664 1342h0M657 1372h0M634 1397h0M650 1404h0M694 1318h0M620 1376h0M646 1374h0M659 1349h0M668 1364h0M665 1333h0M672 1378h0M645 1348h0M677 1332h0M689 1321h0M618 1406h0M656 1335h0M651 1305h0M616 1381h0M652 1335h0M665 1358h0M667 1355h0M678 1343h0M699 1361h0M659 1369h0M635 1381h0M676 1417h0M664 1345h0M657 1365h0M650 1363h0M645 1369h0M648 1342h0M638 1368h0M646 1319h0M662 1340h0M660 1354h0M656 1318h0M659 1352h0M636 1372h0M672 1342h0M639 1351h0M646 1334h0M641 1377h0M661 1369h0M650 1374h0M685 1348h0M660 1347h0M672 1341h0M678 1350h0M649 1366h0M667 1363h0M650 1364h0M651 1390h0M666 1364h0M617 1417h0M685 1355h0M644 1356h0M664 1392h0M652 1363h0M657 1383h0M604 1403h0M648 1319h0M644 1370h0M669 1353h0M664 1333h0M628 1377h0M656 1369h0M674 1379h0M691 1321h0M647 1372h0M687 1323h0M680 1343h0M633 1352h0M617 1401h0M639 1399h0M646 1365h0M671 1356h0M630 1385h0M658 1352h0M635 1384h0M644 1368h0M658 1341h0M647 1365h0M656 1358h0M649 1353h0M662 1331h0M679 1334h0M675 1320h0M652 1344h0M653 1341h0M657 1374h0M680 1350h0M648 1388h0M653 1360h0M668 1362h0M651 1340h0M638 1407h0M627 1346h0M670 1330h0M650 1354h0M665 1346h0M653 1376h0M654 1374h0M645 1351h0M679 1342h0M633 1396h0M627 1375h0M644 1397h0M659 1347h0M662 1323h0M691 1338h0M647 1339h0M663 1392h0M632 1375h0M643 1365h0M667 1370h0M678 1315h0M701 1354h0M705 1291h0M665 1314h0M648 1385h0M666 1371h0M660 1367h0M642 1372h0M655 1330h0M629 1391h0M643 1372h0M687 1368h0M641 1359h0M632 1368h0M657 1358h0M641 1358h0M676 1338h0M651 1363h0M666 1345h0M646 1367h0M652 1353h0M651 1345h0M645 1366h0M639 1361h0M651 1358h0M666 1342h0M665 1323h0M651 1377h0M670 1336h0M692 1310h0M637 1360h0M628 1369h0M644 1389h0M683 1321h0M657 1351h0M643 1386h0M653 1348h0M635 1341h0M633 1395h0M647 1328h0M650 1373h0M660 1374h0M681 1336h0M665 1386h0M655 1339h0M653 1357h0M642 1333h0M667 1334h0M663 1393h0M668 1361h0M680 1335h0M633 1403h0M626 1333h0M648 1333h0M634 1357h0M682 1317h0M629 1387h0M672 1385h0M631 1390h0M654 1347h0M656 1384h0M652 1354h0M667 1327h0M617 1407h0M647 1367h0M676 1349h0M674 1324h0M661 1336h0M667 1336h0M662 1350h0M681 1332h0M677 1331h0M627 1402h0M669 1333h0M699 1347h0M646 1345h0M668 1366h0M654 1394h0M662 1298h0M648 1353h0M654 1318h0M691 1310h0M678 1359h0M680 1369h0M667 1329h0M663 1325h0M666 1370h0M640 1426h0M682 1346h0M656 1371h0M661 1334h0M686 1321h0M678 1324h0M656 1353h0M645 1361h0M668 1354h0M637 1377h0M692 1347h0M641 1329h0M669 1348h0M623 1382h0M652 1381h0M665 1348h0M654 1393h0M662 1326h0M675 1318h0M640 1346h0M669 1389h0M672 1323h0M664 1386h0M670 1367h0M681 1323h0M686 1345h0M654 1378h0M673 1328h0M677 1336h0M656 1343h0M654 1311h0M662 1385h0M645 1342h0M666 1311h0M652 1375h0M674 1327h0M638 1392h0M625 1400h0M687 1320h0M630 1410h0M642 1386h0M649 1361h0M642 1355h0M682 1329h0M645 1388h0M651 1362h0M663 1378h0M684 1333h0M637 1338h0M643 1366h0M637 1335h0M654 1392h0M652 1339h0M681 1317h0M640 1362h0M661 1363h0M626 1391h0M651 1361h0M699 1316h0M668 1369h0M658 1360h0M660 1377h0M652 1371h0M641 1389h0M685 1323h0M611 1399h0M674 1366h0M660 1318h0M636 1411h0M663 1337h0M638 1374h0M675 1391h0M682 1364h0M638 1346h0M647 1383h0M667 1324h0M693 1341h0M671 1316h0M630 1370h0M653 1384h0M668 1400h0M645 1373h0M622 1409h0M663 1391h0M628 1398h0M675 1329h0M670 1309h0M643 1370h0M676 1309h0M680 1349h0M654 1353h0M659 1365h0M667 1382h0M670 1351h0M634 1363h0M663 1354h0M669 1336h0M672 1344h0M681 1342h0M655 1379h0M668 1336h0M641 1354h0M652 1343h0M674 1367h0M659 1393h0M694 1359h0M638 1335h0M651 1392h0M672 1367h0M680 1265h0M657 1327h0M646 1370h0M639 1353h0M674 1382h0M667 1385h0M665 1327h0M643 1356h0M659 1309h0M647 1311h0M645 1410h0M672 1355h0M675 1341h0M635 1364h0M651 1381h0M658 1390h0M671 1343h0M644 1371h0M689 1308h0M645 1354h0M676 1310h0M668 1353h0M653 1361h0M661 1327h0M614 1400h0M612 1379h0M643 1387h0M667 1351h0M661 1353h0M699 1333h0M667 1339h0M682 1341h0M675 1370h0M623 1343h0M636 1350h0M652 1360h0M630 1343h0M683 1306h0M667 1340h0M659 1370h0M644 1343h0M653 1367h0M637 1395h0M647 1391h0M615 1355h0M684 1349h0M647 1387h0M673 1374h0M676 1316h0M655 1343h0M644 1387h0M654 1364h0M665 1365h0M672 1335h0M667 1361h0M634 1371h0M639 1372h0M659 1359h0M696 1326h0M675 1336h0M636 1382h0M688 1363h0M644 1388h0M670 1366h0M672 1356h0M648 1374h0M628 1392h0M655 1375h0M659 1339h0M660 1338h0M639 1330h0M661 1332h0M678 1327h0M659 1329h0M673 1350h0M651 1365h0M657 1373h0M688 1334h0M616 1395h0M676 1297h0M682 1315h0M656 1360h0M654 1354h0M630 1403h0M619 1403h0M663 1357h0M644 1326h0M630 1394h0M649 1356h0M639 1354h0M662 1351h0M658 1385h0M645 1359h0M668 1370h0M663 1341h0M675 1327h0M674 1388h0M647 1364h0M632 1345h0M668 1338h0M629 1390h0M681 1316h0M638 1369h0M660 1296h0M675 1342h0M681 1334h0M666 1380h0M652 1379h0M697 1278h0M706 1242h0M692 1298h0M690 1284h0M697 1272h0M696 1268h0M688 1311h0M679 1293h0M676 1302h0M702 1271h0M686 1272h0M708 1299h0M696 1288h0M694 1286h0M682 1269h0M700 1266h0M690 1277h0M711 1267h0M691 1281h0" stroke="#9467bd" stroke-width="5.8" stroke-linecap="round" fill="none"/>
<path d="M153.3 1517.3L711.3 1305.3" stroke="#000" stroke-width="3.6" stroke-dasharray="14 6.5" fill="none"/>
<rect x="143.7" y="961.2" width="407.1" height="119.7" rx="6" ry="6" fill="#fff" fill-opacity="0.8" stroke="#d0d0d0" stroke-width="1.5"/>
<circle cx="196.6" cy="995.4" r="6.3" fill="#2ca02c"/>
<text x="261.5" y="1005.6" font-size="35.5" text-anchor="start" fill="#262626">C2</text>
<circle cx="196.6" cy="1049.7" r="6.3" fill="#17becf"/>
<text x="261.5" y="1059.9" font-size="35.5" text-anchor="start" fill="#262626">C3</text>
<circle cx="420.9" cy="995.4" r="6.3" fill="#1f77b4"/>
<text x="485.8" y="1005.6" font-size="35.5" text-anchor="start" fill="#262626">C4</text>
<circle cx="420.9" cy="1049.7" r="6.3" fill="#9467bd"/>
<text x="485.8" y="1059.9" font-size="35.5" text-anchor="start" fill="#262626">C5</text>
<path d="M153.3 1556.4v-9.5M153.3 944v9.5M264.9 1556.4v-9.5M264.9 944v9.5M376.5 1556.4v-9.5M376.5 944v9.5M488.1 1556.4v-9.5M488.1 944v9.5M599.7 1556.4v-9.5M599.7 944v9.5M711.3 1556.4v-9.5M711.3 944v9.5M127.1 1528.5h9.5M739.5 1528.5h-9.5M127.1 1416.9h9.5M739.5 1416.9h-9.5M127.1 1305.3h9.5M739.5 1305.3h-9.5M127.1 1193.7h9.5M739.5 1193.7h-9.5M127.1 1082.1h9.5M739.5 1082.1h-9.5M127.1 970.5h9.5M739.5 970.5h-9.5" stroke="#111" stroke-width="1.8" fill="none"/>
<rect x="127.1" y="944" width="612.4" height="612.4" fill="none" stroke="#111" stroke-width="1.8"/>
<g font-size="28.8" fill="#262626"><text x="153.3" y="1588.3" text-anchor="middle">0.0</text><text x="264.9" y="1588.3" text-anchor="middle">0.2</text><text x="376.5" y="1588.3" text-anchor="middle">0.4</text><text x="488.1" y="1588.3" text-anchor="middle">0.6</text><text x="599.7" y="1588.3" text-anchor="middle">0.8</text><text x="711.3" y="1588.3" text-anchor="middle">1.0</text><text x="116.4" y="1541.1" text-anchor="end">0.0</text><text x="116.4" y="1429.5" text-anchor="end">0.2</text><text x="116.4" y="1317.9" text-anchor="end">0.4</text><text x="116.4" y="1206.3" text-anchor="end">0.6</text><text x="116.4" y="1094.7" text-anchor="end">0.8</text><text x="116.4" y="983.1" text-anchor="end">1.0</text></g>
<g fill="#262626"><text x="262.8" y="1638.3" font-size="40.6">Q</text><text x="295.8" y="1638.3" font-size="40.6">S</text><text x="322.2" y="1643.8" font-size="28.5">1</text><text x="356.1" y="1638.3" font-size="42.0">Uncertainty</text></g>
<g transform="translate(46.3 1600.0) rotate(-90)" fill="#262626"><text x="180.0" y="0" font-size="40.6">Q</text><text x="212.2" y="0" font-size="40.6">S</text><text x="239.0" y="5.7" font-size="28.5">2</text><text x="272.5" y="0" font-size="42.0">Uncertainty</text></g>
<g font-size="34.6" fill="#262626"><text x="182.9" y="1187.5" font-style="italic">r</text><text x="204.5" y="1187.5">=</text><text x="241.4" y="1187.5">0</text><text x="266.0" y="1187.5">.</text><text x="277.1" y="1187.5">9</text><text x="299.3" y="1187.5">4</text><text x="323.8" y="1187.5">,</text><text x="343.1" y="1187.5" font-style="italic">p</text><text x="374.0" y="1187.5">=</text><text x="410.6" y="1187.5">0</text><text x="434.7" y="1187.5">.</text><text x="447.5" y="1187.5">0</text></g>
<path d="M153.9 934.2h8.8v2.9h-8.8zM165.2 877.5h8.8v59.6h-8.8zM176.6 849h8.8v88.1h-8.8zM187.9 902.3h8.8v34.8h-8.8zM199.3 919.4h8.8v17.7h-8.8zM210.7 925h8.8v12.1h-8.8zM222 926.9h8.8v10.2h-8.8zM233.4 928.6h8.8v8.5h-8.8zM244.7 932.3h8.8v4.8h-8.8zM256.1 934.2h8.8v2.9h-8.8zM267.4 935.9h8.8v1.2h-8.8z" fill="#1f77b4"/>
<path d="M744.3 1519.1h39.2v8.2h-39.2zM744.3 1507.5h88.2v8.2h-88.2zM744.3 1496.2h43v8.2h-43zM744.3 1484.3h23.9v8.2h-23.9zM744.3 1473.6h10.8v8.2h-10.8zM744.3 1462.6h5.3v8.2h-5.3zM744.3 1451.3h3.5v8.2h-3.5zM744.3 1440h1.4v8.2h-1.4zM744.3 1418h1.3v8.2h-1.3zM744.3 1407h1.5v8.2h-1.5zM744.3 1396h1.3v8.2h-1.3z" fill="#1f77b4"/>
<path d="M1055.9 1504.8L1057.4 1487.1L1058.9 1469.9L1060.5 1453.3L1062 1437.3L1063.5 1421.8L1065 1406.9L1066.5 1392.4L1068.1 1378.4L1069.6 1364.8L1071.1 1351.7L1072.6 1338.9L1074.1 1326.6L1075.6 1314.7L1077.2 1303.1L1078.7 1291.8L1080.2 1281L1081.7 1270.4L1083.2 1260.1L1084.7 1250.2L1086.3 1240.5L1087.8 1231.1L1089.3 1222L1090.8 1213.2L1092.3 1204.6L1093.8 1196.2L1095.4 1188.1L1096.9 1180.2L1098.4 1172.5L1099.9 1165L1101.4 1157.8L1103 1150.7L1104.5 1143.8L1106 1137.1L1107.5 1130.6L1109 1124.3L1110.5 1118.1L1112.1 1112.1L1113.6 1106.2L1115.1 1100.6L1116.6 1095L1118.1 1089.6L1119.6 1084.3L1121.2 1079.2L1122.7 1074.2L1124.2 1069.3L1125.7 1064.6L1127.2 1060L1128.8 1055.5L1130.3 1051.1L1131.8 1046.8L1133.3 1042.6L1134.8 1038.6L1136.3 1034.6L1137.9 1030.7L1139.4 1027L1140.9 1023.3L1142.4 1019.7L1143.9 1016.2L1145.4 1012.8L1147 1009.5L1148.5 1006.2L1150 1003.1L1151.5 1000L1153 997L1154.6 994.1L1156.1 991.2L1157.6 988.4L1159.1 985.7L1160.6 983L1162.1 980.4L1163.7 977.9L1165.2 975.5L1166.7 973.1L1168.2 970.7L1169.7 968.4L1171.2 966.2L1172.8 964.1L1174.3 961.9L1175.8 959.9L1179 955.8L1187.5 945.7L1196 936.9L1204.5 929.3L1213 922.8L1221.5 917.2L1230 912.4L1238.5 908.2L1247 904.7L1255.5 901.8L1264 899.3L1272.5 897.3L1281 895.6L1289.5 894.3L1298 893.3L1306.5 892.5L1315 891.9L1323.5 891.6L1332 891.4L1340.5 891.4L1349 891.5L1357.5 891.8L1366 892.1L1374.5 892.6L1383 893.1L1391.5 893.7L1400 894.4L1408.5 895.1L1417 895.9L1425.5 896.8L1434 897.6L1442.5 898.5L1451 899.5L1459.5 900.4L1468 901.4L1476.5 902.4L1485 903.5L1493.5 904.5L1502 905.6L1510.6 906.6L1519.1 907.7L1527.6 908.8L1536.1 909.9L1544.6 911L1553.1 912.1L1561.6 913.3L1570.1 914.4L1578.6 915.5L1587.1 916.7L1595.6 917.8L1604.1 919L1612.6 920.1L1621.1 921.3L1629.6 922.4L1638.1 923.6L1646.6 924.7L1655.1 925.9L1663.6 927L1672.1 928.2L1680.6 929.4" stroke="#1f77b4" stroke-width="3.1" fill="none" stroke-linejoin="round" stroke-linecap="square"/>
<rect x="1024.3" y="859.9" width="688.5" height="684.1" fill="none" stroke="#333" stroke-width="1.5"/>
<path d="M1049.6 1544v8M1175.8 1544v8M1302 1544v8M1428.2 1544v8M1554.4 1544v8M1680.6 1544v8M1024.3 1449.4h-8M1024.3 1314.8h-8M1024.3 1180.2h-8M1024.3 1045.6h-8M1024.3 911h-8" stroke="#262626" stroke-width="1.5" fill="none"/>
<g font-size="24" fill="#262626"><text x="1049.6" y="1579.4" text-anchor="middle">0</text><text x="1175.8" y="1579.4" text-anchor="middle">2</text><text x="1302.0" y="1579.4" text-anchor="middle">4</text><text x="1428.2" y="1579.4" text-anchor="middle">6</text><text x="1554.4" y="1579.4" text-anchor="middle">8</text><text x="1680.6" y="1579.4" text-anchor="middle">10</text><text x="1006.3" y="1459.6" text-anchor="end">0.925</text><text x="1006.3" y="1325.0" text-anchor="end">0.930</text><text x="1006.3" y="1190.4" text-anchor="end">0.935</text><text x="1006.3" y="1055.8" text-anchor="end">0.940</text><text x="1006.3" y="921.2" text-anchor="end">0.945</text></g>
<text x="1241.4" y="1625" font-size="40" text-anchor="start" fill="#262626">Force weight</text>
<text transform="translate(918.3 1396.8) rotate(-90)" font-size="40" fill="#262626">Pearson Correlation</text>
</svg>
</body></html>
